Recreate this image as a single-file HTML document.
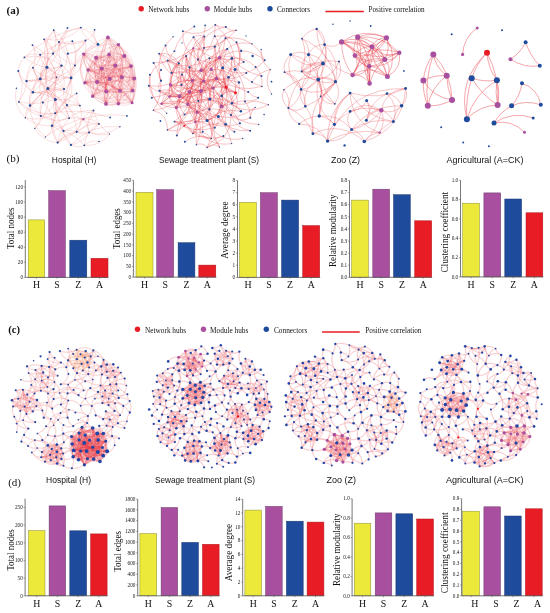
<!DOCTYPE html>
<html lang="en"><head><meta charset="utf-8"><title>Co-occurrence networks</title>
<style>html,body{margin:0;padding:0;background:#fff}svg{display:block}</style></head>
<body>
<svg width="550" height="613" viewBox="0 0 550 613" font-family='"Liberation Serif", serif' fill="#111">
<rect width="550" height="613" fill="#fff"/>
<path d="M44.1 39.3Q51.1 37.1 53.7 30.2M53.0 53.7Q58.7 42.1 53.7 30.2M67.9 53.7Q65.6 39.1 53.7 30.2M53.7 30.2Q39.5 46.8 46.9 67.3M53.7 30.2Q59.3 50.9 74.9 65.6M53.0 53.7Q64.2 43.0 67.5 27.9M67.5 27.9Q54.1 45.1 61.5 65.6M53.0 53.7Q52.8 43.9 44.1 39.3M46.9 67.3Q50.9 52.8 44.1 39.3M44.1 39.3Q55.3 57.4 74.9 65.6M40.2 78.9Q53.3 60.2 44.1 39.3M44.1 39.3Q65.7 43.5 80.8 27.6M46.9 67.3Q59.2 57.6 59.0 41.9M59.0 41.9Q40.3 55.7 40.2 78.9M71.1 77.9Q72.1 57.5 59.0 41.9M80.8 27.6Q65.9 28.6 59.0 41.9M72.4 41.3Q54.3 43.2 40.2 54.7M74.9 65.6Q77.6 53.0 72.4 41.3M32.5 45.1Q34.6 51.3 40.2 54.7M32.9 67.7Q37.9 56.3 32.5 45.1M56.5 77.3Q52.8 55.0 32.5 45.1M53.0 53.7Q46.5 52.5 40.2 54.7M40.2 54.7Q31.7 52.1 24.4 57.3M32.9 67.7Q40.1 63.2 40.2 54.7M40.2 54.7Q41.1 62.3 46.9 67.3M56.5 77.3Q54.4 61.6 40.2 54.7M40.2 54.7Q26.5 64.4 26.5 81.1M53.0 53.7Q46.3 58.9 46.9 67.3M53.0 53.7Q42.6 64.3 40.2 78.9M64.0 89.1Q66.5 68.9 53.0 53.7M85.5 40.6Q67.0 41.6 53.0 53.7M47.8 88.5Q66.4 76.1 67.9 53.7M67.9 53.7Q80.7 52.5 85.5 40.6M24.4 57.3Q34.2 65.6 46.9 67.3M61.5 65.6Q44.9 52.8 24.4 57.3M24.4 57.3Q19.0 63.1 18.3 70.9M32.9 67.7Q42.0 79.2 56.5 77.3M32.9 67.7Q34.7 74.5 40.2 78.9M32.9 67.7Q27.1 73.2 26.5 81.1M32.9 67.7Q35.9 81.3 47.8 88.5M32.9 67.7Q38.7 87.4 55.4 99.5M46.9 67.3Q54.6 69.8 61.5 65.6M56.5 77.3Q54.6 69.5 46.9 67.3M46.9 67.3Q40.2 71.2 40.2 78.9M46.9 67.3Q57.3 76.4 71.1 77.9M46.9 67.3Q43.6 78.1 47.8 88.5M64.0 89.1Q58.4 75.9 46.9 67.3M46.9 67.3Q34.2 76.6 32.9 92.3M46.9 67.3Q42.0 85.8 55.4 99.5M46.9 67.3Q34.5 83.7 42.8 102.5M30.0 105.5Q49.3 91.2 46.9 67.3M61.5 65.6Q49.0 69.2 40.2 78.9M71.1 77.9Q68.8 69.8 61.5 65.6M26.5 81.1Q48.1 82.6 61.5 65.6M61.5 65.6Q50.7 74.7 47.8 88.5M61.5 65.6Q53.0 81.6 55.4 99.5M40.2 78.9Q60.8 80.8 74.9 65.6M74.9 65.6Q69.8 70.8 71.1 77.9M47.8 88.5Q65.6 82.1 74.9 65.6M85.5 40.6Q73.6 50.3 74.9 65.6M98.0 44.4Q80.6 48.6 74.9 65.6M18.3 70.9Q20.3 77.7 26.5 81.1M18.3 70.9Q21.1 84.6 32.9 92.3M18.9 101.9Q25.9 86.3 18.3 70.9M47.8 88.5Q54.4 84.7 56.5 77.3M56.5 77.3Q51.9 88.2 55.4 99.5M42.8 102.5Q56.6 93.7 56.5 77.3M26.5 81.1Q33.6 81.9 40.2 78.9M40.2 78.9Q42.7 84.7 47.8 88.5M40.2 78.9Q34.3 84.4 32.9 92.3M40.2 78.9Q44.6 91.6 55.4 99.5M40.2 78.9Q27.2 89.2 30.0 105.5M71.1 77.9Q56.6 76.9 47.8 88.5M64.0 89.1Q70.6 85.4 71.1 77.9M71.1 77.9Q47.9 74.1 32.9 92.3M55.4 99.5Q69.2 93.0 71.1 77.9M67.0 105.2Q74.2 92.3 71.1 77.9M55.2 113.3Q70.6 98.9 71.1 77.9M71.1 77.9Q60.9 97.6 69.2 118.2M71.1 77.9Q89.0 63.4 85.5 40.6M98.0 44.4Q77.0 55.1 71.1 77.9M64.0 89.1Q47.6 74.0 26.5 81.1M26.5 81.1Q27.1 88.2 32.9 92.3M18.9 101.9Q25.6 92.6 26.5 81.1M16.4 88.3Q12.0 105.7 25.3 117.8M47.8 88.5Q55.7 93.6 64.0 89.1M32.9 92.3Q41.5 94.7 47.8 88.5M55.4 99.5Q54.4 92.0 47.8 88.5M42.8 102.5Q49.3 96.9 47.8 88.5M30.0 105.5Q42.1 100.3 47.8 88.5M79.9 105.6Q68.9 87.7 47.8 88.5M55.2 113.3Q57.4 99.1 47.8 88.5M47.8 88.5Q37.1 100.4 40.8 116.0M47.8 88.5Q31.9 99.6 25.3 117.8M69.2 118.2Q63.8 99.5 47.8 88.5M34.8 128.4Q51.7 111.8 47.8 88.5M64.0 89.1Q42.0 86.9 30.0 105.5M64.0 89.1Q62.1 97.8 67.0 105.2M55.4 99.5Q45.2 92.8 32.9 92.3M32.9 92.3Q28.4 98.2 30.0 105.5M67.0 105.2Q53.7 88.8 32.9 92.3M76.6 93.4Q76.1 100.1 79.9 105.6M76.6 93.4Q62.5 99.6 55.2 113.3M76.6 93.4Q56.6 103.7 52.0 125.8M18.9 101.9Q37.5 105.8 55.4 99.5M67.0 105.2Q62.6 99.5 55.4 99.5M79.9 105.6Q68.9 97.6 55.4 99.5M40.8 116.0Q52.6 111.7 55.4 99.5M55.4 99.5Q58.0 112.0 69.2 118.2M52.0 125.8Q60.0 113.5 55.4 99.5M55.4 99.5Q55.1 116.3 63.5 130.9M52.0 125.8Q53.4 111.8 42.8 102.5M18.9 101.9Q34.4 116.0 55.2 113.3M18.9 101.9Q27.8 112.1 40.8 116.0M40.8 116.0Q36.9 109.2 30.0 105.5M30.0 105.5Q25.0 110.6 25.3 117.8M30.0 105.5Q30.0 125.0 45.4 136.9M79.9 105.6Q73.5 102.7 67.0 105.2M55.2 113.3Q63.0 112.0 67.0 105.2M76.7 131.8Q76.4 116.8 67.0 105.2M67.0 105.2Q77.7 123.5 98.9 123.9M79.9 105.6Q65.8 103.9 55.2 113.3M76.7 131.8Q84.4 119.4 79.9 105.6M25.3 117.8Q41.2 122.0 55.2 113.3M55.2 113.3Q50.1 128.5 57.7 142.6M40.8 116.0Q54.5 123.8 69.2 118.2M63.5 130.9Q56.3 117.1 40.8 116.0M25.3 117.8Q37.1 126.8 52.0 125.8M69.2 118.2Q59.9 128.7 57.7 142.6M93.5 110.5Q79.7 109.1 69.2 118.2M63.5 130.9Q59.3 124.8 52.0 125.8M45.4 136.9Q51.8 133.2 52.0 125.8M52.0 125.8Q52.0 135.2 57.7 142.6M70.9 144.9Q65.4 131.5 52.0 125.8M34.8 128.4Q42.3 141.9 57.7 142.6M76.7 131.8Q70.3 129.1 63.5 130.9M57.7 142.6Q63.6 138.3 63.5 130.9M63.5 130.9Q64.3 139.4 70.9 144.9M84.3 145.3Q75.9 135.2 63.5 130.9M76.7 131.8Q64.8 132.9 57.7 142.6M76.7 131.8Q91.0 125.8 93.5 110.5M98.9 123.9Q86.2 123.3 76.7 131.8M76.7 131.8Q82.7 135.9 89.1 132.4M89.1 132.4Q70.9 129.8 57.7 142.6M70.9 144.9Q83.0 143.1 89.1 132.4M70.9 144.9Q77.5 148.7 84.3 145.3M80.8 27.6Q84.5 41.0 98.0 44.4M85.5 40.6Q93.3 37.9 94.6 29.8M94.6 29.8Q92.4 38.0 98.0 44.4M93.5 110.5Q84.7 120.1 89.1 132.4M93.5 110.5Q97.3 125.1 109.5 134.1M89.1 132.4Q95.3 129.7 98.9 123.9M98.9 123.9Q85.7 130.6 84.3 145.3M89.1 132.4Q106.0 137.4 119.9 126.7M89.1 132.4Q99.0 136.8 109.5 134.1M84.3 145.3Q100.2 147.1 109.5 134.1M59.0 41.9Q72.5 46.7 85.5 40.6M67.9 53.7Q80.7 52.5 85.5 40.6M46.9 67.3Q48.9 75.0 56.5 77.3M64.0 89.1Q56.0 86.1 47.8 88.5M55.4 99.5Q51.6 106.3 55.2 113.3M42.8 102.5Q39.9 109.0 40.8 116.0M34.8 128.4Q40.3 123.4 40.8 116.0M63.5 130.9Q75.0 127.7 83.4 119.1M98.0 44.4Q93.4 31.9 80.8 27.6M99.0 141.5Q90.6 139.4 84.3 145.3M131.1 66.1Q130.1 59.4 124.3 56.0M121.8 77.3Q116.9 83.5 120.0 90.8M118.4 103.8Q115.1 95.0 106.3 91.5M132.7 90.6Q122.0 93.4 118.4 103.8M110.1 117.5Q75.7 105.5 40.8 116.0M80.8 27.6Q48.2 34.1 24.4 57.3M126.9 115.9Q81.9 109.8 45.4 136.9M119.9 126.7Q90.8 123.4 70.9 144.9M83.4 119.1Q65.9 113.9 52.0 125.8M57.7 142.6Q76.1 136.9 83.4 119.1M93.5 110.5Q86.5 112.5 83.4 119.1M98.9 123.9Q92.4 117.5 83.4 119.1M89.1 132.4Q88.2 124.9 83.4 119.1" fill="none" stroke="#e63a44" stroke-width="0.17" stroke-opacity="1" stroke-linecap="round"/>
<path d="M118.4 44.6Q114.6 38.8 107.9 37.4M107.9 37.4Q93.0 41.7 83.6 54.1M109.1 54.6Q114.3 45.6 107.9 37.4M107.9 37.4Q110.7 51.4 124.3 56.0M96.1 57.8Q105.5 49.6 107.9 37.4M115.4 65.4Q120.8 48.9 107.9 37.4M131.1 66.1Q125.2 47.2 107.9 37.4M107.9 37.4Q98.5 51.8 101.8 68.6M88.1 70.0Q104.9 57.9 107.9 37.4M121.8 77.3Q126.7 53.2 107.9 37.4M107.9 37.4Q110.1 65.0 134.3 78.5M109.7 78.8Q120.8 57.6 107.9 37.4M107.9 37.4Q88.1 56.2 97.1 82.0M107.9 37.4Q86.3 54.9 84.9 82.7M107.9 37.4Q98.9 64.2 106.3 91.5M120.0 90.8Q128.4 60.8 107.9 37.4M132.7 90.6Q137.7 55.9 107.9 37.4M118.4 44.6Q98.8 41.5 83.6 54.1M118.4 44.6Q110.5 46.5 109.1 54.6M124.3 56.0Q123.3 49.3 118.4 44.6M96.1 57.8Q109.8 55.5 118.4 44.6M118.4 44.6Q109.7 54.0 115.4 65.4M118.4 44.6Q121.0 57.6 131.1 66.1M101.8 68.6Q115.4 60.3 118.4 44.6M118.4 44.6Q95.5 48.0 88.1 70.0M121.8 77.3Q131.1 59.8 118.4 44.6M134.3 78.5Q137.3 56.4 118.4 44.6M118.4 44.6Q104.2 59.2 109.7 78.8M118.4 44.6Q100.4 59.1 97.1 82.0M118.4 44.6Q90.1 53.5 84.9 82.7M118.4 44.6Q103.6 65.8 106.3 91.5M120.0 90.8Q126.5 67.4 118.4 44.6M132.7 90.6Q133.9 65.0 118.4 44.6M92.7 96.2Q119.0 77.1 118.4 44.6M118.4 103.8Q129.4 74.2 118.4 44.6M132.1 102.7Q144.6 69.1 118.4 44.6M83.6 54.1Q96.2 62.0 109.1 54.6M124.3 56.0Q104.3 47.8 83.6 54.1M96.1 57.8Q90.9 52.5 83.6 54.1M83.6 54.1Q95.9 70.0 115.4 65.4M83.6 54.1Q103.2 76.6 131.1 66.1M83.6 54.1Q89.7 65.1 101.8 68.6M83.6 54.1Q82.1 63.1 88.1 70.0M121.8 77.3Q110.7 52.5 83.6 54.1M83.6 54.1Q104.1 76.4 134.3 78.5M83.6 54.1Q88.9 74.7 109.7 78.8M83.6 54.1Q83.7 71.3 97.1 82.0M83.6 54.1Q76.0 68.8 84.9 82.7M106.3 91.5Q105.8 66.2 83.6 54.1M83.6 54.1Q93.2 80.9 120.0 90.8M83.6 54.1Q73.8 78.2 92.7 96.2M106.0 103.9Q110.6 71.9 83.6 54.1M124.3 56.0Q116.9 53.0 109.1 54.6M96.1 57.8Q103.3 58.9 109.1 54.6M109.1 54.6Q109.0 61.9 115.4 65.4M131.1 66.1Q122.1 56.6 109.1 54.6M101.8 68.6Q110.1 64.0 109.1 54.6M109.1 54.6Q95.3 57.9 88.1 70.0M121.8 77.3Q121.7 62.5 109.1 54.6M109.1 54.6Q116.6 72.0 134.3 78.5M109.1 54.6Q102.3 66.9 109.7 78.8M109.1 54.6Q97.3 65.8 97.1 82.0M84.9 82.7Q103.4 74.2 109.1 54.6M109.1 54.6Q101.2 72.6 106.3 91.5M109.1 54.6Q106.2 75.2 120.0 90.8M132.7 90.6Q129.5 66.9 109.1 54.6M109.1 54.6Q91.7 71.8 92.7 96.2M106.0 103.9Q123.4 80.2 109.1 54.6M118.4 103.8Q129.6 76.2 109.1 54.6M109.1 54.6Q111.3 83.1 132.1 102.7M96.1 57.8Q110.8 65.6 124.3 56.0M124.3 56.0Q118.2 59.2 115.4 65.4M124.3 56.0Q126.1 62.1 131.1 66.1M124.3 56.0Q109.8 56.5 101.8 68.6M124.3 56.0Q102.9 54.6 88.1 70.0M124.3 56.0Q117.3 66.0 121.8 77.3M124.3 56.0Q124.9 69.2 134.3 78.5M109.7 78.8Q123.4 71.5 124.3 56.0M97.1 82.0Q115.5 74.0 124.3 56.0M124.3 56.0Q100.1 62.6 84.9 82.7M124.3 56.0Q103.1 67.6 106.3 91.5M124.3 56.0Q115.1 72.5 120.0 90.8M132.7 90.6Q136.3 71.4 124.3 56.0M124.3 56.0Q100.7 69.9 92.7 96.2M124.3 56.0Q100.5 74.4 106.0 103.9M118.4 103.8Q137.4 81.9 124.3 56.0M132.1 102.7Q143.5 76.8 124.3 56.0M96.1 57.8Q103.4 67.7 115.4 65.4M131.1 66.1Q115.3 55.0 96.1 57.8M96.1 57.8Q96.5 64.5 101.8 68.6M96.1 57.8Q90.0 62.5 88.1 70.0M121.8 77.3Q115.4 59.0 96.1 57.8M96.1 57.8Q110.9 76.1 134.3 78.5M109.7 78.8Q107.2 65.5 96.1 57.8M97.1 82.0Q103.4 69.6 96.1 57.8M96.1 57.8Q86.6 68.5 84.9 82.7M96.1 57.8Q90.0 78.0 106.3 91.5M96.1 57.8Q96.9 82.3 120.0 90.8M132.7 90.6Q123.1 64.5 96.1 57.8M96.1 57.8Q85.8 76.2 92.7 96.2M96.1 57.8Q90.4 83.1 106.0 103.9M96.1 57.8Q94.5 87.0 118.4 103.8M96.1 57.8Q104.8 87.7 132.1 102.7M115.4 65.4Q123.0 70.8 131.1 66.1M115.4 65.4Q107.7 63.0 101.8 68.6M115.4 65.4Q101.0 63.5 88.1 70.0M121.8 77.3Q122.0 69.5 115.4 65.4M134.3 78.5Q129.3 65.6 115.4 65.4M115.4 65.4Q109.1 70.6 109.7 78.8M97.1 82.0Q110.6 78.5 115.4 65.4M84.9 82.7Q103.9 80.7 115.4 65.4M106.3 91.5Q117.2 80.6 115.4 65.4M120.0 90.8Q124.1 76.9 115.4 65.4M115.4 65.4Q115.9 83.6 132.7 90.6M92.7 96.2Q113.0 87.4 115.4 65.4M115.4 65.4Q102.8 82.7 106.0 103.9M115.4 65.4Q106.9 85.4 118.4 103.8M115.4 65.4Q117.8 86.7 132.1 102.7M101.8 68.6Q117.0 73.5 131.1 66.1M88.1 70.0Q110.7 79.8 131.1 66.1M121.8 77.3Q129.4 74.1 131.1 66.1M131.1 66.1Q128.6 73.4 134.3 78.5M131.1 66.1Q117.4 67.4 109.7 78.8M97.1 82.0Q116.7 79.6 131.1 66.1M131.1 66.1Q103.5 61.8 84.9 82.7M131.1 66.1Q110.1 70.4 106.3 91.5M120.0 90.8Q132.7 81.7 131.1 66.1M132.7 90.6Q138.4 77.9 131.1 66.1M131.1 66.1Q103.4 70.3 92.7 96.2M131.1 66.1Q110.8 79.9 106.0 103.9M131.1 66.1Q116.9 82.3 118.4 103.8M132.1 102.7Q137.2 84.2 131.1 66.1M88.1 70.0Q95.2 72.2 101.8 68.6M101.8 68.6Q109.4 78.6 121.8 77.3M134.3 78.5Q120.5 65.4 101.8 68.6M101.8 68.6Q103.6 75.4 109.7 78.8M97.1 82.0Q103.4 76.7 101.8 68.6M84.9 82.7Q95.7 78.5 101.8 68.6M101.8 68.6Q98.4 81.2 106.3 91.5M101.8 68.6Q106.2 83.5 120.0 90.8M132.7 90.6Q123.5 70.8 101.8 68.6M92.7 96.2Q103.6 84.5 101.8 68.6M106.0 103.9Q111.3 85.4 101.8 68.6M118.4 103.8Q116.3 83.3 101.8 68.6M132.1 102.7Q124.1 79.3 101.8 68.6M121.8 77.3Q107.4 62.3 88.1 70.0M88.1 70.0Q108.8 87.2 134.3 78.5M109.7 78.8Q100.7 69.9 88.1 70.0M97.1 82.0Q95.5 73.8 88.1 70.0M84.9 82.7Q90.2 77.3 88.1 70.0M106.3 91.5Q103.1 75.8 88.1 70.0M120.0 90.8Q107.6 74.9 88.1 70.0M132.7 90.6Q117.1 65.8 88.1 70.0M88.1 70.0Q83.4 84.3 92.7 96.2M88.1 70.0Q90.5 90.4 106.0 103.9M118.4 103.8Q114.5 76.8 88.1 70.0M132.1 102.7Q117.2 76.8 88.1 70.0M134.3 78.5Q128.3 75.4 121.8 77.3M121.8 77.3Q115.3 74.6 109.7 78.8M121.8 77.3Q108.0 72.0 97.1 82.0M84.9 82.7Q104.8 89.8 121.8 77.3M106.3 91.5Q118.6 89.4 121.8 77.3M121.8 77.3Q118.0 83.7 120.0 90.8M121.8 77.3Q123.0 87.4 132.7 90.6M121.8 77.3Q101.7 78.2 92.7 96.2M121.8 77.3Q106.9 86.4 106.0 103.9M121.8 77.3Q114.5 89.8 118.4 103.8M132.1 102.7Q135.2 86.6 121.8 77.3M109.7 78.8Q122.1 85.6 134.3 78.5M134.3 78.5Q114.7 70.0 97.1 82.0M134.3 78.5Q108.9 72.7 84.9 82.7M106.3 91.5Q124.5 94.0 134.3 78.5M134.3 78.5Q124.5 81.5 120.0 90.8M132.7 90.6Q136.2 84.9 134.3 78.5M134.3 78.5Q109.1 77.1 92.7 96.2M134.3 78.5Q115.0 85.5 106.0 103.9M118.4 103.8Q133.9 95.9 134.3 78.5M134.3 78.5Q127.6 90.1 132.1 102.7M97.1 82.0Q104.5 84.7 109.7 78.8M109.7 78.8Q96.0 72.5 84.9 82.7M109.7 78.8Q104.2 84.1 106.3 91.5M109.7 78.8Q111.8 87.4 120.0 90.8M132.7 90.6Q123.3 80.6 109.7 78.8M109.7 78.8Q97.0 83.4 92.7 96.2M109.7 78.8Q100.2 90.2 106.0 103.9M118.4 103.8Q118.6 89.7 109.7 78.8M109.7 78.8Q113.4 97.8 132.1 102.7M97.1 82.0Q90.9 79.9 84.9 82.7M106.3 91.5Q104.0 84.5 97.1 82.0M120.0 90.8Q110.3 81.9 97.1 82.0M97.1 82.0Q112.5 96.2 132.7 90.6M92.7 96.2Q99.5 90.5 97.1 82.0M106.0 103.9Q104.9 91.6 97.1 82.0M118.4 103.8Q115.3 85.5 97.1 82.0M132.1 102.7Q118.7 85.5 97.1 82.0M84.9 82.7Q93.9 91.2 106.3 91.5M120.0 90.8Q103.9 80.6 84.9 82.7M84.9 82.7Q107.0 97.4 132.7 90.6M92.7 96.2Q92.3 87.4 84.9 82.7M106.0 103.9Q102.8 86.0 84.9 82.7M118.4 103.8Q108.6 82.3 84.9 82.7M132.1 102.7Q115.0 77.4 84.9 82.7M106.3 91.5Q113.3 94.0 120.0 90.8M132.7 90.6Q119.3 86.2 106.3 91.5M106.3 91.5Q98.7 91.5 92.7 96.2M106.3 91.5Q101.9 97.6 106.0 103.9M106.3 91.5Q108.8 101.1 118.4 103.8M132.1 102.7Q122.5 89.5 106.3 91.5M132.7 90.6Q126.3 86.6 120.0 90.8M120.0 90.8Q104.9 86.1 92.7 96.2M120.0 90.8Q110.1 94.3 106.0 103.9M120.0 90.8Q115.6 96.9 118.4 103.8M132.1 102.7Q129.7 93.0 120.0 90.8M92.7 96.2Q114.0 102.9 132.7 90.6M132.7 90.6Q116.6 91.8 106.0 103.9M132.7 90.6Q121.9 93.2 118.4 103.8M132.1 102.7Q135.6 96.8 132.7 90.6M106.0 103.9Q100.6 97.8 92.7 96.2M92.7 96.2Q103.4 107.3 118.4 103.8M92.7 96.2Q111.2 106.5 132.1 102.7M106.0 103.9Q112.2 107.0 118.4 103.8M132.1 102.7Q118.7 95.1 106.0 103.9M118.4 103.8Q125.6 107.6 132.1 102.7M107.9 37.4Q97.8 51.6 101.8 68.6M124.3 56.0Q124.1 48.9 118.4 44.6M83.6 54.1Q96.3 59.0 109.1 54.6M83.6 54.1Q83.9 71.2 97.1 82.0M83.6 54.1Q78.1 68.7 84.9 82.7M96.1 57.8Q103.3 59.1 109.1 54.6M115.4 65.4Q115.4 58.2 109.1 54.6M97.1 82.0Q110.1 71.4 109.1 54.6M124.3 56.0Q109.6 47.5 96.1 57.8M88.1 70.0Q95.9 66.4 96.1 57.8M121.8 77.3Q113.3 61.8 96.1 57.8M97.1 82.0Q104.4 69.6 96.1 57.8M131.1 66.1Q123.4 62.5 115.4 65.4M121.8 77.3Q121.9 69.6 115.4 65.4M109.7 78.8Q114.8 73.1 115.4 65.4M115.4 65.4Q103.2 70.4 97.1 82.0M115.4 65.4Q105.3 76.5 106.3 91.5M132.7 90.6Q128.5 74.9 115.4 65.4M132.1 102.7Q137.4 84.2 131.1 66.1M88.1 70.0Q95.3 73.0 101.8 68.6M109.7 78.8Q107.5 72.3 101.8 68.6M101.8 68.6Q95.9 74.0 97.1 82.0M101.8 68.6Q99.5 81.0 106.3 91.5M109.7 78.8Q101.9 66.9 88.1 70.0M121.8 77.3Q115.3 74.2 109.7 78.8M97.1 82.0Q110.6 85.7 121.8 77.3M106.3 91.5Q117.4 88.1 121.8 77.3M121.8 77.3Q106.3 86.1 106.0 103.9M134.3 78.5Q121.6 88.2 118.4 103.8M92.7 96.2Q104.9 91.1 109.7 78.8M109.7 78.8Q101.5 90.4 106.0 103.9M84.9 82.7Q91.1 84.9 97.1 82.0M97.1 82.0Q91.0 87.9 92.7 96.2M84.9 82.7Q93.9 91.2 106.3 91.5M120.0 90.8Q104.5 77.8 84.9 82.7M106.0 103.9Q98.6 90.1 84.9 82.7M92.7 96.2Q100.3 96.3 106.3 91.5M132.1 102.7Q128.7 94.0 120.0 90.8M118.4 103.8Q128.7 100.6 132.7 90.6M92.7 96.2Q102.9 108.9 118.4 103.8M118.4 103.8Q112.2 100.9 106.0 103.9M132.1 102.7Q125.1 101.2 118.4 103.8" fill="none" stroke="#e63a44" stroke-width="0.15" stroke-opacity="1" stroke-linecap="round"/>
<circle cx="53.7" cy="30.2" r="0.90" fill="#1f4b9c"/>
<circle cx="67.5" cy="27.9" r="0.90" fill="#1f4b9c"/>
<circle cx="44.1" cy="39.3" r="0.90" fill="#1f4b9c"/>
<circle cx="59.0" cy="41.9" r="1.00" fill="#1f4b9c"/>
<circle cx="72.4" cy="41.3" r="1.00" fill="#1f4b9c"/>
<circle cx="32.5" cy="45.1" r="0.90" fill="#1f4b9c"/>
<circle cx="40.2" cy="54.7" r="1.00" fill="#1f4b9c"/>
<circle cx="53.0" cy="53.7" r="1.10" fill="#1f4b9c"/>
<circle cx="67.9" cy="53.7" r="1.10" fill="#1f4b9c"/>
<circle cx="24.4" cy="57.3" r="0.90" fill="#1f4b9c"/>
<circle cx="32.9" cy="67.7" r="0.90" fill="#1f4b9c"/>
<circle cx="46.9" cy="67.3" r="1.50" fill="#1f4b9c"/>
<circle cx="61.5" cy="65.6" r="1.20" fill="#1f4b9c"/>
<circle cx="74.9" cy="65.6" r="1.00" fill="#1f4b9c"/>
<circle cx="18.3" cy="70.9" r="1.00" fill="#1f4b9c"/>
<circle cx="56.5" cy="77.3" r="0.80" fill="#1f4b9c"/>
<circle cx="40.2" cy="78.9" r="1.40" fill="#1f4b9c"/>
<circle cx="71.1" cy="77.9" r="1.40" fill="#1f4b9c"/>
<circle cx="26.5" cy="81.1" r="1.20" fill="#1f4b9c"/>
<circle cx="16.4" cy="88.3" r="0.80" fill="#1f4b9c"/>
<circle cx="47.8" cy="88.5" r="1.50" fill="#1f4b9c"/>
<circle cx="64.0" cy="89.1" r="1.10" fill="#1f4b9c"/>
<circle cx="32.9" cy="92.3" r="1.30" fill="#1f4b9c"/>
<circle cx="76.6" cy="93.4" r="0.90" fill="#1f4b9c"/>
<circle cx="55.4" cy="99.5" r="1.50" fill="#1f4b9c"/>
<circle cx="42.8" cy="102.5" r="1.10" fill="#1f4b9c"/>
<circle cx="18.9" cy="101.9" r="0.90" fill="#1f4b9c"/>
<circle cx="30.0" cy="105.5" r="1.20" fill="#1f4b9c"/>
<circle cx="67.0" cy="105.2" r="1.10" fill="#1f4b9c"/>
<circle cx="79.9" cy="105.6" r="0.90" fill="#1f4b9c"/>
<circle cx="55.2" cy="113.3" r="1.00" fill="#1f4b9c"/>
<circle cx="40.8" cy="116.0" r="1.10" fill="#1f4b9c"/>
<circle cx="25.3" cy="117.8" r="0.70" fill="#1f4b9c"/>
<circle cx="69.2" cy="118.2" r="0.90" fill="#1f4b9c"/>
<circle cx="52.0" cy="125.8" r="1.20" fill="#1f4b9c"/>
<circle cx="34.8" cy="128.4" r="0.70" fill="#1f4b9c"/>
<circle cx="63.5" cy="130.9" r="1.10" fill="#1f4b9c"/>
<circle cx="76.7" cy="131.8" r="1.10" fill="#1f4b9c"/>
<circle cx="45.4" cy="136.9" r="0.70" fill="#1f4b9c"/>
<circle cx="57.7" cy="142.6" r="1.10" fill="#1f4b9c"/>
<circle cx="70.9" cy="144.9" r="1.10" fill="#1f4b9c"/>
<circle cx="80.8" cy="27.6" r="0.90" fill="#1f4b9c"/>
<circle cx="94.6" cy="29.8" r="0.90" fill="#1f4b9c"/>
<circle cx="85.5" cy="40.6" r="1.00" fill="#1f4b9c"/>
<circle cx="98.0" cy="44.4" r="1.40" fill="#1f4b9c"/>
<circle cx="93.5" cy="110.5" r="0.90" fill="#1f4b9c"/>
<circle cx="110.1" cy="117.5" r="0.90" fill="#1f4b9c"/>
<circle cx="126.9" cy="115.9" r="0.90" fill="#1f4b9c"/>
<circle cx="98.9" cy="123.9" r="0.90" fill="#1f4b9c"/>
<circle cx="119.9" cy="126.7" r="0.70" fill="#1f4b9c"/>
<circle cx="89.1" cy="132.4" r="1.00" fill="#1f4b9c"/>
<circle cx="109.5" cy="134.1" r="0.70" fill="#1f4b9c"/>
<circle cx="99.0" cy="141.5" r="0.80" fill="#1f4b9c"/>
<circle cx="84.3" cy="145.3" r="0.90" fill="#1f4b9c"/>
<circle cx="107.9" cy="37.4" r="1.90" fill="#a8509f"/>
<circle cx="118.4" cy="44.6" r="1.70" fill="#a8509f"/>
<circle cx="83.6" cy="54.1" r="1.70" fill="#a8509f"/>
<circle cx="109.1" cy="54.6" r="1.90" fill="#a8509f"/>
<circle cx="124.3" cy="56.0" r="2.10" fill="#a8509f"/>
<circle cx="96.1" cy="57.8" r="2.00" fill="#a8509f"/>
<circle cx="115.4" cy="65.4" r="2.00" fill="#a8509f"/>
<circle cx="131.1" cy="66.1" r="1.90" fill="#a8509f"/>
<circle cx="101.8" cy="68.6" r="2.00" fill="#a8509f"/>
<circle cx="88.1" cy="70.0" r="1.70" fill="#a8509f"/>
<circle cx="121.8" cy="77.3" r="2.00" fill="#a8509f"/>
<circle cx="134.3" cy="78.5" r="1.90" fill="#a8509f"/>
<circle cx="109.7" cy="78.8" r="2.10" fill="#a8509f"/>
<circle cx="97.1" cy="82.0" r="2.10" fill="#a8509f"/>
<circle cx="84.9" cy="82.7" r="1.70" fill="#a8509f"/>
<circle cx="106.3" cy="91.5" r="2.00" fill="#a8509f"/>
<circle cx="120.0" cy="90.8" r="1.90" fill="#a8509f"/>
<circle cx="132.7" cy="90.6" r="1.90" fill="#a8509f"/>
<circle cx="92.7" cy="96.2" r="1.70" fill="#a8509f"/>
<circle cx="106.0" cy="103.9" r="1.90" fill="#a8509f"/>
<circle cx="118.4" cy="103.8" r="1.70" fill="#a8509f"/>
<circle cx="132.1" cy="102.7" r="1.50" fill="#a8509f"/>
<circle cx="83.4" cy="119.1" r="1.20" fill="#a8509f"/>
<path d="M194.3 26.6Q178.8 34.4 174.4 51.2M193.2 48.3Q205.8 40.2 205.2 25.3M182.9 31.2Q180.8 50.4 197.9 59.5M182.9 31.2Q201.1 38.3 215.3 24.8M173.1 36.8Q153.6 55.0 161.0 80.7M204.3 36.5Q198.7 33.9 193.5 37.2M193.5 37.2Q179.4 53.3 182.0 74.5M203.6 81.1Q212.2 56.0 193.5 37.2M193.5 37.2Q198.5 57.6 219.5 57.8M204.3 36.5Q201.8 42.2 204.0 48.0M197.9 59.5Q206.6 49.5 204.3 36.5M204.3 36.5Q195.1 38.9 193.2 48.3M204.3 36.5Q192.0 52.4 201.1 70.3M165.5 45.5Q166.8 58.4 178.8 63.3M181.4 84.9Q200.1 71.0 204.0 48.0M204.0 48.0Q223.6 45.4 236.1 30.2M174.4 51.2Q164.6 60.9 171.6 72.8M178.8 63.3Q172.3 51.6 159.1 53.7M171.6 72.8Q169.3 60.7 159.1 53.7M181.4 84.9Q181.3 61.4 159.1 53.7M159.1 53.7Q165.5 79.7 192.2 80.5M186.1 55.9Q175.1 61.1 171.6 72.8M182.0 74.5Q189.9 66.5 186.1 55.9M181.4 84.9Q189.9 71.4 186.1 55.9M214.8 46.7Q198.7 45.7 186.1 55.9M186.1 55.9Q182.5 69.8 192.2 80.5M186.1 55.9Q186.7 74.1 203.6 81.1M186.1 55.9Q171.0 66.5 170.5 84.9M187.7 104.2Q200.5 79.6 186.1 55.9M167.7 60.5Q189.3 73.1 209.4 58.2M222.7 67.7Q219.0 58.8 209.4 58.2M235.1 69.6Q226.7 53.9 209.4 58.2M209.4 58.2Q200.9 61.3 201.1 70.3M209.4 58.2Q209.9 84.9 235.5 92.7M171.6 72.8Q189.8 76.1 197.9 59.5M197.9 59.5Q216.0 46.8 215.3 24.8M225.9 27.0Q198.7 31.8 197.9 59.5M209.8 99.1Q211.4 77.0 197.9 59.5M203.6 81.1Q205.2 69.1 197.9 59.5M226.2 87.1Q222.3 62.8 197.9 59.5M167.7 60.5Q148.1 65.6 148.9 85.8M192.2 80.5Q184.8 64.6 167.7 60.5M167.7 60.5Q186.9 77.5 211.3 69.4M153.4 110.3Q168.6 86.7 153.6 62.9M153.6 62.9Q176.1 62.9 193.2 48.3M178.8 63.3Q172.1 75.1 181.4 84.9M178.8 63.3Q187.8 73.8 201.1 70.3M178.8 63.3Q167.2 71.2 170.5 84.9M178.8 63.3Q167.0 77.9 169.5 96.5M161.6 103.8Q182.7 88.9 178.8 63.3M181.4 84.9Q192.1 79.2 189.6 67.3M209.4 109.3Q207.2 84.7 189.6 67.3M189.6 67.3Q188.0 74.5 192.2 80.5M203.6 81.1Q202.0 68.7 189.6 67.3M176.3 107.6Q190.5 90.0 189.6 67.3M161.0 69.9Q156.9 75.3 161.0 80.7M203.6 81.1Q189.9 68.2 171.6 72.8M182.0 74.5Q179.4 79.6 181.4 84.9M148.9 85.8Q168.6 89.2 182.0 74.5M151.8 97.8Q174.5 96.0 182.0 74.5M182.0 74.5Q194.1 89.4 213.2 88.1M182.0 74.5Q185.0 90.3 201.1 91.1M187.7 104.2Q190.5 88.3 182.0 74.5M149.9 74.7Q148.0 98.5 166.7 113.3M161.0 80.7Q157.0 85.3 159.5 90.8M181.4 84.9Q196.5 94.9 213.2 88.1M181.4 84.9Q178.4 96.6 187.7 104.2M148.9 85.8Q162.3 96.7 179.5 96.2M148.9 85.8Q153.5 108.1 176.3 107.6M215.3 24.8Q220.1 28.2 225.9 27.0M235.1 69.6Q236.2 42.3 215.3 24.8M225.9 27.0Q230.0 31.7 236.1 30.2M236.1 30.2Q220.2 31.7 214.8 46.7M241.2 50.9Q234.0 32.7 214.8 36.2M219.5 57.8Q221.2 46.1 214.8 36.2M264.7 60.3Q253.2 34.9 225.5 38.2M193.2 48.3Q213.0 55.1 225.5 38.2M201.1 70.3Q224.0 62.4 225.5 38.2M225.5 38.2Q211.1 56.1 216.6 78.5M228.5 77.3Q246.1 62.9 236.5 42.3M226.2 87.1Q246.7 68.2 236.5 42.3M252.0 43.8Q230.7 39.0 219.5 57.8M201.1 70.3Q215.1 62.6 214.8 46.7M211.3 69.4Q219.0 59.0 214.8 46.7M201.1 91.1Q220.3 72.7 214.8 46.7M227.2 49.0Q237.3 71.4 261.5 76.0M227.2 49.0Q202.0 55.2 203.6 81.1M227.2 49.0Q221.0 51.3 219.5 57.8M227.2 49.0Q214.9 61.2 216.6 78.5M227.2 49.0Q218.6 67.8 226.2 87.1M241.2 50.9Q238.1 57.4 243.7 62.0M261.2 49.5Q259.9 62.1 270.2 69.6M255.6 67.1Q245.9 56.8 231.9 58.4M231.9 58.4Q225.5 61.2 222.7 67.7M231.9 58.4Q239.8 80.1 261.9 86.5M209.8 99.1Q233.6 85.7 231.9 58.4M219.5 57.8Q225.5 61.3 231.9 58.4M213.2 88.1Q232.1 79.2 231.9 58.4M231.9 58.4Q209.2 67.9 201.1 91.1M222.7 67.7Q246.8 81.5 264.7 60.3M264.7 60.3Q243.0 42.5 219.5 57.8M243.7 62.0Q219.5 70.4 221.7 95.9M243.7 62.0Q232.8 52.7 219.5 57.8M261.9 86.5Q263.5 75.2 255.6 67.1M222.7 67.7Q210.4 81.0 209.8 99.1M222.7 67.7Q229.5 86.1 248.2 92.1M221.7 95.9Q228.8 82.0 222.7 67.7M222.7 67.7Q221.9 93.6 240.9 111.2M203.6 81.1Q218.3 81.8 222.7 67.7M201.1 91.1Q217.2 84.3 222.7 67.7M228.5 77.3Q235.0 76.2 235.1 69.6M245.0 101.6Q246.4 83.6 235.1 69.6M219.5 57.8Q222.7 69.8 235.1 69.6M270.2 69.6Q258.5 71.9 252.0 82.0M270.2 69.6Q263.3 82.2 271.5 94.0M201.1 70.3Q222.8 86.8 246.3 73.1M221.7 95.9Q229.4 88.2 228.5 77.3M228.5 77.3Q210.2 99.8 225.7 124.3M216.6 78.5Q222.9 81.2 228.5 77.3M231.9 103.2Q240.9 94.7 239.0 82.4M239.0 82.4Q228.8 68.2 211.3 69.4M239.0 82.4Q224.2 76.7 213.2 88.1M239.0 82.4Q234.2 86.5 235.5 92.7M216.6 78.5Q237.3 93.4 261.9 86.5M159.5 90.8Q180.2 98.6 201.1 91.1M179.5 96.2Q171.2 87.2 159.5 90.8M176.3 107.6Q171.1 96.0 159.5 90.8M209.4 109.3Q213.2 104.3 209.8 99.1M209.8 99.1Q194.0 101.7 184.5 114.6M209.8 99.1Q193.3 119.0 196.4 144.7M231.0 115.0Q223.6 102.8 209.8 99.1M239.9 123.3Q231.7 102.7 209.8 99.1M192.2 80.5Q195.0 95.5 209.8 99.1M179.5 96.2Q193.7 107.9 209.8 99.1M192.8 133.5Q204.0 118.7 198.3 101.0M231.9 103.2Q215.6 94.0 198.3 101.0M203.6 81.1Q193.7 89.1 198.3 101.0M216.6 78.5Q201.7 85.1 198.3 101.0M213.2 88.1Q200.4 88.4 198.3 101.0M198.3 101.0Q196.2 94.3 189.6 91.8M167.4 130.0Q168.4 114.5 153.4 110.3M153.4 110.3Q174.9 107.6 189.6 91.8M209.4 109.3Q204.5 114.1 207.1 120.5M174.4 121.6Q195.2 124.8 209.4 109.3M207.1 147.5Q217.2 128.9 209.4 109.3M231.6 143.6Q227.4 122.0 209.4 109.3M209.4 109.3Q206.4 130.3 219.5 147.1M209.4 109.3Q215.0 93.5 203.6 81.1M216.6 78.5Q206.1 92.3 209.4 109.3M201.1 91.1Q200.4 102.4 209.4 109.3M209.4 109.3Q193.2 101.1 176.3 107.6M207.1 120.5Q198.2 108.5 184.5 114.6M184.5 114.6Q176.8 123.6 176.9 135.4M179.5 96.2Q177.6 106.6 184.5 114.6M197.3 112.2Q190.2 109.6 184.5 114.6M240.9 111.2Q221.6 107.0 207.1 120.5M211.3 138.5Q214.4 128.3 207.1 120.5M207.1 120.5Q217.8 143.6 242.7 138.5M207.1 120.5Q196.3 103.1 176.3 107.6M207.1 120.5Q205.0 113.1 197.3 112.2M207.1 120.5Q200.7 116.7 195.4 122.0M207.1 120.5Q218.8 117.9 221.5 106.3M207.1 120.5Q230.0 111.5 226.2 87.1M192.8 133.5Q187.5 121.5 174.4 121.6M174.4 121.6Q193.1 134.4 214.8 127.7M174.4 121.6Q190.5 111.0 189.6 91.8M174.4 121.6Q184.8 126.6 195.4 122.0M214.8 127.7Q190.3 113.0 167.4 130.0M167.4 130.0Q194.5 120.2 189.6 91.8M167.4 130.0Q177.2 133.3 184.3 125.8M202.7 131.8Q205.9 112.2 187.7 104.2M225.7 124.3Q207.0 120.9 192.8 133.5M211.3 138.5Q203.9 129.0 192.8 133.5M192.8 133.5Q202.0 111.8 189.6 91.8M192.8 133.5Q198.6 128.8 195.4 122.0M176.9 135.4Q186.2 121.3 176.3 107.6M211.3 138.5Q197.2 132.5 184.9 141.7M207.1 147.5Q202.8 141.9 196.4 144.7M196.4 144.7Q207.9 121.0 187.7 104.2M207.1 147.5Q231.0 140.0 231.0 115.0M223.4 136.0Q212.7 138.1 207.1 147.5M219.5 147.1Q213.1 142.1 207.1 147.5M248.2 92.1Q252.1 96.8 258.1 97.8M221.7 95.9Q239.1 111.9 258.1 97.8M221.7 95.9Q241.5 118.9 268.3 104.8M221.7 95.9Q230.0 123.4 258.7 124.5M221.7 95.9Q206.6 86.8 189.6 91.8M221.5 106.3Q223.7 101.1 221.7 95.9M221.7 95.9Q227.5 93.3 226.2 87.1M235.5 92.7Q227.3 88.9 221.7 95.9M268.3 104.8Q250.4 97.2 231.9 103.2M231.9 103.2Q228.7 75.4 201.1 70.3M250.3 117.8Q250.7 108.7 245.0 101.6M218.3 116.5Q238.9 120.6 255.2 107.4M255.2 107.4Q250.6 111.6 250.3 117.8M240.9 111.2Q233.2 100.6 221.5 106.3M231.0 115.0Q239.6 123.9 250.3 117.8M231.0 115.0Q235.9 128.5 250.1 130.7M231.0 115.0Q214.9 104.1 197.3 112.2M231.0 115.0Q238.2 99.4 226.2 87.1M231.0 115.0Q241.2 105.5 235.5 92.7M214.8 127.7Q218.9 122.8 218.3 116.5M218.3 116.5Q230.0 133.1 250.1 130.7M189.6 91.8Q197.4 111.7 218.3 116.5M218.3 116.5Q224.1 112.7 221.5 106.3M197.3 112.2Q214.7 132.9 239.9 123.3M225.7 124.3Q228.4 130.0 234.4 131.8M225.7 124.3Q226.6 103.7 213.2 88.1M214.8 127.7Q208.3 107.8 187.7 104.2M214.8 127.7Q233.2 111.0 226.2 87.1M234.4 131.8Q219.4 115.2 197.3 112.2M184.3 125.8Q200.4 144.1 223.4 136.0M176.3 107.6Q184.2 134.0 211.3 138.5M195.4 122.0Q204.5 147.9 231.6 143.6M221.5 106.3Q206.1 126.0 219.5 147.1M193.2 48.3Q184.4 64.1 192.2 80.5M193.2 48.3Q184.8 69.0 203.6 81.1M193.2 48.3Q171.9 60.4 170.5 84.9M193.2 48.3Q197.7 62.7 211.3 69.4M189.6 91.8Q199.3 70.7 193.2 48.3M170.5 84.9Q191.7 89.9 201.1 70.3M201.1 70.3Q214.4 70.1 219.5 57.8M201.1 70.3Q206.9 78.1 216.6 78.5M201.1 70.3Q180.9 83.8 176.3 107.6M203.6 81.1Q198.1 76.6 192.2 80.5M219.5 57.8Q201.5 63.9 192.2 80.5M213.2 88.1Q204.7 78.9 192.2 80.5M189.6 91.8Q194.4 87.0 192.2 80.5M192.2 80.5Q167.3 79.5 161.6 103.8M192.2 80.5Q181.4 90.7 187.7 104.2M176.3 107.6Q192.4 98.9 192.2 80.5M197.3 112.2Q208.0 94.2 192.2 80.5M192.2 80.5Q180.1 102.3 195.4 122.0M221.5 106.3Q213.8 85.5 192.2 80.5M226.2 87.1Q211.0 74.5 192.2 80.5M170.5 84.9Q188.3 93.8 203.6 81.1M219.5 57.8Q205.6 65.4 203.6 81.1M211.3 69.4Q203.8 72.9 203.6 81.1M203.6 81.1Q211.0 84.1 216.6 78.5M203.6 81.1Q192.3 80.9 189.6 91.8M203.6 81.1Q198.8 85.2 201.1 91.1M169.5 96.5Q191.1 98.8 203.6 81.1M203.6 81.1Q190.7 89.2 187.7 104.2M221.5 106.3Q220.3 88.2 203.6 81.1M213.2 88.1Q192.8 73.4 170.5 84.9M189.6 91.8Q181.7 83.8 170.5 84.9M170.5 84.9Q183.5 99.5 201.1 91.1M170.5 84.9Q171.2 93.6 179.5 96.2M169.5 96.5Q174.6 91.1 170.5 84.9M161.6 103.8Q169.6 96.0 170.5 84.9M170.5 84.9Q171.8 101.1 187.7 104.2M195.4 122.0Q190.7 98.2 170.5 84.9M219.5 57.8Q212.6 61.6 211.3 69.4M219.5 57.8Q212.6 67.4 216.6 78.5M213.2 88.1Q225.6 74.9 219.5 57.8M219.5 57.8Q197.7 68.8 189.6 91.8M219.5 57.8Q196.3 66.7 201.1 91.1M235.5 92.7Q237.5 70.6 219.5 57.8M211.3 69.4Q198.1 76.5 201.1 91.1M187.7 104.2Q207.0 91.9 211.3 69.4M221.5 106.3Q226.3 85.1 211.3 69.4M213.2 88.1Q217.2 84.1 216.6 78.5M216.6 78.5Q205.6 80.7 201.1 91.1M216.6 78.5Q194.8 80.5 179.5 96.2M216.6 78.5Q194.0 82.2 187.7 104.2M216.6 78.5Q199.4 91.0 197.3 112.2M226.2 87.1Q223.5 80.4 216.6 78.5M216.6 78.5Q222.7 90.1 235.5 92.7M169.5 96.5Q193.0 101.1 213.2 88.1M195.4 122.0Q217.4 111.9 213.2 88.1M213.2 88.1Q212.2 99.5 221.5 106.3M235.5 92.7Q225.9 83.1 213.2 88.1M189.6 91.8Q195.5 93.6 201.1 91.1M189.6 91.8Q183.4 91.3 179.5 96.2M161.6 103.8Q178.6 104.8 189.6 91.8M189.6 91.8Q184.5 97.4 187.7 104.2M179.5 96.2Q191.6 99.4 201.1 91.1M201.1 91.1Q183.6 83.7 169.5 96.5M161.6 103.8Q184.2 106.4 201.1 91.1M187.7 104.2Q199.0 102.4 201.1 91.1M201.1 91.1Q183.1 90.9 176.3 107.6M201.1 91.1Q192.2 105.4 195.4 122.0M221.5 106.3Q215.4 93.2 201.1 91.1M235.5 92.7Q218.8 81.6 201.1 91.1M184.3 125.8Q205.3 114.5 201.1 91.1M179.5 96.2Q174.4 93.1 169.5 96.5M179.5 96.2Q168.3 94.8 161.6 103.8M176.3 107.6Q181.1 102.8 179.5 96.2M179.5 96.2Q170.2 112.9 184.3 125.8M169.5 96.5Q169.6 104.1 176.3 107.6M197.3 112.2Q189.3 93.8 169.5 96.5M197.3 112.2Q182.5 95.2 161.6 103.8M187.7 104.2Q191.0 110.0 197.3 112.2M195.4 122.0Q197.1 110.7 187.7 104.2M221.5 106.3Q205.4 92.9 187.7 104.2M197.3 112.2Q217.6 106.4 226.2 87.1M195.4 122.0Q214.4 124.0 221.5 106.3M221.5 106.3Q231.2 102.3 235.5 92.7" fill="none" stroke="#e63a44" stroke-width="0.31" stroke-opacity="1" stroke-linecap="round"/>
<circle cx="194.3" cy="26.6" r="1.00" fill="#1f4b9c"/>
<circle cx="205.2" cy="25.3" r="0.90" fill="#1f4b9c"/>
<circle cx="182.9" cy="31.2" r="0.90" fill="#1f4b9c"/>
<circle cx="173.1" cy="36.8" r="0.70" fill="#1f4b9c"/>
<circle cx="193.5" cy="37.2" r="1.00" fill="#1f4b9c"/>
<circle cx="204.3" cy="36.5" r="1.00" fill="#1f4b9c"/>
<circle cx="182.0" cy="42.9" r="0.70" fill="#1f4b9c"/>
<circle cx="165.5" cy="45.5" r="1.00" fill="#1f4b9c"/>
<circle cx="204.0" cy="48.0" r="0.90" fill="#1f4b9c"/>
<circle cx="174.4" cy="51.2" r="0.90" fill="#1f4b9c"/>
<circle cx="159.1" cy="53.7" r="0.90" fill="#1f4b9c"/>
<circle cx="186.1" cy="55.9" r="1.00" fill="#1f4b9c"/>
<circle cx="209.4" cy="58.2" r="1.00" fill="#1f4b9c"/>
<circle cx="197.9" cy="59.5" r="1.00" fill="#1f4b9c"/>
<circle cx="167.7" cy="60.5" r="1.00" fill="#1f4b9c"/>
<circle cx="153.6" cy="62.9" r="1.00" fill="#1f4b9c"/>
<circle cx="178.8" cy="63.3" r="1.10" fill="#1f4b9c"/>
<circle cx="189.6" cy="67.3" r="1.10" fill="#1f4b9c"/>
<circle cx="161.0" cy="69.9" r="1.00" fill="#1f4b9c"/>
<circle cx="171.6" cy="72.8" r="1.10" fill="#1f4b9c"/>
<circle cx="182.0" cy="74.5" r="1.00" fill="#1f4b9c"/>
<circle cx="149.9" cy="74.7" r="1.00" fill="#1f4b9c"/>
<circle cx="161.0" cy="80.7" r="1.10" fill="#1f4b9c"/>
<circle cx="181.4" cy="84.9" r="1.10" fill="#1f4b9c"/>
<circle cx="148.9" cy="85.8" r="1.00" fill="#1f4b9c"/>
<circle cx="215.3" cy="24.8" r="0.90" fill="#1f4b9c"/>
<circle cx="225.9" cy="27.0" r="1.00" fill="#1f4b9c"/>
<circle cx="236.1" cy="30.2" r="0.70" fill="#1f4b9c"/>
<circle cx="246.0" cy="35.9" r="0.70" fill="#1f4b9c"/>
<circle cx="214.8" cy="36.2" r="1.00" fill="#1f4b9c"/>
<circle cx="225.5" cy="38.2" r="1.00" fill="#1f4b9c"/>
<circle cx="236.5" cy="42.3" r="1.00" fill="#1f4b9c"/>
<circle cx="252.0" cy="43.8" r="0.70" fill="#1f4b9c"/>
<circle cx="214.8" cy="46.7" r="1.10" fill="#1f4b9c"/>
<circle cx="227.2" cy="49.0" r="1.10" fill="#1f4b9c"/>
<circle cx="241.2" cy="50.9" r="1.10" fill="#1f4b9c"/>
<circle cx="261.2" cy="49.5" r="0.70" fill="#1f4b9c"/>
<circle cx="252.6" cy="56.0" r="1.20" fill="#1f4b9c"/>
<circle cx="231.9" cy="58.4" r="1.40" fill="#1f4b9c"/>
<circle cx="264.7" cy="60.3" r="1.00" fill="#1f4b9c"/>
<circle cx="243.7" cy="62.0" r="1.00" fill="#1f4b9c"/>
<circle cx="255.6" cy="67.1" r="1.00" fill="#1f4b9c"/>
<circle cx="222.7" cy="67.7" r="1.50" fill="#1f4b9c"/>
<circle cx="235.1" cy="69.6" r="1.50" fill="#1f4b9c"/>
<circle cx="270.2" cy="69.6" r="0.70" fill="#1f4b9c"/>
<circle cx="246.3" cy="73.1" r="1.00" fill="#1f4b9c"/>
<circle cx="261.5" cy="76.0" r="1.00" fill="#1f4b9c"/>
<circle cx="228.5" cy="77.3" r="1.30" fill="#1f4b9c"/>
<circle cx="239.0" cy="82.4" r="1.20" fill="#1f4b9c"/>
<circle cx="252.0" cy="82.0" r="1.00" fill="#1f4b9c"/>
<circle cx="271.5" cy="81.7" r="0.90" fill="#1f4b9c"/>
<circle cx="261.9" cy="86.5" r="0.70" fill="#1f4b9c"/>
<circle cx="159.5" cy="90.8" r="1.00" fill="#1f4b9c"/>
<circle cx="151.8" cy="97.8" r="1.00" fill="#1f4b9c"/>
<circle cx="209.8" cy="99.1" r="1.50" fill="#1f4b9c"/>
<circle cx="198.3" cy="101.0" r="1.00" fill="#1f4b9c"/>
<circle cx="153.4" cy="110.3" r="0.80" fill="#1f4b9c"/>
<circle cx="209.4" cy="109.3" r="1.10" fill="#1f4b9c"/>
<circle cx="166.7" cy="113.3" r="0.70" fill="#1f4b9c"/>
<circle cx="184.5" cy="114.6" r="1.00" fill="#1f4b9c"/>
<circle cx="207.1" cy="120.5" r="1.50" fill="#1f4b9c"/>
<circle cx="160.4" cy="121.0" r="0.90" fill="#1f4b9c"/>
<circle cx="174.4" cy="121.6" r="0.90" fill="#1f4b9c"/>
<circle cx="167.4" cy="130.0" r="0.70" fill="#1f4b9c"/>
<circle cx="202.7" cy="131.8" r="1.00" fill="#1f4b9c"/>
<circle cx="192.8" cy="133.5" r="0.70" fill="#1f4b9c"/>
<circle cx="176.9" cy="135.4" r="1.00" fill="#1f4b9c"/>
<circle cx="184.9" cy="141.7" r="1.00" fill="#1f4b9c"/>
<circle cx="196.4" cy="144.7" r="0.70" fill="#1f4b9c"/>
<circle cx="207.1" cy="147.5" r="0.70" fill="#1f4b9c"/>
<circle cx="248.2" cy="92.1" r="1.00" fill="#1f4b9c"/>
<circle cx="271.5" cy="94.0" r="0.70" fill="#1f4b9c"/>
<circle cx="221.7" cy="95.9" r="1.30" fill="#1f4b9c"/>
<circle cx="258.1" cy="97.8" r="1.00" fill="#1f4b9c"/>
<circle cx="231.9" cy="103.2" r="1.20" fill="#1f4b9c"/>
<circle cx="245.0" cy="101.6" r="1.00" fill="#1f4b9c"/>
<circle cx="268.3" cy="104.8" r="0.70" fill="#1f4b9c"/>
<circle cx="255.2" cy="107.4" r="0.70" fill="#1f4b9c"/>
<circle cx="240.9" cy="111.2" r="1.20" fill="#1f4b9c"/>
<circle cx="264.1" cy="114.6" r="0.80" fill="#1f4b9c"/>
<circle cx="231.0" cy="115.0" r="1.10" fill="#1f4b9c"/>
<circle cx="218.3" cy="116.5" r="1.50" fill="#1f4b9c"/>
<circle cx="250.3" cy="117.8" r="1.00" fill="#1f4b9c"/>
<circle cx="239.9" cy="123.3" r="1.10" fill="#1f4b9c"/>
<circle cx="225.7" cy="124.3" r="1.40" fill="#1f4b9c"/>
<circle cx="258.7" cy="124.5" r="0.70" fill="#1f4b9c"/>
<circle cx="214.8" cy="127.7" r="1.00" fill="#1f4b9c"/>
<circle cx="250.1" cy="130.7" r="1.00" fill="#1f4b9c"/>
<circle cx="234.4" cy="131.8" r="1.00" fill="#1f4b9c"/>
<circle cx="223.4" cy="136.0" r="0.90" fill="#1f4b9c"/>
<circle cx="211.3" cy="138.5" r="0.70" fill="#1f4b9c"/>
<circle cx="242.7" cy="138.5" r="0.70" fill="#1f4b9c"/>
<circle cx="231.6" cy="143.6" r="0.70" fill="#1f4b9c"/>
<circle cx="219.5" cy="147.1" r="0.70" fill="#1f4b9c"/>
<circle cx="193.2" cy="48.3" r="1.10" fill="#a8509f"/>
<circle cx="201.1" cy="70.3" r="1.70" fill="#a8509f"/>
<circle cx="192.2" cy="80.5" r="1.70" fill="#a8509f"/>
<circle cx="203.6" cy="81.1" r="1.70" fill="#a8509f"/>
<circle cx="170.5" cy="84.9" r="1.60" fill="#a8509f"/>
<circle cx="219.5" cy="57.8" r="1.80" fill="#a8509f"/>
<circle cx="211.3" cy="69.4" r="1.60" fill="#a8509f"/>
<circle cx="216.6" cy="78.5" r="1.80" fill="#a8509f"/>
<circle cx="213.2" cy="88.1" r="1.60" fill="#a8509f"/>
<circle cx="189.6" cy="91.8" r="1.80" fill="#a8509f"/>
<circle cx="201.1" cy="91.1" r="2.00" fill="#a8509f"/>
<circle cx="179.5" cy="96.2" r="1.90" fill="#a8509f"/>
<circle cx="169.5" cy="96.5" r="1.30" fill="#a8509f"/>
<circle cx="161.6" cy="103.8" r="1.30" fill="#a8509f"/>
<circle cx="187.7" cy="104.2" r="1.60" fill="#a8509f"/>
<circle cx="176.3" cy="107.6" r="1.60" fill="#a8509f"/>
<circle cx="197.3" cy="112.2" r="1.60" fill="#a8509f"/>
<circle cx="195.4" cy="122.0" r="1.20" fill="#a8509f"/>
<circle cx="221.5" cy="106.3" r="1.90" fill="#a8509f"/>
<circle cx="226.2" cy="87.1" r="1.60" fill="#e81c24"/>
<circle cx="235.5" cy="92.7" r="1.50" fill="#e81c24"/>
<circle cx="184.3" cy="125.8" r="1.00" fill="#e81c24"/>
<path d="M386.4 37.8Q362.8 26.7 341.6 41.9M372.0 46.7Q358.4 34.4 341.6 41.9M341.6 41.9Q367.3 64.1 399.3 52.7M354.9 55.6Q351.8 45.3 341.6 41.9M384.7 59.5Q367.9 39.2 341.6 41.9M369.2 66.2Q359.8 49.0 341.6 41.9M341.6 41.9Q341.2 60.4 352.6 75.0M387.4 76.4Q377.0 42.5 341.6 41.9M369.6 83.4Q367.8 54.4 341.6 41.9M386.4 37.8Q372.2 31.2 357.7 37.2M357.7 37.2Q362.0 46.2 372.0 46.7M399.3 52.7Q382.4 34.4 357.7 37.2M357.7 37.2Q351.8 45.7 354.9 55.6M384.7 59.5Q378.3 39.7 357.7 37.2M357.7 37.2Q354.1 55.4 369.2 66.2M352.6 75.0Q366.0 57.6 357.7 37.2M387.4 76.4Q381.9 49.8 357.7 37.2M369.6 83.4Q373.3 57.8 357.7 37.2M386.4 37.8Q376.1 37.2 372.0 46.7M386.4 37.8Q388.3 49.2 399.3 52.7M354.9 55.6Q377.4 58.7 386.4 37.8M384.7 59.5Q390.9 49.1 386.4 37.8M386.4 37.8Q369.0 46.7 369.2 66.2M386.4 37.8Q363.0 50.5 352.6 75.0M387.4 76.4Q398.8 56.8 386.4 37.8M386.4 37.8Q366.0 56.2 369.6 83.4M372.0 46.7Q383.5 59.6 399.3 52.7M372.0 46.7Q360.5 45.5 354.9 55.6M384.7 59.5Q381.4 50.1 372.0 46.7M372.0 46.7Q365.0 55.7 369.2 66.2M372.0 46.7Q370.8 66.2 387.4 76.4M372.0 46.7Q358.1 64.2 369.6 83.4M399.3 52.7Q376.5 45.3 354.9 55.6M384.7 59.5Q394.5 61.5 399.3 52.7M369.2 66.2Q388.2 68.2 399.3 52.7M387.4 76.4Q402.3 69.0 399.3 52.7M399.3 52.7Q375.9 59.8 369.6 83.4M354.9 55.6Q368.9 64.8 384.7 59.5M354.9 55.6Q359.2 64.8 369.2 66.2M352.6 75.0Q360.8 66.1 354.9 55.6M354.9 55.6Q367.6 71.5 387.4 76.4M369.6 83.4Q371.8 64.5 354.9 55.6M369.2 66.2Q378.2 65.8 384.7 59.5M384.7 59.5Q362.8 55.1 352.6 75.0M387.4 76.4Q392.1 67.0 384.7 59.5M352.6 75.0Q363.9 76.2 369.2 66.2M387.4 76.4Q380.6 67.2 369.2 66.2M369.2 66.2Q364.8 74.9 369.6 83.4M387.4 76.4Q370.5 63.7 352.6 75.0M369.6 83.4Q363.6 74.1 352.6 75.0" fill="none" stroke="#e63a44" stroke-width="0.4" stroke-opacity="1" stroke-linecap="round"/>
<path d="M324.6 44.6Q326.0 34.1 316.7 28.9M318.3 79.6Q334.9 53.7 316.7 28.9M308.5 54.6Q310.1 44.7 302.0 38.7M301.7 71.5Q308.3 55.2 302.0 38.7M335.5 81.7Q331.2 50.5 302.0 38.7M324.6 44.6Q312.9 43.7 308.5 54.6M323.0 63.5Q328.4 54.4 324.6 44.6M301.7 71.5Q320.5 64.3 324.6 44.6M335.5 81.7Q340.8 60.0 324.6 44.6M308.5 54.6Q299.6 49.6 290.7 54.6M290.7 54.6Q303.8 70.0 323.0 63.5M290.7 54.6Q282.4 61.6 284.5 72.2M318.3 79.6Q312.8 58.0 290.7 54.6M290.7 54.6Q283.5 75.7 301.1 89.4M323.0 63.5Q318.2 55.1 308.5 54.6M308.5 54.6Q300.5 61.2 301.7 71.5M318.3 79.6Q317.9 65.4 308.5 54.6M301.1 89.4Q315.7 74.3 308.5 54.6M323.0 63.5Q309.5 60.0 301.7 71.5M323.0 63.5Q314.7 69.8 318.3 79.6M335.5 81.7Q334.2 69.2 323.0 63.5M323.0 63.5Q305.1 70.6 301.1 89.4M323.0 63.5Q317.2 87.1 334.8 103.8M323.0 63.5Q293.0 75.9 288.4 108.0M339.0 61.6Q318.0 57.6 301.7 71.5M318.3 79.6Q333.8 76.6 339.0 61.6M318.3 79.6Q303.4 66.8 284.5 72.2M301.1 89.4Q298.5 75.3 284.5 72.2M301.7 71.5Q307.7 80.3 318.3 79.6M301.7 71.5Q315.8 86.0 335.5 81.7M335.5 81.7Q327.7 74.3 318.3 79.6M301.1 89.4Q312.0 88.6 318.3 79.6M320.6 96.3Q323.6 87.4 318.3 79.6M318.3 79.6Q319.3 96.7 334.8 103.8M318.3 79.6Q301.7 88.0 305.3 106.3M319.3 116.0Q325.2 97.6 318.3 79.6M301.1 89.4Q321.1 98.2 335.5 81.7M335.5 81.7Q307.2 69.4 283.9 89.7M320.6 96.3Q331.0 92.0 335.5 81.7M305.3 106.3Q324.6 99.1 335.5 81.7M335.5 81.7Q317.7 94.3 319.3 116.0M288.4 108.0Q299.6 102.0 301.1 89.4M301.1 89.4Q298.6 99.0 305.3 106.3M288.4 108.0Q290.9 97.7 283.9 89.7M320.6 96.3Q325.0 105.1 334.8 103.8M320.6 96.3Q308.9 113.4 312.9 133.7M288.4 108.0Q297.5 113.6 305.3 106.3M288.4 108.0Q288.9 119.3 299.2 123.9M312.9 133.7Q306.3 115.5 288.4 108.0M312.9 133.7Q314.8 118.4 305.3 106.3M319.3 116.0Q307.9 116.5 299.2 123.9M350.1 93.1Q378.7 100.8 405.6 88.5M401.6 105.8Q409.1 98.4 405.6 88.5M405.6 88.5Q385.1 90.0 381.3 110.3M334.4 124.3Q326.9 131.1 327.6 141.1M350.1 93.1Q335.1 105.1 334.4 124.3M381.3 110.3Q353.3 102.1 334.4 124.3M350.1 93.1Q326.7 111.4 327.6 141.1M327.6 141.1Q342.7 141.9 351.6 129.6M379.6 132.6Q352.1 127.8 327.6 141.1M350.1 93.1Q365.2 117.3 393.4 121.6M350.1 93.1Q351.5 122.8 379.6 132.6M401.6 105.8Q397.8 95.6 387.0 93.6M387.0 93.6Q369.7 101.5 366.4 120.3M393.4 121.6Q399.4 105.5 387.0 93.6M350.1 111.4Q361.8 111.0 366.6 100.4M366.4 120.3Q372.6 110.4 366.6 100.4M366.6 100.4Q370.3 110.7 381.3 110.3M401.6 105.8Q394.4 112.1 393.4 121.6M401.6 105.8Q370.6 105.0 351.6 129.6M381.3 110.3Q393.0 115.2 401.6 105.8M350.1 111.4Q344.2 121.0 351.6 129.6M381.3 110.3Q365.3 99.5 350.1 111.4M381.3 110.3Q370.9 110.9 366.4 120.3M393.4 121.6Q370.9 117.1 351.6 129.6M393.4 121.6Q389.8 113.3 381.3 110.3M393.4 121.6Q384.5 124.6 379.6 132.6M364.3 141.5Q361.1 132.2 351.6 129.6M351.6 129.6Q370.2 125.8 381.3 110.3M364.3 141.5Q378.6 129.1 381.3 110.3M379.6 132.6Q369.8 133.4 364.3 141.5M379.6 132.6Q385.9 121.9 381.3 110.3M316.7 28.9Q317.8 65.1 352.6 75.0M324.6 44.6Q334.1 49.6 341.6 41.9M364.3 141.5Q341.2 120.4 312.9 133.7M327.6 141.1Q318.5 124.2 299.2 123.9M318.3 79.6Q312.0 107.1 334.4 124.3M335.5 81.7Q319.7 95.2 319.3 116.0M405.6 88.5Q347.8 86.9 327.6 141.1M364.3 141.5Q403.1 129.2 405.6 88.5M316.7 28.9Q307.2 30.6 302.0 38.7M305.3 106.3Q305.0 83.1 284.5 72.2M283.9 89.7Q279.3 100.5 288.4 108.0M301.7 71.5Q315.0 74.4 323.0 63.5M335.5 81.7Q343.9 72.8 339.0 61.6M320.6 96.3Q323.4 87.4 318.3 79.6M334.8 103.8Q342.6 93.0 335.5 81.7M334.4 124.3Q328.3 117.5 319.3 116.0M327.6 141.1Q322.7 132.5 312.9 133.7M351.6 129.6Q339.2 113.9 319.3 116.0M350.1 93.1Q332.8 103.9 334.4 124.3" fill="none" stroke="#e63a44" stroke-width="0.3" stroke-opacity="1" stroke-linecap="round"/>
<circle cx="332.9" cy="24.2" r="0.80" fill="#1f4b9c"/>
<circle cx="316.7" cy="28.9" r="1.20" fill="#1f4b9c"/>
<circle cx="302.0" cy="38.7" r="0.90" fill="#1f4b9c"/>
<circle cx="324.6" cy="44.6" r="1.40" fill="#1f4b9c"/>
<circle cx="290.7" cy="54.6" r="1.50" fill="#1f4b9c"/>
<circle cx="308.5" cy="54.6" r="1.60" fill="#1f4b9c"/>
<circle cx="323.0" cy="63.5" r="1.90" fill="#1f4b9c"/>
<circle cx="339.0" cy="61.6" r="1.00" fill="#1f4b9c"/>
<circle cx="284.5" cy="72.2" r="0.90" fill="#1f4b9c"/>
<circle cx="301.7" cy="71.5" r="1.00" fill="#1f4b9c"/>
<circle cx="318.3" cy="79.6" r="1.90" fill="#1f4b9c"/>
<circle cx="335.5" cy="81.7" r="1.60" fill="#1f4b9c"/>
<circle cx="301.1" cy="89.4" r="1.30" fill="#1f4b9c"/>
<circle cx="283.9" cy="89.7" r="0.80" fill="#1f4b9c"/>
<circle cx="350.1" cy="21.0" r="0.80" fill="#1f4b9c"/>
<circle cx="370.7" cy="26.0" r="0.90" fill="#1f4b9c"/>
<circle cx="403.9" cy="70.9" r="0.90" fill="#1f4b9c"/>
<circle cx="405.6" cy="88.5" r="1.40" fill="#1f4b9c"/>
<circle cx="320.6" cy="96.3" r="0.90" fill="#1f4b9c"/>
<circle cx="334.8" cy="103.8" r="0.90" fill="#1f4b9c"/>
<circle cx="288.4" cy="108.0" r="1.10" fill="#1f4b9c"/>
<circle cx="305.3" cy="106.3" r="1.30" fill="#1f4b9c"/>
<circle cx="319.3" cy="116.0" r="1.70" fill="#1f4b9c"/>
<circle cx="299.2" cy="123.9" r="1.10" fill="#1f4b9c"/>
<circle cx="334.4" cy="124.3" r="1.60" fill="#1f4b9c"/>
<circle cx="312.9" cy="133.7" r="1.40" fill="#1f4b9c"/>
<circle cx="327.6" cy="141.1" r="1.70" fill="#1f4b9c"/>
<circle cx="344.6" cy="145.4" r="1.20" fill="#1f4b9c"/>
<circle cx="350.1" cy="93.1" r="1.40" fill="#1f4b9c"/>
<circle cx="387.0" cy="93.6" r="1.30" fill="#1f4b9c"/>
<circle cx="366.6" cy="100.4" r="1.50" fill="#1f4b9c"/>
<circle cx="401.6" cy="105.8" r="1.80" fill="#1f4b9c"/>
<circle cx="350.1" cy="111.4" r="1.40" fill="#1f4b9c"/>
<circle cx="366.4" cy="120.3" r="1.50" fill="#1f4b9c"/>
<circle cx="393.4" cy="121.6" r="1.50" fill="#1f4b9c"/>
<circle cx="351.6" cy="129.6" r="1.50" fill="#1f4b9c"/>
<circle cx="364.3" cy="141.5" r="1.80" fill="#1f4b9c"/>
<circle cx="341.6" cy="41.9" r="2.60" fill="#a8509f"/>
<circle cx="357.7" cy="37.2" r="2.60" fill="#a8509f"/>
<circle cx="386.4" cy="37.8" r="2.60" fill="#a8509f"/>
<circle cx="372.0" cy="46.7" r="2.50" fill="#a8509f"/>
<circle cx="399.3" cy="52.7" r="2.20" fill="#a8509f"/>
<circle cx="354.9" cy="55.6" r="2.30" fill="#a8509f"/>
<circle cx="384.7" cy="59.5" r="2.50" fill="#a8509f"/>
<circle cx="369.2" cy="66.2" r="2.20" fill="#a8509f"/>
<circle cx="352.6" cy="75.0" r="2.30" fill="#a8509f"/>
<circle cx="387.4" cy="76.4" r="2.50" fill="#a8509f"/>
<circle cx="369.6" cy="83.4" r="2.30" fill="#a8509f"/>
<circle cx="381.3" cy="110.3" r="2.20" fill="#a8509f"/>
<circle cx="379.6" cy="132.6" r="1.20" fill="#a8509f"/>
<path d="M477.2 27.9Q463.3 37.5 462.6 54.4M433.3 54.4Q424.4 66.0 423.4 80.5M433.3 54.4Q435.7 67.7 446.7 75.7M433.3 54.4Q451.8 73.5 452.0 100.0M433.3 54.4Q424.4 79.4 427.8 105.8M446.7 75.7Q434.3 74.6 423.4 80.5M446.7 75.7Q431.2 87.0 427.8 105.8M423.4 80.5Q432.8 97.4 452.0 100.0M423.4 80.5Q422.6 93.7 427.8 105.8M452.0 100.0Q440.8 106.5 427.8 105.8M446.7 75.7Q446.9 88.4 452.0 100.0M487.0 52.7Q476.3 63.6 471.7 78.2M487.0 52.7Q487.8 68.0 496.9 80.3M487.0 52.7Q500.2 77.3 497.6 105.1M487.0 52.7Q457.0 79.9 466.9 119.2M471.7 78.2Q484.0 82.3 496.9 80.3M471.7 78.2Q481.4 94.8 497.6 105.1M496.9 80.3Q494.8 92.8 497.6 105.1M496.9 80.3Q500.2 92.6 497.6 105.1M466.9 119.2Q479.1 105.4 497.6 105.1M466.9 119.2Q474.1 93.8 496.9 80.3M471.7 78.2Q465.2 98.2 466.9 119.2M525.6 42.3Q520.6 53.0 510.5 59.2M510.5 59.2Q523.8 68.4 539.8 65.8M525.6 42.3Q529.9 55.8 539.8 65.8M522.0 83.3Q537.9 88.4 540.8 104.8M522.0 83.3Q520.2 96.1 511.6 105.8M511.6 105.8Q526.0 99.5 540.8 104.8M494.0 123.0Q500.2 111.8 511.6 105.8M494.0 123.0Q512.3 110.6 533.2 117.9M494.0 123.0Q511.8 119.1 524.5 132.2" fill="none" stroke="#ee6a72" stroke-width="0.6" stroke-linecap="round"/>
<circle cx="477.2" cy="27.9" r="1.50" fill="#a8509f"/>
<circle cx="451.7" cy="34.3" r="1.00" fill="#1f4b9c"/>
<circle cx="433.3" cy="54.4" r="3.00" fill="#a8509f"/>
<circle cx="462.6" cy="54.4" r="1.60" fill="#a8509f"/>
<circle cx="446.7" cy="75.7" r="3.00" fill="#a8509f"/>
<circle cx="423.4" cy="80.5" r="3.00" fill="#a8509f"/>
<circle cx="471.7" cy="78.2" r="3.00" fill="#1f4b9c"/>
<circle cx="502.0" cy="30.2" r="1.00" fill="#1f4b9c"/>
<circle cx="525.6" cy="42.3" r="2.00" fill="#1f4b9c"/>
<circle cx="487.0" cy="52.7" r="3.00" fill="#e81c24"/>
<circle cx="510.5" cy="59.2" r="2.00" fill="#a8509f"/>
<circle cx="539.8" cy="65.8" r="2.00" fill="#1f4b9c"/>
<circle cx="496.9" cy="80.3" r="3.00" fill="#1f4b9c"/>
<circle cx="522.0" cy="83.3" r="2.00" fill="#1f4b9c"/>
<circle cx="452.0" cy="100.0" r="3.00" fill="#a8509f"/>
<circle cx="427.8" cy="105.8" r="3.00" fill="#a8509f"/>
<circle cx="466.9" cy="119.2" r="3.00" fill="#1f4b9c"/>
<circle cx="441.2" cy="127.3" r="1.00" fill="#1f4b9c"/>
<circle cx="463.2" cy="142.6" r="1.00" fill="#1f4b9c"/>
<circle cx="497.6" cy="105.1" r="3.00" fill="#a8509f"/>
<circle cx="511.6" cy="105.8" r="2.50" fill="#1f4b9c"/>
<circle cx="540.8" cy="104.8" r="2.00" fill="#1f4b9c"/>
<circle cx="533.2" cy="117.9" r="1.50" fill="#1f4b9c"/>
<circle cx="494.0" cy="123.0" r="2.50" fill="#1f4b9c"/>
<circle cx="524.5" cy="132.2" r="1.50" fill="#a8509f"/>
<circle cx="488.9" cy="146.2" r="1.00" fill="#1f4b9c"/>
<defs><path id="e1" d="M73.7 450.4Q85.7 450.1 93.7 459.1M73.7 450.4Q84.8 450.1 89.6 440.1M73.7 450.4Q89.5 447.0 103.2 455.7M73.7 450.4Q90.2 461.8 107.1 451.2M73.7 450.4Q70.9 440.0 79.1 433.1M73.7 450.4Q87.6 444.6 102.5 447.4M73.7 450.4Q74.2 446.9 72.1 444.1M73.7 450.4Q82.2 444.9 85.1 435.2M73.7 450.4Q80.3 448.5 86.7 451.1M73.7 450.4Q71.6 453.4 73.1 456.8M73.7 450.4Q88.2 440.4 105.8 441.2M73.7 450.4Q86.3 443.1 97.8 452.0M73.7 450.4Q78.7 446.3 79.1 439.8M73.7 450.4Q82.8 454.9 84.4 464.8M73.7 450.4Q92.3 448.5 103.3 433.5M73.7 450.4Q72.3 436.8 82.0 427.3M73.7 450.4Q84.3 441.3 98.2 440.0M73.7 450.4Q79.2 435.8 92.7 428.0M73.7 450.4Q79.0 453.6 78.5 459.8M73.7 450.4Q82.4 437.7 97.3 433.4M73.7 450.4Q77.3 448.9 80.7 451.0M73.7 450.4Q82.7 450.9 87.5 458.7M73.7 450.4Q81.3 449.8 84.3 442.9M73.7 450.4Q82.7 445.7 92.8 447.2M73.7 450.4Q70.2 443.8 71.5 436.4M73.7 450.4Q84.5 461.5 100.0 461.5M93.7 459.1Q94.4 449.0 89.6 440.1M93.7 459.1Q97.3 454.4 103.2 455.7M93.7 459.1Q98.5 452.0 107.1 451.2M93.7 459.1Q79.5 450.0 79.1 433.1M93.7 459.1Q95.8 451.5 102.5 447.4M93.7 459.1Q96.9 444.4 85.1 435.2M93.7 459.1Q92.9 452.8 86.7 451.1M93.7 459.1Q84.2 451.1 73.1 456.8M93.7 459.1Q94.4 446.6 105.8 441.2M93.7 459.1Q90.7 446.2 79.1 439.8M93.7 459.1Q88.2 460.6 84.4 464.8M93.7 459.1Q105.2 448.8 103.3 433.5M93.7 459.1Q78.2 446.8 82.0 427.3M93.7 459.1Q101.4 450.8 98.2 440.0M93.7 459.1Q97.9 443.4 92.7 428.0M93.7 459.1Q86.3 462.7 78.5 459.8M93.7 459.1Q99.9 446.9 97.3 433.4M93.7 459.1Q89.8 450.8 80.7 451.0M93.7 459.1Q90.7 457.4 87.5 458.7M93.7 459.1Q86.4 452.5 84.3 442.9M93.7 459.1Q91.8 453.3 92.8 447.2M93.7 459.1Q77.4 452.9 71.5 436.4M93.7 459.1Q97.3 459.2 100.0 461.5M89.6 440.1Q85.3 435.2 79.1 433.1M89.6 440.1Q93.7 447.9 102.5 447.4M89.6 440.1Q82.0 446.9 72.1 444.1M89.6 440.1Q86.4 438.5 85.1 435.2M89.6 440.1Q86.2 445.1 86.7 451.1M89.6 440.1Q83.7 450.7 73.1 456.8M89.6 440.1Q97.5 443.2 105.8 441.2M89.6 440.1Q96.1 444.4 97.8 452.0M89.6 440.1Q90.5 453.2 84.4 464.8M89.6 440.1Q94.6 432.8 103.3 433.5M89.6 440.1Q84.1 434.7 82.0 427.3M89.6 440.1Q94.0 442.7 98.2 440.0M89.6 440.1Q89.2 433.6 92.7 428.0M89.6 440.1Q81.5 448.4 78.5 459.8M89.6 440.1Q91.8 434.8 97.3 433.4M89.6 440.1Q88.2 448.0 80.7 451.0M89.6 440.1Q85.3 449.0 87.5 458.7M89.6 440.1Q86.1 439.8 84.3 442.9M89.6 440.1Q92.5 443.1 92.8 447.2M89.6 440.1Q80.0 441.1 71.5 436.4M89.6 440.1Q100.9 447.8 100.0 461.5M103.2 455.7Q87.3 448.4 79.1 433.1M103.2 455.7Q105.3 451.3 102.5 447.4M103.2 455.7Q84.6 457.9 72.1 444.1M103.2 455.7Q87.4 451.3 85.1 435.2M103.2 455.7Q96.1 449.4 86.7 451.1M103.2 455.7Q87.8 448.0 73.1 456.8M103.2 455.7Q106.9 448.9 105.8 441.2M103.2 455.7Q101.2 452.9 97.8 452.0M103.2 455.7Q86.2 455.2 79.1 439.8M103.2 455.7Q107.2 444.6 103.3 433.5M103.2 455.7Q85.8 446.5 82.0 427.3M103.2 455.7Q96.1 449.3 98.2 440.0M103.2 455.7Q93.2 443.7 92.7 428.0M103.2 455.7Q96.0 445.7 97.3 433.4M103.2 455.7Q91.3 456.0 80.7 451.0M103.2 455.7Q96.2 453.6 92.8 447.2M103.2 455.7Q81.3 455.9 71.5 436.4M103.2 455.7Q102.3 459.0 100.0 461.5M107.1 451.2Q87.1 451.4 79.1 433.1M107.1 451.2Q103.6 450.7 102.5 447.4M107.1 451.2Q99.1 439.0 85.1 435.2M107.1 451.2Q88.4 443.5 73.1 456.8M107.1 451.2Q104.3 446.5 105.8 441.2M107.1 451.2Q89.4 454.7 79.1 439.8M107.1 451.2Q107.4 441.8 103.3 433.5M107.1 451.2Q105.8 443.1 98.2 440.0M107.1 451.2Q95.1 463.0 78.5 459.8M107.1 451.2Q107.8 439.2 97.3 433.4M107.1 451.2Q94.0 445.2 80.7 451.0M107.1 451.2Q95.4 450.0 87.5 458.7M107.1 451.2Q93.8 452.2 84.3 442.9M107.1 451.2Q98.9 452.9 92.8 447.2M107.1 451.2Q86.2 451.4 71.5 436.4M107.1 451.2Q105.3 457.5 100.0 461.5M79.1 433.1Q78.7 440.6 72.1 444.1M79.1 433.1Q82.7 432.5 85.1 435.2M79.1 433.1Q88.2 439.9 86.7 451.1M79.1 433.1Q80.8 446.1 73.1 456.8M79.1 433.1Q95.2 428.1 105.8 441.2M79.1 433.1Q83.1 447.9 97.8 452.0M79.1 433.1Q77.2 449.7 84.4 464.8M79.1 433.1Q91.3 427.0 103.3 433.5M79.1 433.1Q89.8 433.2 98.2 440.0M79.1 433.1Q87.2 434.0 92.7 428.0M79.1 433.1Q88.3 427.7 97.3 433.4M79.1 433.1Q75.1 442.4 80.7 451.0M79.1 433.1Q77.7 447.7 87.5 458.7M79.1 433.1Q83.8 436.9 84.3 442.9M79.1 433.1Q90.1 436.2 92.8 447.2M79.1 433.1Q75.7 435.7 71.5 436.4M102.5 447.4Q88.2 437.4 72.1 444.1M102.5 447.4Q90.2 446.3 85.1 435.2M102.5 447.4Q85.6 445.1 73.1 456.8M102.5 447.4Q105.7 445.1 105.8 441.2M102.5 447.4Q99.5 449.0 97.8 452.0M102.5 447.4Q88.6 450.2 79.1 439.8M102.5 447.4Q91.0 453.6 84.4 464.8M102.5 447.4Q99.3 440.2 103.3 433.5M102.5 447.4Q93.1 440.0 92.7 428.0M102.5 447.4Q88.6 449.9 78.5 459.8M102.5 447.4Q95.9 441.9 97.3 433.4M102.5 447.4Q90.9 445.3 80.7 451.0M102.5 447.4Q96.4 454.9 87.5 458.7M102.5 447.4Q91.9 451.1 84.3 442.9M102.5 447.4Q97.7 444.8 92.8 447.2M102.5 447.4Q83.7 451.2 71.5 436.4M102.5 447.4Q105.1 455.1 100.0 461.5M72.1 444.1Q79.7 441.3 85.1 435.2M72.1 444.1Q78.2 450.2 86.7 451.1M72.1 444.1Q70.0 450.6 73.1 456.8M72.1 444.1Q89.9 453.9 105.8 441.2M72.1 444.1Q86.4 443.5 97.8 452.0M72.1 444.1Q74.9 440.9 79.1 439.8M72.1 444.1Q81.7 452.4 84.4 464.8M72.1 444.1Q89.5 443.9 103.3 433.5M72.1 444.1Q82.1 438.6 82.0 427.3M72.1 444.1Q86.2 448.7 98.2 440.0M72.1 444.1Q80.1 433.1 92.7 428.0M72.1 444.1Q79.9 450.0 78.5 459.8M72.1 444.1Q83.1 434.9 97.3 433.4M72.1 444.1Q74.6 449.7 80.7 451.0M72.1 444.1Q74.9 456.5 87.5 458.7M72.1 444.1Q78.4 445.5 84.3 442.9M72.1 444.1Q81.8 449.6 92.8 447.2M72.1 444.1Q74.1 440.1 71.5 436.4M72.1 444.1Q83.6 456.8 100.0 461.5M85.1 435.2Q83.9 443.4 86.7 451.1M85.1 435.2Q85.1 449.3 73.1 456.8M85.1 435.2Q94.5 441.2 105.8 441.2M85.1 435.2Q81.2 436.4 79.1 439.8M85.1 435.2Q88.7 450.1 84.4 464.8M85.1 435.2Q94.6 438.6 103.3 433.5M85.1 435.2Q82.3 431.7 82.0 427.3M85.1 435.2Q90.4 441.0 98.2 440.0M85.1 435.2Q90.1 432.9 92.7 428.0M85.1 435.2Q78.9 446.7 78.5 459.8M85.1 435.2Q91.7 438.0 97.3 433.4M85.1 435.2Q90.6 446.5 87.5 458.7M85.1 435.2Q86.4 439.2 84.3 442.9M85.1 435.2Q87.1 442.3 92.8 447.2M85.1 435.2Q89.0 450.3 100.0 461.5M86.7 451.1Q81.5 457.9 73.1 456.8M86.7 451.1Q98.6 450.6 105.8 441.2M86.7 451.1Q92.1 453.4 97.8 452.0M86.7 451.1Q86.5 443.1 79.1 439.8M86.7 451.1Q99.2 446.3 103.3 433.5M86.7 451.1Q91.0 437.9 82.0 427.3M86.7 451.1Q95.0 448.2 98.2 440.0M86.7 451.1Q96.5 441.3 92.7 428.0M86.7 451.1Q85.3 458.0 78.5 459.8M86.7 451.1Q96.7 445.1 97.3 433.4M86.7 451.1Q83.7 451.9 80.7 451.0M86.7 451.1Q89.3 454.7 87.5 458.7M86.7 451.1Q84.2 447.4 84.3 442.9M86.7 451.1Q88.6 447.4 92.8 447.2M86.7 451.1Q83.5 439.3 71.5 436.4M73.1 456.8Q84.3 438.3 105.8 441.2M73.1 456.8Q86.9 462.0 97.8 452.0M73.1 456.8Q70.6 446.4 79.1 439.8M73.1 456.8Q81.3 457.2 84.4 464.8M73.1 456.8Q95.8 455.0 103.3 433.5M73.1 456.8Q68.0 439.1 82.0 427.3M73.1 456.8Q82.8 444.0 98.2 440.0M73.1 456.8Q86.5 444.8 92.7 428.0M73.1 456.8Q74.9 459.9 78.5 459.8M73.1 456.8Q89.4 449.5 97.3 433.4M73.1 456.8Q77.8 455.1 80.7 451.0M73.1 456.8Q79.7 461.9 87.5 458.7M73.1 456.8Q76.1 447.7 84.3 442.9M73.1 456.8Q81.6 449.3 92.8 447.2M73.1 456.8Q67.6 446.9 71.5 436.4M73.1 456.8Q87.4 454.0 100.0 461.5M105.8 441.2Q100.2 445.4 97.8 452.0M105.8 441.2Q92.2 445.5 79.1 439.8M105.8 441.2Q90.1 448.5 84.4 464.8M105.8 441.2Q106.3 436.8 103.3 433.5M105.8 441.2Q101.8 442.0 98.2 440.0M105.8 441.2Q101.7 432.1 92.7 428.0M105.8 441.2Q87.8 444.1 78.5 459.8M105.8 441.2Q99.8 439.2 97.3 433.4M105.8 441.2Q95.7 452.3 80.7 451.0M105.8 441.2Q91.1 444.1 87.5 458.7M105.8 441.2Q95.4 447.0 84.3 442.9M105.8 441.2Q101.3 448.6 92.8 447.2M105.8 441.2Q87.2 448.9 71.5 436.4M105.8 441.2Q105.4 452.0 100.0 461.5M97.8 452.0Q91.1 441.9 79.1 439.8M97.8 452.0Q94.2 461.6 84.4 464.8M97.8 452.0Q85.0 442.8 82.0 427.3M97.8 452.0Q94.9 445.9 98.2 440.0M97.8 452.0Q101.4 438.7 92.7 428.0M97.8 452.0Q89.6 459.3 78.5 459.8M97.8 452.0Q103.0 442.6 97.3 433.4M97.8 452.0Q89.0 455.6 80.7 451.0M97.8 452.0Q94.6 458.4 87.5 458.7M97.8 452.0Q89.4 449.9 84.3 442.9M97.8 452.0Q96.2 448.7 92.8 447.2M97.8 452.0Q82.3 448.2 71.5 436.4M97.8 452.0Q96.3 457.3 100.0 461.5M79.1 439.8Q75.8 453.6 84.4 464.8M79.1 439.8Q93.0 443.5 103.3 433.5M79.1 439.8Q78.2 433.0 82.0 427.3M79.1 439.8Q88.7 436.0 98.2 440.0M79.1 439.8Q83.3 431.0 92.7 428.0M79.1 439.8Q83.3 449.9 78.5 459.8M79.1 439.8Q89.8 441.1 97.3 433.4M79.1 439.8Q82.3 445.0 80.7 451.0M79.1 439.8Q86.1 448.0 87.5 458.7M79.1 439.8Q80.8 442.8 84.3 442.9M79.1 439.8Q76.2 436.1 71.5 436.4M79.1 439.8Q92.4 447.9 100.0 461.5M84.4 464.8Q104.3 455.5 103.3 433.5M84.4 464.8Q74.9 446.6 82.0 427.3M84.4 464.8Q98.7 456.5 98.2 440.0M84.4 464.8Q93.7 447.6 92.7 428.0M84.4 464.8Q83.0 460.5 78.5 459.8M84.4 464.8Q79.7 458.6 80.7 451.0M84.4 464.8Q87.2 462.4 87.5 458.7M84.4 464.8Q77.5 453.9 84.3 442.9M84.4 464.8Q92.2 457.8 92.8 447.2M84.4 464.8Q72.0 453.3 71.5 436.4M84.4 464.8Q91.2 458.4 100.0 461.5M103.3 433.5Q90.6 437.5 82.0 427.3M103.3 433.5Q99.0 435.3 98.2 440.0M103.3 433.5Q99.3 428.2 92.7 428.0M103.3 433.5Q100.3 434.7 97.3 433.4M103.3 433.5Q86.2 434.6 80.7 451.0M103.3 433.5Q103.0 450.9 87.5 458.7M103.3 433.5Q91.5 433.5 84.3 442.9M103.3 433.5Q96.3 439.0 92.8 447.2M103.3 433.5Q87.9 440.5 71.5 436.4M103.3 433.5Q95.2 446.7 100.0 461.5M82.0 427.3Q87.5 425.7 92.7 428.0M82.0 427.3Q69.6 442.4 78.5 459.8M82.0 427.3Q88.6 433.0 97.3 433.4M82.0 427.3Q78.2 444.1 87.5 458.7M82.0 427.3Q80.1 435.5 84.3 442.9M82.0 427.3Q80.8 440.8 92.8 447.2M82.0 427.3Q74.3 429.0 71.5 436.4M98.2 440.0Q92.5 435.3 92.7 428.0M98.2 440.0Q93.9 455.3 78.5 459.8M98.2 440.0Q99.5 436.4 97.3 433.4M98.2 440.0Q91.6 448.9 80.7 451.0M98.2 440.0Q95.9 451.0 87.5 458.7M98.2 440.0Q90.7 438.9 84.3 442.9M98.2 440.0Q93.5 442.1 92.8 447.2M98.2 440.0Q85.5 433.2 71.5 436.4M98.2 440.0Q104.0 450.3 100.0 461.5M92.7 428.0Q95.5 448.3 78.5 459.8M92.7 428.0Q93.5 432.0 97.3 433.4M92.7 428.0Q93.7 443.1 80.7 451.0M92.7 428.0Q83.5 432.7 84.3 442.9M92.7 428.0Q97.5 437.6 92.8 447.2M92.7 428.0Q84.7 438.7 71.5 436.4M92.7 428.0Q101.7 443.6 100.0 461.5M78.5 459.8Q96.1 452.4 97.3 433.4M78.5 459.8Q77.8 454.9 80.7 451.0M78.5 459.8Q82.7 457.1 87.5 458.7M78.5 459.8Q77.1 449.9 84.3 442.9M78.5 459.8Q81.6 448.8 92.8 447.2M78.5 459.8Q79.7 446.7 71.5 436.4M78.5 459.8Q89.5 457.5 100.0 461.5M97.3 433.4Q94.1 447.1 80.7 451.0M97.3 433.4Q96.2 447.5 87.5 458.7M97.3 433.4Q87.8 434.0 84.3 442.9M97.3 433.4Q99.7 441.8 92.8 447.2M97.3 433.4Q83.7 428.4 71.5 436.4M97.3 433.4Q105.5 446.8 100.0 461.5M80.7 451.0Q85.0 454.0 87.5 458.7M80.7 451.0Q81.2 446.3 84.3 442.9M80.7 451.0Q87.5 451.5 92.8 447.2M80.7 451.0Q73.4 445.4 71.5 436.4M80.7 451.0Q92.8 451.7 100.0 461.5M87.5 458.7Q82.4 451.5 84.3 442.9M87.5 458.7Q91.9 453.8 92.8 447.2M87.5 458.7Q83.1 444.9 71.5 436.4M84.3 442.9Q87.9 446.4 92.8 447.2M84.3 442.9Q94.8 449.9 100.0 461.5M92.8 447.2Q80.6 444.9 71.5 436.4M71.5 436.4Q91.5 442.4 100.0 461.5"/></defs>
<use href="#e1" fill="none" stroke="#e63a44" stroke-width="1.4" stroke-opacity="0.07"/>
<use href="#e1" fill="none" stroke="#e63a44" stroke-width="0.2"/>
<defs><path id="e2" d="M73.1 353.9Q77.2 361.0 73.2 368.2M73.1 353.9Q80.0 355.4 85.7 351.1M73.1 353.9Q81.4 360.2 82.8 370.5M73.1 353.9Q76.9 352.1 80.5 354.3M73.1 353.9Q76.3 355.5 76.8 359.1M73.1 353.9Q68.7 355.6 68.1 360.3M73.1 353.9Q81.3 359.3 90.7 356.4M73.1 353.9Q77.1 365.5 89.2 367.5M73.1 353.9Q73.8 351.0 76.6 349.8M73.2 368.2Q82.5 361.9 85.7 351.1M73.2 368.2Q78.7 366.4 82.8 370.5M73.2 368.2Q74.7 360.1 80.5 354.3M73.2 368.2Q76.1 364.1 76.8 359.1M73.2 368.2Q72.0 363.4 68.1 360.3M73.2 368.2Q76.6 364.5 81.6 363.8M73.2 368.2Q85.1 366.9 90.7 356.4M73.2 368.2Q81.1 365.4 89.2 367.5M73.2 368.2Q82.3 366.5 84.8 357.5M73.2 368.2Q81.0 360.1 76.6 349.8M87.5 362.4Q85.2 356.9 85.7 351.1M87.5 362.4Q87.4 367.7 82.8 370.5M87.5 362.4Q82.9 359.3 80.5 354.3M87.5 362.4Q81.6 362.4 76.8 359.1M87.5 362.4Q77.2 366.8 68.1 360.3M87.5 362.4Q84.7 363.8 81.6 363.8M87.5 362.4Q87.6 358.5 90.7 356.4M87.5 362.4Q87.3 365.2 89.2 367.5M87.5 362.4Q87.2 359.4 84.8 357.5M87.5 362.4Q84.4 354.1 76.6 349.8M85.7 351.1Q84.0 354.2 80.5 354.3M85.7 351.1Q79.7 353.3 76.8 359.1M85.7 351.1Q74.0 350.1 68.1 360.3M85.7 351.1Q81.9 356.9 81.6 363.8M85.7 351.1Q86.6 355.3 90.7 356.4M85.7 351.1Q91.3 358.5 89.2 367.5M85.7 351.1Q87.4 354.6 84.8 357.5M85.7 351.1Q80.9 352.2 76.6 349.8M82.8 370.5Q86.3 361.7 80.5 354.3M82.8 370.5Q77.0 366.3 76.8 359.1M82.8 370.5Q72.9 369.1 68.1 360.3M82.8 370.5Q91.1 365.9 90.7 356.4M82.8 370.5Q85.0 366.9 89.2 367.5M82.8 370.5Q84.9 358.6 76.6 349.8M80.5 354.3Q79.3 357.2 76.8 359.1M80.5 354.3Q72.8 354.2 68.1 360.3M80.5 354.3Q79.3 359.3 81.6 363.8M80.5 354.3Q85.0 358.2 90.7 356.4M80.5 354.3Q87.2 359.3 89.2 367.5M80.5 354.3Q83.7 354.5 84.8 357.5M76.8 359.1Q72.7 361.7 68.1 360.3M76.8 359.1Q80.0 360.6 81.6 363.8M76.8 359.1Q82.9 353.3 90.7 356.4M76.8 359.1Q84.6 360.9 89.2 367.5M76.8 359.1Q78.5 354.4 76.6 349.8M68.1 360.3Q74.3 364.2 81.6 363.8M68.1 360.3Q78.4 352.1 90.7 356.4M68.1 360.3Q80.1 359.6 89.2 367.5M68.1 360.3Q75.8 354.6 84.8 357.5M68.1 360.3Q70.0 353.1 76.6 349.8M81.6 363.8Q87.8 362.1 90.7 356.4M81.6 363.8Q84.3 367.9 89.2 367.5M81.6 363.8Q85.0 361.6 84.8 357.5M81.6 363.8Q76.3 357.8 76.6 349.8M90.7 356.4Q91.5 362.2 89.2 367.5M90.7 356.4Q88.0 358.0 84.8 357.5M90.7 356.4Q84.8 350.8 76.6 349.8M89.2 367.5Q85.0 363.4 84.8 357.5M89.2 367.5Q85.4 356.9 76.6 349.8M84.8 357.5Q82.3 352.0 76.6 349.8"/></defs>
<use href="#e2" fill="none" stroke="#ee7840" stroke-width="1.4" stroke-opacity="0.04"/>
<use href="#e2" fill="none" stroke="#ee7840" stroke-width="0.16"/>
<defs><path id="e3" d="M56.9 451.8Q61.5 454.0 61.5 459.0M56.9 451.8Q49.5 455.5 41.9 452.0M56.9 451.8Q49.5 455.1 44.9 461.8M56.9 451.8Q55.0 449.1 51.8 449.0M56.9 451.8Q54.2 454.7 50.1 454.8M56.9 451.8Q53.4 447.0 47.8 445.4M56.9 451.8Q59.7 450.8 61.3 448.4M56.9 451.8Q58.7 448.2 56.9 444.6M56.9 451.8Q60.5 457.5 57.2 463.5M56.9 451.8Q59.6 454.4 63.2 453.5M61.5 459.0Q53.6 450.3 41.9 452.0M61.5 459.0Q53.6 462.7 44.9 461.8M61.5 459.0Q55.7 456.1 50.7 460.2M61.5 459.0Q55.2 455.4 51.8 449.0M61.5 459.0Q54.9 459.3 50.1 454.8M61.5 459.0Q51.8 453.1 41.2 457.3M61.5 459.0Q59.3 447.6 47.8 445.4M61.5 459.0Q63.7 450.4 56.9 444.6M61.5 459.0Q57.9 459.9 57.2 463.5M61.5 459.0Q60.6 455.7 63.2 453.5M41.9 452.0Q45.3 457.2 50.7 460.2M41.9 452.0Q46.2 448.3 51.8 449.0M41.9 452.0Q45.5 454.8 50.1 454.8M41.9 452.0Q42.5 454.8 41.2 457.3M41.9 452.0Q43.7 447.7 47.8 445.4M41.9 452.0Q47.8 458.3 56.4 457.4M41.9 452.0Q52.1 452.9 61.3 448.4M41.9 452.0Q48.4 446.3 56.9 444.6M41.9 452.0Q53.0 447.2 63.2 453.5M44.9 461.8Q44.8 453.5 51.8 449.0M44.9 461.8Q45.8 457.0 50.1 454.8M44.9 461.8Q51.6 462.0 56.4 457.4M44.9 461.8Q49.1 450.2 61.3 448.4M44.9 461.8Q45.5 449.4 56.9 444.6M44.9 461.8Q50.6 466.3 57.2 463.5M44.9 461.8Q52.7 454.6 63.2 453.5M50.7 460.2Q48.9 454.4 51.8 449.0M50.7 460.2Q49.7 457.6 50.1 454.8M50.7 460.2Q46.8 456.0 41.2 457.3M50.7 460.2Q53.0 457.7 56.4 457.4M50.7 460.2Q57.9 455.9 61.3 448.4M50.7 460.2Q51.4 451.4 56.9 444.6M50.7 460.2Q54.8 460.3 57.2 463.5M50.7 460.2Q55.9 454.9 63.2 453.5M51.8 449.0Q52.8 452.4 50.1 454.8M51.8 449.0Q47.8 454.9 41.2 457.3M51.8 449.0Q56.4 445.9 61.3 448.4M51.8 449.0Q55.8 448.5 56.9 444.6M51.8 449.0Q50.9 457.6 57.2 463.5M51.8 449.0Q56.4 454.0 63.2 453.5M50.1 454.8Q46.2 458.1 41.2 457.3M50.1 454.8Q47.6 450.4 47.8 445.4M50.1 454.8Q53.9 454.4 56.4 457.4M50.1 454.8Q54.4 449.4 61.3 448.4M50.1 454.8Q51.3 448.2 56.9 444.6M50.1 454.8Q51.3 461.1 57.2 463.5M50.1 454.8Q56.5 452.6 63.2 453.5M41.2 457.3Q41.2 449.5 47.8 445.4M41.2 457.3Q48.8 454.9 56.4 457.4M41.2 457.3Q52.6 455.8 61.3 448.4M41.2 457.3Q52.7 455.5 56.9 444.6M41.2 457.3Q47.7 464.4 57.2 463.5M41.2 457.3Q53.1 460.7 63.2 453.5M47.8 445.4Q53.7 450.2 56.4 457.4M47.8 445.4Q55.4 443.4 61.3 448.4M47.8 445.4Q52.5 447.2 56.9 444.6M47.8 445.4Q56.2 452.5 57.2 463.5M47.8 445.4Q58.3 444.2 63.2 453.5M56.4 457.4Q56.9 451.8 61.3 448.4M56.4 457.4Q59.6 451.1 56.9 444.6M56.4 457.4Q58.2 460.2 57.2 463.5M56.4 457.4Q58.6 453.4 63.2 453.5M61.3 448.4Q58.5 447.2 56.9 444.6M61.3 448.4Q62.0 456.7 57.2 463.5M61.3 448.4Q61.1 451.4 63.2 453.5M56.9 444.6Q54.3 454.1 57.2 463.5M56.9 444.6Q62.2 447.5 63.2 453.5M57.2 463.5Q62.4 459.8 63.2 453.5"/></defs>
<use href="#e3" fill="none" stroke="#e63a44" stroke-width="1.4" stroke-opacity="0.07"/>
<use href="#e3" fill="none" stroke="#e63a44" stroke-width="0.16"/>
<defs><path id="e4" d="M106.9 371.8Q111.1 368.8 113.3 364.2M106.9 371.8Q111.6 373.3 115.0 377.0M106.9 371.8Q102.4 366.5 103.5 359.7M106.9 371.8Q114.1 369.4 120.9 372.6M106.9 371.8Q113.7 372.8 118.0 367.5M106.9 371.8Q104.8 368.2 106.8 364.5M106.9 371.8Q103.6 371.7 101.9 374.5M113.3 364.2Q106.9 363.4 101.2 366.4M113.3 364.2Q110.1 365.7 106.8 364.5M113.3 364.2Q115.4 367.5 113.2 370.7M115.0 377.0Q105.7 370.7 103.5 359.7M115.0 377.0Q111.4 379.1 107.5 377.9M115.0 377.0Q110.6 368.5 101.2 366.4M115.0 377.0Q118.6 375.7 120.9 372.6M115.0 377.0Q113.1 374.1 113.2 370.7M103.5 359.7Q108.0 368.2 107.5 377.9M103.5 359.7Q104.6 363.8 101.2 366.4M103.5 359.7Q111.0 362.9 113.2 370.7M103.5 359.7Q100.0 366.8 101.9 374.5M107.5 377.9Q115.2 377.9 120.9 372.6M107.5 377.9Q115.2 375.2 118.0 367.5M107.5 377.9Q103.1 371.4 106.8 364.5M107.5 377.9Q109.2 373.5 113.2 370.7M101.2 366.4Q104.4 366.6 106.8 364.5M101.2 366.4Q105.9 372.0 113.2 370.7M101.2 366.4Q103.1 370.3 101.9 374.5M120.9 372.6Q117.8 371.1 118.0 367.5M120.9 372.6Q111.2 373.2 106.8 364.5M120.9 372.6Q116.6 373.6 113.2 370.7M120.9 372.6Q111.9 378.0 101.9 374.5M118.0 367.5Q116.4 370.3 113.2 370.7M118.0 367.5Q108.0 366.4 101.9 374.5M106.8 364.5Q111.4 366.2 113.2 370.7M113.2 370.7Q106.9 370.7 101.9 374.5"/></defs>
<use href="#e4" fill="none" stroke="#e63a44" stroke-width="1.4" stroke-opacity="0.07"/>
<use href="#e4" fill="none" stroke="#e63a44" stroke-width="0.16"/>
<defs><path id="e5" d="M29.6 401.7Q24.6 393.7 15.7 390.3M29.6 401.7Q22.8 404.2 20.2 410.9M29.6 401.7Q30.6 396.7 34.5 393.5M29.6 401.7Q32.9 399.2 37.0 400.1M29.6 401.7Q23.1 397.5 22.9 389.8M29.6 401.7Q28.4 405.5 24.6 406.6M29.6 401.7Q21.2 396.4 11.9 400.2M13.0 406.4Q21.6 402.2 27.3 394.6M13.0 406.4Q27.7 406.5 34.5 393.5M13.0 406.4Q24.2 403.7 32.8 411.4M13.0 406.4Q22.9 401.0 22.9 389.8M13.0 406.4Q18.9 403.8 24.6 406.6M13.0 406.4Q13.7 403.1 11.9 400.2M13.0 406.4Q24.7 409.2 36.4 406.3M15.7 390.3Q20.1 396.3 27.3 394.6M15.7 390.3Q21.9 399.7 20.2 410.9M15.7 390.3Q25.9 387.5 34.5 393.5M15.7 390.3Q19.4 391.1 22.9 389.8M27.3 394.6Q24.0 404.1 26.4 414.0M27.3 394.6Q25.9 404.3 32.8 411.4M27.3 394.6Q30.5 400.2 37.0 400.1M27.3 394.6Q26.1 391.3 22.9 389.8M27.3 394.6Q18.6 394.8 11.9 400.2M27.3 394.6Q33.5 399.1 36.4 406.3M20.2 410.9Q15.4 405.5 18.1 398.8M20.2 410.9Q31.0 409.1 37.0 400.1M20.2 410.9Q25.8 400.9 22.9 389.8M20.2 410.9Q23.6 410.0 24.6 406.6M20.2 410.9Q19.4 402.9 11.9 400.2M26.4 414.0Q26.2 404.3 18.1 398.8M26.4 414.0Q26.5 402.1 34.5 393.5M26.4 414.0Q30.4 414.6 32.8 411.4M26.4 414.0Q29.1 405.1 37.0 400.1M26.4 414.0Q27.9 401.4 22.9 389.8M26.4 414.0Q23.7 410.7 24.6 406.6M26.4 414.0Q23.1 402.9 11.9 400.2M26.4 414.0Q28.9 407.0 36.4 406.3M18.1 398.8Q23.7 407.2 32.8 411.4M18.1 398.8Q27.8 396.3 37.0 400.1M18.1 398.8Q14.6 397.6 11.9 400.2M18.1 398.8Q29.0 398.3 36.4 406.3M34.5 393.5Q33.5 402.9 24.6 406.6M32.8 411.4Q37.0 406.5 37.0 400.1M32.8 411.4Q22.9 402.9 22.9 389.8M32.8 411.4Q18.7 412.6 11.9 400.2M32.8 411.4Q33.1 407.8 36.4 406.3M37.0 400.1Q24.4 394.9 11.9 400.2M37.0 400.1Q38.4 403.3 36.4 406.3M22.9 389.8Q26.0 401.0 36.4 406.3M11.9 400.2Q22.2 411.1 36.4 406.3"/></defs>
<use href="#e5" fill="none" stroke="#e63a44" stroke-width="1.4" stroke-opacity="0.07"/>
<use href="#e5" fill="none" stroke="#e63a44" stroke-width="0.16"/>
<defs><path id="e6" d="M108.7 398.7Q106.6 401.9 108.5 405.1M108.7 398.7Q101.7 393.9 100.5 385.5M108.7 398.7Q108.5 389.2 116.4 384.1M105.1 390.5Q102.4 392.8 102.4 396.4M105.1 390.5Q104.5 398.3 108.5 405.1M105.1 390.5Q101.9 388.7 100.5 385.5M105.1 390.5Q108.1 393.7 112.6 393.6M105.1 390.5Q102.0 393.5 98.0 391.9M105.1 390.5Q105.6 397.2 102.4 403.1M110.1 384.5Q104.8 389.5 102.4 396.4M110.1 384.5Q112.7 389.5 118.2 390.4M110.1 384.5Q113.2 395.1 108.5 405.1M110.1 384.5Q105.5 387.3 100.5 385.5M110.1 384.5Q110.1 389.4 112.6 393.6M102.4 396.4Q110.8 395.1 118.7 398.0M102.4 396.4Q110.3 396.9 115.1 403.2M102.4 396.4Q107.0 393.4 112.6 393.6M102.4 396.4Q98.7 395.6 98.0 391.9M118.2 390.4Q108.2 392.0 100.5 385.5M118.2 390.4Q108.4 395.7 98.0 391.9M118.2 390.4Q116.3 387.6 116.4 384.1M108.5 405.1Q112.2 399.5 118.7 398.0M108.5 405.1Q112.2 405.4 115.1 403.2M108.5 405.1Q107.5 398.3 112.6 393.6M118.7 398.0Q117.1 393.8 112.6 393.6M118.7 398.0Q115.3 391.4 116.4 384.1M100.5 385.5Q99.2 394.5 102.4 403.1M100.5 385.5Q108.7 387.2 116.4 384.1M115.1 403.2Q108.8 400.7 102.4 403.1M112.6 393.6Q105.4 396.1 102.4 403.1M112.6 393.6Q113.2 388.4 116.4 384.1M98.0 391.9Q105.6 384.3 116.4 384.1M102.4 403.1Q103.6 389.3 116.4 384.1"/></defs>
<use href="#e6" fill="none" stroke="#e63a44" stroke-width="1.4" stroke-opacity="0.07"/>
<use href="#e6" fill="none" stroke="#e63a44" stroke-width="0.16"/>
<defs><path id="e7" d="M35.2 379.2Q41.1 374.8 48.0 377.3M35.2 379.2Q37.6 374.7 35.5 370.0M35.2 379.2Q37.9 374.3 43.2 372.5M35.2 379.2Q44.2 385.2 54.5 382.1M48.0 377.3Q51.7 372.5 49.1 366.9M49.1 366.9Q42.7 370.3 35.5 370.0M49.1 366.9Q50.7 377.1 47.4 386.9M49.1 366.9Q52.1 372.6 57.7 375.7M49.1 366.9Q53.6 373.9 54.5 382.1M49.1 366.9Q45.5 365.2 41.6 365.9M49.1 366.9Q52.7 366.8 55.3 369.3M41.8 380.6Q41.4 373.7 35.5 370.0M41.8 380.6Q45.6 382.9 47.4 386.9M41.8 380.6Q39.9 376.1 43.2 372.5M41.8 380.6Q48.6 377.1 54.5 382.1M41.8 380.6Q50.9 377.8 55.3 369.3M35.5 370.0Q37.9 380.9 47.4 386.9M35.5 370.0Q45.3 378.1 57.7 375.7M35.5 370.0Q39.6 369.5 41.6 365.9M47.4 386.9Q41.5 380.8 43.2 372.5M47.4 386.9Q51.8 385.8 54.5 382.1M47.4 386.9Q39.0 377.9 41.6 365.9M43.2 372.5Q40.9 369.6 41.6 365.9M57.7 375.7Q48.2 373.1 41.6 365.9M54.5 382.1Q43.3 377.8 41.6 365.9M54.5 382.1Q52.4 375.5 55.3 369.3M41.6 365.9Q49.0 365.5 55.3 369.3"/></defs>
<use href="#e7" fill="none" stroke="#e63a44" stroke-width="1.4" stroke-opacity="0.07"/>
<use href="#e7" fill="none" stroke="#e63a44" stroke-width="0.16"/>
<defs><path id="e8" d="M109.7 419.5Q112.8 423.7 117.9 423.3M109.7 419.5Q116.1 420.3 120.1 415.2M109.7 419.5Q106.5 417.4 103.1 419.1M114.5 410.9Q118.6 411.4 120.1 415.2M114.5 410.9Q110.3 413.6 105.8 411.3M114.5 410.9Q111.0 418.0 103.1 419.1M117.9 423.3Q112.8 427.1 106.6 425.7M117.9 423.3Q116.4 418.6 120.1 415.2M117.9 423.3Q114.9 414.3 105.8 411.3M117.9 423.3Q111.6 417.5 103.1 419.1M106.6 425.7Q110.7 417.1 120.1 415.2M106.6 425.7Q109.8 418.3 105.8 411.3M106.6 425.7Q109.5 427.3 112.8 427.0M120.1 415.2Q112.2 416.0 105.8 411.3M120.1 415.2Q110.9 414.3 103.1 419.1M105.8 411.3Q106.8 416.0 103.1 419.1M105.8 411.3Q111.6 418.1 112.8 427.0"/></defs>
<use href="#e8" fill="none" stroke="#e63a44" stroke-width="1.4" stroke-opacity="0.07"/>
<use href="#e8" fill="none" stroke="#e63a44" stroke-width="0.16"/>
<defs><path id="e9" d="M73.7 450.4Q68.0 446.7 61.3 448.4M73.7 450.4Q67.9 450.0 63.2 453.5M103.2 455.7Q111.2 453.0 114.7 445.3M79.1 433.1Q71.1 429.8 63.3 433.7M79.1 433.1Q81.2 426.5 87.2 423.0M102.5 447.4Q109.5 443.5 112.1 436.0M72.1 444.1Q70.2 451.2 63.2 453.5M85.1 435.2Q83.3 428.6 87.2 423.0M73.1 456.8Q67.9 461.1 61.5 459.0M73.1 456.8Q74.3 462.7 71.9 468.2M105.8 441.2Q106.2 432.6 112.8 427.0M105.8 441.2Q107.5 436.8 112.1 436.0M79.1 439.8Q69.5 441.0 63.3 433.7M84.4 464.8Q78.9 469.2 71.9 468.2M103.3 433.5Q109.9 428.0 109.7 419.5M103.3 433.5Q109.7 432.7 112.8 427.0M103.3 433.5Q108.3 432.6 112.1 436.0M103.3 433.5Q110.4 438.6 119.1 438.4M103.3 433.5Q102.5 429.0 99.2 425.9M82.0 427.3Q87.2 422.8 87.9 416.0M82.0 427.3Q83.4 423.7 87.2 423.0M98.2 440.0Q98.8 430.7 106.6 425.7M98.2 440.0Q104.0 434.0 112.1 436.0M98.2 440.0Q101.8 433.1 99.2 425.9M92.7 428.0Q89.2 426.3 87.2 423.0M97.3 433.4Q99.8 430.1 99.2 425.9M71.5 436.4Q66.8 437.1 63.3 433.7M71.5 436.4Q66.3 437.5 63.9 442.3M73.1 353.9Q71.6 350.3 68.1 348.6M73.2 368.2Q73.7 371.8 77.0 373.1M87.5 362.4Q91.4 356.9 98.0 356.3M87.5 362.4Q91.0 361.2 94.5 362.5M87.5 362.4Q89.7 368.1 88.3 374.1M87.5 362.4Q92.8 357.5 93.3 350.4M85.7 351.1Q90.6 356.6 98.0 356.3M82.8 370.5Q80.6 373.2 77.0 373.1M82.8 370.5Q89.3 372.9 95.9 370.4M82.8 370.5Q84.9 373.3 88.3 374.1M80.5 354.3Q88.0 356.1 93.3 350.4M68.1 360.3Q74.8 365.2 77.0 373.1M68.1 360.3Q65.2 367.2 68.4 374.0M68.1 360.3Q70.7 354.5 68.1 348.6M68.1 360.3Q62.4 357.2 59.9 351.1M68.1 360.3Q68.6 364.1 66.3 367.3M81.6 363.8Q77.3 367.5 77.0 373.1M81.6 363.8Q88.4 366.5 94.5 362.5M81.6 363.8Q73.2 362.2 66.3 367.3M81.6 363.8Q83.4 370.0 88.3 374.1M90.7 356.4Q91.5 360.2 94.5 362.5M90.7 356.4Q93.0 353.8 93.3 350.4M89.2 367.5Q95.0 364.8 101.2 366.4M89.2 367.5Q93.1 367.7 95.9 370.4M84.8 357.5Q90.4 355.5 93.3 350.4M76.6 349.8Q68.5 354.0 59.9 351.1M76.6 349.8Q85.1 345.2 93.3 350.4M56.9 451.8Q52.2 444.4 54.9 436.1M61.5 459.0Q63.6 462.1 63.5 465.8M41.9 452.0Q38.8 450.9 37.2 448.0M44.9 461.8Q36.6 459.5 31.8 452.4M50.7 460.2Q55.9 465.8 63.5 465.8M51.8 449.0Q45.4 446.3 42.3 440.1M41.2 457.3Q35.0 457.6 31.8 452.4M47.8 445.4Q46.6 441.1 42.3 440.1M47.8 445.4Q53.2 442.1 54.9 436.1M47.8 445.4Q43.2 449.4 37.2 448.0M47.8 445.4Q42.2 440.7 34.9 440.1M56.4 457.4Q57.5 463.6 63.5 465.8M56.4 457.4Q55.8 447.7 63.9 442.3M61.3 448.4Q61.7 444.9 63.9 442.3M56.9 444.6Q48.7 445.1 42.3 440.1M56.9 444.6Q57.8 439.9 54.9 436.1M56.9 444.6Q61.0 445.1 63.9 442.3M57.2 463.5Q60.7 463.7 63.5 465.8M63.2 453.5Q65.5 459.6 63.5 465.8M106.9 371.8Q101.7 368.7 95.9 370.4M115.0 377.0Q113.7 381.5 110.1 384.5M115.0 377.0Q114.5 380.8 116.4 384.1M103.5 359.7Q101.6 356.5 98.0 356.3M103.5 359.7Q102.8 367.3 95.9 370.4M103.5 359.7Q100.5 352.7 93.3 350.4M107.5 377.9Q106.3 383.8 100.5 385.5M107.5 377.9Q110.4 383.3 116.4 384.1M101.2 366.4Q97.6 367.1 95.9 370.4M101.2 366.4Q97.1 365.7 94.5 362.5M101.2 366.4Q96.4 373.0 88.3 374.1M120.9 372.6Q115.6 377.1 116.4 384.1M120.9 372.6Q121.2 376.6 124.7 378.5M106.8 364.5Q99.6 364.3 95.9 370.4M113.2 370.7Q107.9 376.8 110.1 384.5M113.2 370.7Q118.5 376.5 116.4 384.1M101.9 374.5Q99.1 383.3 105.1 390.5M101.9 374.5Q99.4 379.8 100.5 385.5M101.9 374.5Q100.1 370.7 95.9 370.4M101.9 374.5Q95.1 376.8 88.3 374.1M13.0 406.4Q11.2 411.9 14.3 416.8M27.3 394.6Q33.4 390.4 40.9 390.7M27.3 394.6Q31.9 390.8 31.3 384.9M20.2 410.9Q22.0 418.3 16.6 423.6M26.4 414.0Q28.6 420.4 35.2 422.1M26.4 414.0Q23.3 416.2 23.1 420.1M34.5 393.5Q37.4 386.5 35.2 379.2M34.5 393.5Q39.0 386.4 47.4 386.9M34.5 393.5Q36.9 390.2 40.9 390.7M34.5 393.5Q34.5 388.6 31.3 384.9M32.8 411.4Q37.3 408.4 42.4 410.4M37.0 400.1Q41.3 404.4 42.4 410.4M36.4 406.3Q45.0 402.9 52.2 408.6M36.4 406.3Q40.7 401.5 47.0 402.6M36.4 406.3Q40.3 407.1 42.4 410.4M108.7 398.7Q101.8 396.2 95.0 398.7M110.1 384.5Q116.4 379.0 124.7 378.5M108.5 405.1Q110.6 409.0 114.5 410.9M118.7 398.0Q124.9 396.9 129.7 401.0M118.7 398.0Q126.2 394.0 126.4 385.5M100.5 385.5Q96.0 389.2 90.3 388.2M115.1 403.2Q112.8 406.9 114.5 410.9M115.1 403.2Q115.3 410.1 120.1 415.2M115.1 403.2Q119.8 402.7 123.3 405.9M112.6 393.6Q116.0 401.5 123.3 405.9M112.6 393.6Q119.9 397.8 127.4 394.2M98.0 391.9Q92.8 397.2 85.4 398.6M98.0 391.9Q92.2 397.7 91.8 405.9M98.0 391.9Q93.6 391.2 90.3 388.2M98.0 391.9Q98.5 396.2 95.0 398.7M102.4 403.1Q110.2 404.4 114.5 410.9M102.4 403.1Q96.4 401.7 91.8 405.9M116.4 384.1Q121.7 383.1 126.4 385.5M116.4 384.1Q120.3 390.9 127.4 394.2M35.2 379.2Q28.2 383.5 20.9 379.8M35.2 379.2Q33.0 375.0 28.6 373.1M35.2 379.2Q40.8 383.6 40.9 390.7M35.2 379.2Q34.2 382.7 31.3 384.9M48.0 377.3Q48.0 385.9 40.9 390.7M49.1 366.9Q55.8 366.9 60.9 362.5M49.1 366.9Q54.4 363.9 54.6 357.8M41.8 380.6Q38.7 385.4 40.9 390.7M41.8 380.6Q42.1 388.4 48.0 393.6M35.5 370.0Q30.4 370.3 27.0 366.3M47.4 386.9Q38.9 389.4 31.3 384.9M47.4 386.9Q46.1 390.4 48.0 393.6M47.4 386.9Q49.9 389.5 53.5 389.2M43.2 372.5Q36.0 375.2 28.6 373.1M54.5 382.1Q59.4 386.5 59.6 393.0M54.5 382.1Q56.1 385.9 53.5 389.2M41.6 365.9Q34.2 363.4 27.0 366.3M55.3 369.3Q49.2 365.9 47.6 359.1M55.3 369.3Q60.4 366.1 66.3 367.3M109.7 419.5Q114.8 427.8 124.5 428.1M117.9 423.3Q122.4 424.1 124.5 428.1M117.9 423.3Q122.0 420.1 127.0 421.4M106.6 425.7Q103.3 418.2 95.7 415.4M120.1 415.2Q123.8 411.3 123.3 405.9M103.1 419.1Q100.4 415.2 95.7 415.4M112.8 427.0Q110.6 431.3 112.1 436.0M112.8 427.0Q106.2 423.8 99.2 425.9M52.2 408.6Q50.3 403.5 53.6 399.1M52.2 408.6Q55.4 404.2 60.9 404.5M52.2 408.6Q48.1 406.9 47.0 402.6M52.2 408.6Q47.0 401.9 48.0 393.6M52.2 408.6Q52.3 415.7 58.1 419.8M69.0 409.8Q65.3 412.8 60.5 412.9M69.0 409.8Q66.3 413.4 67.6 417.7M69.0 409.8Q63.4 409.5 60.9 404.5M69.0 409.8Q72.8 409.8 75.4 412.5M28.6 373.1Q29.2 369.4 27.0 366.3M28.6 373.1Q32.4 378.4 31.3 384.9M68.2 384.6Q70.3 380.3 75.0 379.9M68.2 384.6Q64.6 382.5 60.8 384.3M68.2 384.6Q69.4 388.8 73.6 389.9M68.2 384.6Q70.5 392.7 78.5 395.2M68.2 384.6Q66.4 388.9 67.6 393.4M75.0 379.9Q69.0 385.5 60.8 384.3M75.0 379.9Q74.2 375.9 77.0 373.1M75.0 379.9Q80.4 378.6 85.2 381.3M75.0 379.9Q82.2 382.8 83.6 390.4M75.0 379.9Q82.7 379.3 88.3 374.1M49.6 352.0Q49.8 355.9 47.6 359.1M49.6 352.0Q50.8 356.0 54.6 357.8M60.8 384.3Q67.3 381.2 68.4 374.0M63.5 425.0Q68.0 428.5 73.2 426.1M63.5 425.0Q60.8 429.3 63.3 433.7M63.5 425.0Q59.9 423.4 58.1 419.8M53.7 425.2Q54.0 417.3 60.5 412.9M53.7 425.2Q57.4 430.3 54.9 436.1M53.7 425.2Q50.2 428.0 46.1 426.3M53.7 425.2Q50.9 418.6 43.8 417.7M53.7 425.2Q53.5 421.5 50.8 418.8M53.7 425.2Q47.9 428.4 47.8 435.0M53.7 425.2Q54.8 421.6 58.1 419.8M77.0 373.1Q82.5 375.9 88.3 374.1M28.0 446.1Q32.2 449.0 37.2 448.0M28.0 446.1Q30.0 441.4 34.9 440.1M28.0 446.1Q25.8 442.2 21.4 441.6M42.3 440.1Q41.8 435.3 37.4 433.5M42.3 440.1Q46.2 438.7 47.8 435.0M42.3 440.1Q38.6 441.4 34.9 440.1M28.3 428.6Q25.2 431.1 24.1 434.9M28.3 428.6Q21.4 428.6 16.6 423.6M28.3 428.6Q23.4 425.8 23.1 420.1M53.6 399.1Q61.3 395.9 68.2 400.5M53.6 399.1Q51.3 402.7 47.0 402.6M53.6 399.1Q52.2 395.0 48.0 393.6M53.6 399.1Q55.6 394.1 53.5 389.2M35.2 422.1Q28.7 423.5 23.1 420.1M47.6 359.1Q53.4 364.4 60.9 362.5M47.6 359.1Q50.8 356.6 54.6 357.8M80.7 405.8Q81.3 413.0 87.9 416.0M80.7 405.8Q81.6 401.3 85.4 398.6M80.7 405.8Q75.9 399.8 68.2 400.5M80.7 405.8Q86.2 403.3 91.8 405.9M95.7 415.4Q95.5 409.9 91.8 405.9M60.5 412.9Q66.8 408.2 68.2 400.5M60.5 412.9Q54.5 413.8 50.8 418.8M60.5 412.9Q60.9 416.9 58.1 419.8M92.8 379.5Q89.3 381.5 85.2 381.3M92.8 379.5Q92.5 374.3 95.9 370.4M92.8 379.5Q93.3 384.3 90.3 388.2M92.8 379.5Q89.2 377.9 88.3 374.1M73.2 426.1Q68.4 423.3 67.6 417.7M73.2 426.1Q79.4 420.8 87.2 423.0M60.9 362.5Q64.5 363.9 66.3 367.3M60.9 362.5Q56.5 361.9 54.6 357.8M87.9 416.0Q92.0 411.8 91.8 405.9M87.9 416.0Q82.5 416.3 78.3 419.8M87.9 416.0Q82.4 411.7 75.4 412.5M87.9 416.0Q89.6 419.7 87.2 423.0M73.6 389.9Q65.7 387.4 59.6 393.0M73.6 389.9Q77.7 383.3 85.2 381.3M73.6 389.9Q75.2 393.4 78.5 395.2M73.6 389.9Q71.3 392.8 67.6 393.4M124.5 428.1Q124.3 424.2 127.0 421.4M54.9 436.1Q59.7 437.1 63.3 433.7M54.9 436.1Q51.1 436.9 47.8 435.0M46.1 426.3Q43.5 431.9 37.4 433.5M46.1 426.3Q50.5 423.8 50.8 418.8M98.0 356.3Q94.7 354.1 93.3 350.4M59.6 393.0Q62.2 398.7 68.2 400.5M59.6 393.0Q63.1 398.5 60.9 404.5M59.6 393.0Q53.7 391.4 48.0 393.6M59.6 393.0Q63.7 391.3 67.6 393.4M63.5 465.8Q67.1 469.1 71.9 468.2M123.3 405.9Q127.6 404.9 129.7 401.0M40.9 390.7Q34.5 390.4 31.3 384.9M40.9 390.7Q45.3 390.1 48.0 393.6M40.9 390.7Q47.6 393.5 53.5 389.2M85.4 398.6Q87.2 403.4 91.8 405.9M85.4 398.6Q85.5 392.3 90.3 388.2M85.4 398.6Q81.1 398.7 78.5 395.2M129.7 401.0Q132.5 406.7 129.8 412.5M129.7 401.0Q126.9 398.2 127.4 394.2M112.1 436.0Q115.3 440.1 114.7 445.3M112.1 436.0Q116.3 435.3 119.1 438.4M68.2 400.5Q64.3 409.0 67.6 417.7M68.2 400.5Q65.4 404.2 60.9 404.5M126.4 385.5Q123.8 382.4 124.7 378.5M43.8 417.7Q47.8 410.7 47.0 402.6M43.8 417.7Q41.8 414.3 42.4 410.4M63.3 433.7Q61.9 438.1 63.9 442.3M63.3 433.7Q55.9 438.3 47.8 435.0M67.6 417.7Q62.4 416.7 58.1 419.8M129.8 412.5Q126.8 416.5 127.0 421.4M60.9 404.5Q66.5 400.3 67.6 393.4M95.9 370.4Q93.2 366.8 94.5 362.5M24.1 434.9Q28.4 439.8 34.9 440.1M24.1 434.9Q21.5 437.7 21.4 441.6M90.3 388.2Q87.5 390.9 83.6 390.4M16.6 423.6Q19.0 420.3 23.1 420.1M16.6 423.6Q16.9 419.7 14.3 416.8M78.3 419.8Q83.3 419.8 87.2 423.0M14.3 416.8Q19.3 423.9 16.7 432.1M78.5 395.2Q73.5 391.6 67.6 393.4M78.5 395.2Q79.6 391.3 83.6 390.4M42.4 410.4Q44.2 417.0 50.8 418.8M37.2 448.0Q33.6 444.8 34.9 440.1M37.2 448.0Q35.3 451.3 31.8 452.4M48.0 393.6Q49.8 390.1 53.5 389.2M31.3 384.9Q28.5 395.4 18.1 398.8M102.4 403.1Q119.5 397.8 129.8 412.5M83.6 390.4Q60.0 380.6 47.0 402.6M73.2 368.2Q82.4 383.8 100.5 385.5"/></defs>
<use href="#e9" fill="none" stroke="#e63a44" stroke-width="1.4" stroke-opacity="0.08"/>
<use href="#e9" fill="none" stroke="#e63a44" stroke-width="0.16"/>
<circle cx="73.7" cy="450.4" r="1.97" fill="#2145a6"/>
<circle cx="93.7" cy="459.1" r="1.82" fill="#2145a6"/>
<circle cx="89.6" cy="440.1" r="1.65" fill="#2145a6"/>
<circle cx="103.2" cy="455.7" r="1.85" fill="#2145a6"/>
<circle cx="107.1" cy="451.2" r="1.99" fill="#2145a6"/>
<circle cx="79.1" cy="433.1" r="1.57" fill="#2145a6"/>
<circle cx="102.5" cy="447.4" r="1.52" fill="#2145a6"/>
<circle cx="72.1" cy="444.1" r="1.75" fill="#2145a6"/>
<circle cx="85.1" cy="435.2" r="1.61" fill="#2145a6"/>
<circle cx="86.7" cy="451.1" r="1.89" fill="#2145a6"/>
<circle cx="73.1" cy="456.8" r="1.69" fill="#2145a6"/>
<circle cx="105.8" cy="441.2" r="1.49" fill="#2145a6"/>
<circle cx="97.8" cy="452.0" r="1.99" fill="#2145a6"/>
<circle cx="79.1" cy="439.8" r="1.58" fill="#2145a6"/>
<circle cx="84.4" cy="464.8" r="1.59" fill="#2145a6"/>
<circle cx="103.3" cy="433.5" r="1.83" fill="#2145a6"/>
<circle cx="82.0" cy="427.3" r="1.50" fill="#2145a6"/>
<circle cx="98.2" cy="440.0" r="1.85" fill="#2145a6"/>
<circle cx="92.7" cy="428.0" r="1.79" fill="#2145a6"/>
<circle cx="78.5" cy="459.8" r="1.76" fill="#2145a6"/>
<circle cx="97.3" cy="433.4" r="1.94" fill="#2145a6"/>
<circle cx="80.7" cy="451.0" r="1.57" fill="#2145a6"/>
<circle cx="87.5" cy="458.7" r="1.51" fill="#2145a6"/>
<circle cx="84.3" cy="442.9" r="1.98" fill="#2145a6"/>
<circle cx="92.8" cy="447.2" r="1.63" fill="#2145a6"/>
<circle cx="71.5" cy="436.4" r="1.51" fill="#2145a6"/>
<circle cx="100.0" cy="461.5" r="1.80" fill="#2145a6"/>
<circle cx="73.1" cy="353.9" r="0.96" fill="#2145a6"/>
<circle cx="73.2" cy="368.2" r="0.97" fill="#2145a6"/>
<circle cx="87.5" cy="362.4" r="1.22" fill="#2145a6"/>
<circle cx="85.7" cy="351.1" r="1.17" fill="#2145a6"/>
<circle cx="82.8" cy="370.5" r="0.94" fill="#2145a6"/>
<circle cx="80.5" cy="354.3" r="0.96" fill="#2145a6"/>
<circle cx="76.8" cy="359.1" r="1.18" fill="#2145a6"/>
<circle cx="68.1" cy="360.3" r="1.09" fill="#2145a6"/>
<circle cx="81.6" cy="363.8" r="1.15" fill="#2145a6"/>
<circle cx="90.7" cy="356.4" r="1.11" fill="#2145a6"/>
<circle cx="89.2" cy="367.5" r="1.01" fill="#2145a6"/>
<circle cx="84.8" cy="357.5" r="1.07" fill="#2145a6"/>
<circle cx="76.6" cy="349.8" r="0.94" fill="#2145a6"/>
<circle cx="56.9" cy="451.8" r="1.38" fill="#2145a6"/>
<circle cx="61.5" cy="459.0" r="1.13" fill="#2145a6"/>
<circle cx="41.9" cy="452.0" r="1.12" fill="#2145a6"/>
<circle cx="44.9" cy="461.8" r="1.04" fill="#2145a6"/>
<circle cx="50.7" cy="460.2" r="1.08" fill="#2145a6"/>
<circle cx="51.8" cy="449.0" r="1.13" fill="#2145a6"/>
<circle cx="50.1" cy="454.8" r="1.14" fill="#2145a6"/>
<circle cx="41.2" cy="457.3" r="1.04" fill="#2145a6"/>
<circle cx="47.8" cy="445.4" r="1.34" fill="#2145a6"/>
<circle cx="56.4" cy="457.4" r="1.11" fill="#2145a6"/>
<circle cx="61.3" cy="448.4" r="1.06" fill="#2145a6"/>
<circle cx="56.9" cy="444.6" r="1.32" fill="#2145a6"/>
<circle cx="57.2" cy="463.5" r="1.31" fill="#2145a6"/>
<circle cx="63.2" cy="453.5" r="1.06" fill="#2145a6"/>
<circle cx="106.9" cy="371.8" r="1.03" fill="#2145a6"/>
<circle cx="113.3" cy="364.2" r="1.20" fill="#2145a6"/>
<circle cx="115.0" cy="377.0" r="1.07" fill="#2145a6"/>
<circle cx="103.5" cy="359.7" r="1.06" fill="#2145a6"/>
<circle cx="107.5" cy="377.9" r="1.09" fill="#2145a6"/>
<circle cx="101.2" cy="366.4" r="1.21" fill="#2145a6"/>
<circle cx="120.9" cy="372.6" r="0.97" fill="#2145a6"/>
<circle cx="118.0" cy="367.5" r="1.08" fill="#2145a6"/>
<circle cx="106.8" cy="364.5" r="1.20" fill="#2145a6"/>
<circle cx="113.2" cy="370.7" r="1.03" fill="#2145a6"/>
<circle cx="101.9" cy="374.5" r="1.09" fill="#2145a6"/>
<circle cx="29.6" cy="401.7" r="0.97" fill="#2145a6"/>
<circle cx="13.0" cy="406.4" r="0.99" fill="#2145a6"/>
<circle cx="15.7" cy="390.3" r="1.05" fill="#2145a6"/>
<circle cx="27.3" cy="394.6" r="1.04" fill="#2145a6"/>
<circle cx="20.2" cy="410.9" r="0.97" fill="#2145a6"/>
<circle cx="26.4" cy="414.0" r="1.02" fill="#2145a6"/>
<circle cx="18.1" cy="398.8" r="0.98" fill="#2145a6"/>
<circle cx="34.5" cy="393.5" r="1.04" fill="#2145a6"/>
<circle cx="32.8" cy="411.4" r="1.07" fill="#2145a6"/>
<circle cx="37.0" cy="400.1" r="1.24" fill="#2145a6"/>
<circle cx="22.9" cy="389.8" r="1.07" fill="#2145a6"/>
<circle cx="24.6" cy="406.6" r="1.07" fill="#2145a6"/>
<circle cx="11.9" cy="400.2" r="1.25" fill="#2145a6"/>
<circle cx="36.4" cy="406.3" r="0.99" fill="#2145a6"/>
<circle cx="108.7" cy="398.7" r="0.89" fill="#2145a6"/>
<circle cx="105.1" cy="390.5" r="1.00" fill="#2145a6"/>
<circle cx="110.1" cy="384.5" r="1.10" fill="#2145a6"/>
<circle cx="102.4" cy="396.4" r="1.01" fill="#2145a6"/>
<circle cx="118.2" cy="390.4" r="1.00" fill="#2145a6"/>
<circle cx="108.5" cy="405.1" r="1.08" fill="#2145a6"/>
<circle cx="118.7" cy="398.0" r="1.15" fill="#2145a6"/>
<circle cx="100.5" cy="385.5" r="1.00" fill="#2145a6"/>
<circle cx="115.1" cy="403.2" r="0.95" fill="#2145a6"/>
<circle cx="112.6" cy="393.6" r="0.98" fill="#2145a6"/>
<circle cx="98.0" cy="391.9" r="1.09" fill="#2145a6"/>
<circle cx="102.4" cy="403.1" r="1.12" fill="#2145a6"/>
<circle cx="116.4" cy="384.1" r="1.06" fill="#2145a6"/>
<circle cx="35.2" cy="379.2" r="0.85" fill="#2145a6"/>
<circle cx="48.0" cy="377.3" r="1.09" fill="#2145a6"/>
<circle cx="49.1" cy="366.9" r="1.08" fill="#2145a6"/>
<circle cx="41.8" cy="380.6" r="0.96" fill="#2145a6"/>
<circle cx="35.5" cy="370.0" r="0.96" fill="#2145a6"/>
<circle cx="47.4" cy="386.9" r="0.85" fill="#2145a6"/>
<circle cx="43.2" cy="372.5" r="1.15" fill="#2145a6"/>
<circle cx="57.7" cy="375.7" r="0.93" fill="#2145a6"/>
<circle cx="54.5" cy="382.1" r="0.90" fill="#2145a6"/>
<circle cx="41.6" cy="365.9" r="1.15" fill="#2145a6"/>
<circle cx="55.3" cy="369.3" r="1.11" fill="#2145a6"/>
<circle cx="109.7" cy="419.5" r="1.05" fill="#2145a6"/>
<circle cx="114.5" cy="410.9" r="1.14" fill="#2145a6"/>
<circle cx="117.9" cy="423.3" r="1.11" fill="#2145a6"/>
<circle cx="106.6" cy="425.7" r="0.99" fill="#2145a6"/>
<circle cx="120.1" cy="415.2" r="0.92" fill="#2145a6"/>
<circle cx="105.8" cy="411.3" r="1.09" fill="#2145a6"/>
<circle cx="103.1" cy="419.1" r="1.14" fill="#2145a6"/>
<circle cx="112.8" cy="427.0" r="0.91" fill="#2145a6"/>
<circle cx="52.2" cy="408.6" r="1.03" fill="#2145a6"/>
<circle cx="69.0" cy="409.8" r="0.82" fill="#2145a6"/>
<circle cx="20.9" cy="379.8" r="0.80" fill="#2145a6"/>
<circle cx="28.6" cy="373.1" r="0.97" fill="#2145a6"/>
<circle cx="68.2" cy="384.6" r="0.95" fill="#2145a6"/>
<circle cx="75.0" cy="379.9" r="0.82" fill="#2145a6"/>
<circle cx="49.6" cy="352.0" r="1.10" fill="#2145a6"/>
<circle cx="60.8" cy="384.3" r="1.12" fill="#2145a6"/>
<circle cx="63.5" cy="425.0" r="0.95" fill="#2145a6"/>
<circle cx="53.7" cy="425.2" r="0.81" fill="#2145a6"/>
<circle cx="77.0" cy="373.1" r="1.11" fill="#2145a6"/>
<circle cx="68.4" cy="374.0" r="0.95" fill="#2145a6"/>
<circle cx="28.0" cy="446.1" r="0.98" fill="#2145a6"/>
<circle cx="42.3" cy="440.1" r="1.12" fill="#2145a6"/>
<circle cx="28.3" cy="428.6" r="1.14" fill="#2145a6"/>
<circle cx="53.6" cy="399.1" r="1.14" fill="#2145a6"/>
<circle cx="35.2" cy="422.1" r="1.12" fill="#2145a6"/>
<circle cx="47.6" cy="359.1" r="0.95" fill="#2145a6"/>
<circle cx="80.7" cy="405.8" r="0.96" fill="#2145a6"/>
<circle cx="95.7" cy="415.4" r="1.10" fill="#2145a6"/>
<circle cx="60.5" cy="412.9" r="1.00" fill="#2145a6"/>
<circle cx="92.8" cy="379.5" r="0.86" fill="#2145a6"/>
<circle cx="73.2" cy="426.1" r="1.12" fill="#2145a6"/>
<circle cx="60.9" cy="362.5" r="1.08" fill="#2145a6"/>
<circle cx="87.9" cy="416.0" r="1.10" fill="#2145a6"/>
<circle cx="73.6" cy="389.9" r="1.01" fill="#2145a6"/>
<circle cx="124.5" cy="428.1" r="0.98" fill="#2145a6"/>
<circle cx="54.9" cy="436.1" r="0.96" fill="#2145a6"/>
<circle cx="46.1" cy="426.3" r="1.00" fill="#2145a6"/>
<circle cx="98.0" cy="356.3" r="0.83" fill="#2145a6"/>
<circle cx="59.6" cy="393.0" r="0.85" fill="#2145a6"/>
<circle cx="63.5" cy="465.8" r="0.98" fill="#2145a6"/>
<circle cx="123.3" cy="405.9" r="1.05" fill="#2145a6"/>
<circle cx="40.9" cy="390.7" r="1.03" fill="#2145a6"/>
<circle cx="85.4" cy="398.6" r="0.88" fill="#2145a6"/>
<circle cx="27.0" cy="366.3" r="1.14" fill="#2145a6"/>
<circle cx="68.1" cy="348.6" r="0.87" fill="#2145a6"/>
<circle cx="129.7" cy="401.0" r="0.99" fill="#2145a6"/>
<circle cx="112.1" cy="436.0" r="1.12" fill="#2145a6"/>
<circle cx="85.2" cy="381.3" r="0.96" fill="#2145a6"/>
<circle cx="114.7" cy="445.3" r="0.93" fill="#2145a6"/>
<circle cx="68.2" cy="400.5" r="1.02" fill="#2145a6"/>
<circle cx="37.4" cy="433.5" r="0.85" fill="#2145a6"/>
<circle cx="40.6" cy="356.3" r="1.11" fill="#2145a6"/>
<circle cx="126.4" cy="385.5" r="0.86" fill="#2145a6"/>
<circle cx="43.8" cy="417.7" r="1.13" fill="#2145a6"/>
<circle cx="63.3" cy="433.7" r="1.14" fill="#2145a6"/>
<circle cx="67.6" cy="417.7" r="1.11" fill="#2145a6"/>
<circle cx="119.1" cy="438.4" r="0.92" fill="#2145a6"/>
<circle cx="31.3" cy="384.9" r="0.97" fill="#2145a6"/>
<circle cx="91.8" cy="405.9" r="1.02" fill="#2145a6"/>
<circle cx="129.8" cy="412.5" r="1.13" fill="#2145a6"/>
<circle cx="60.9" cy="404.5" r="1.11" fill="#2145a6"/>
<circle cx="59.9" cy="351.1" r="1.14" fill="#2145a6"/>
<circle cx="95.9" cy="370.4" r="0.94" fill="#2145a6"/>
<circle cx="24.1" cy="434.9" r="1.03" fill="#2145a6"/>
<circle cx="90.3" cy="388.2" r="1.09" fill="#2145a6"/>
<circle cx="94.5" cy="362.5" r="0.95" fill="#2145a6"/>
<circle cx="16.6" cy="423.6" r="0.94" fill="#2145a6"/>
<circle cx="47.0" cy="402.6" r="0.87" fill="#2145a6"/>
<circle cx="23.1" cy="420.1" r="0.96" fill="#2145a6"/>
<circle cx="78.3" cy="419.8" r="0.82" fill="#2145a6"/>
<circle cx="14.3" cy="416.8" r="0.96" fill="#2145a6"/>
<circle cx="78.5" cy="395.2" r="1.08" fill="#2145a6"/>
<circle cx="95.0" cy="398.7" r="0.85" fill="#2145a6"/>
<circle cx="71.9" cy="468.2" r="1.04" fill="#2145a6"/>
<circle cx="42.4" cy="410.4" r="1.01" fill="#2145a6"/>
<circle cx="127.0" cy="421.4" r="0.81" fill="#2145a6"/>
<circle cx="37.2" cy="448.0" r="0.84" fill="#2145a6"/>
<circle cx="63.9" cy="442.3" r="0.95" fill="#2145a6"/>
<circle cx="50.8" cy="418.8" r="0.90" fill="#2145a6"/>
<circle cx="33.6" cy="360.8" r="0.80" fill="#2145a6"/>
<circle cx="48.0" cy="393.6" r="1.00" fill="#2145a6"/>
<circle cx="47.8" cy="435.0" r="0.85" fill="#2145a6"/>
<circle cx="16.7" cy="432.1" r="0.84" fill="#2145a6"/>
<circle cx="127.4" cy="394.2" r="1.03" fill="#2145a6"/>
<circle cx="66.3" cy="367.3" r="1.05" fill="#2145a6"/>
<circle cx="58.1" cy="419.8" r="0.90" fill="#2145a6"/>
<circle cx="34.9" cy="440.1" r="0.95" fill="#2145a6"/>
<circle cx="124.7" cy="378.5" r="1.11" fill="#2145a6"/>
<circle cx="75.4" cy="412.5" r="1.00" fill="#2145a6"/>
<circle cx="67.6" cy="393.4" r="1.03" fill="#2145a6"/>
<circle cx="83.6" cy="390.4" r="0.93" fill="#2145a6"/>
<circle cx="53.5" cy="389.2" r="1.11" fill="#2145a6"/>
<circle cx="31.8" cy="452.4" r="0.86" fill="#2145a6"/>
<circle cx="88.3" cy="374.1" r="1.10" fill="#2145a6"/>
<circle cx="54.6" cy="357.8" r="0.99" fill="#2145a6"/>
<circle cx="93.3" cy="350.4" r="1.07" fill="#2145a6"/>
<circle cx="99.2" cy="425.9" r="1.11" fill="#2145a6"/>
<circle cx="87.2" cy="423.0" r="1.04" fill="#2145a6"/>
<circle cx="21.4" cy="441.6" r="1.10" fill="#2145a6"/>
<defs><path id="e10" d="M177.6 363.6Q185.7 359.8 185.4 350.9M177.6 363.6Q187.5 363.9 195.7 369.6M177.6 363.6Q179.4 368.7 184.6 369.9M177.6 363.6Q191.8 370.4 204.1 360.5M177.6 363.6Q182.3 359.5 188.5 358.5M177.6 363.6Q187.2 364.5 194.4 358.0M177.6 363.6Q178.1 373.0 187.0 376.0M177.6 363.6Q180.1 360.8 178.6 357.3M177.6 363.6Q180.7 361.8 183.6 363.9M177.6 363.6Q185.2 366.6 192.7 363.5M198.8 362.3Q190.3 358.6 185.4 350.9M198.8 362.3Q198.6 366.5 195.7 369.6M198.8 362.3Q201.4 363.7 202.3 366.6M198.8 362.3Q201.9 362.7 204.1 360.5M198.8 362.3Q194.3 358.7 188.5 358.5M198.8 362.3Q193.6 358.7 190.7 353.0M198.8 362.3Q195.1 361.6 194.4 358.0M198.8 362.3Q191.7 367.8 183.6 363.9M198.8 362.3Q195.8 367.7 190.2 370.3M185.4 350.9Q186.7 362.3 195.7 369.6M185.4 350.9Q185.0 355.5 188.5 358.5M185.4 350.9Q191.9 351.8 194.4 358.0M185.4 350.9Q192.2 363.1 187.0 376.0M185.4 350.9Q185.5 364.2 193.0 375.4M185.4 350.9Q190.2 347.5 195.6 350.1M195.7 369.6Q195.7 360.5 190.7 353.0M195.7 369.6Q198.8 363.3 194.4 358.0M195.7 369.6Q189.9 359.6 178.6 357.3M195.7 369.6Q187.0 365.5 178.9 370.7M195.7 369.6Q191.6 359.9 195.6 350.1M202.3 366.6Q202.0 363.2 204.1 360.5M202.3 366.6Q196.4 364.1 194.4 358.0M202.3 366.6Q196.0 373.6 187.0 376.0M202.3 366.6Q192.3 357.2 178.6 357.3M202.3 366.6Q204.6 359.9 200.6 354.1M202.3 366.6Q196.4 368.2 192.7 363.5M184.6 369.9Q196.4 369.4 204.1 360.5M184.6 369.9Q192.0 366.0 194.4 358.0M184.6 369.9Q187.5 372.3 187.0 376.0M184.6 369.9Q195.7 365.0 200.6 354.1M184.6 369.9Q190.5 369.0 192.7 363.5M184.6 369.9Q195.9 363.2 195.6 350.1M204.1 360.5Q195.9 362.6 188.5 358.5M204.1 360.5Q199.9 373.0 187.0 376.0M204.1 360.5Q200.2 358.5 200.6 354.1M204.1 360.5Q199.5 368.7 190.2 370.3M204.1 360.5Q197.1 357.5 195.6 350.1M188.5 358.5Q191.6 360.0 194.4 358.0M188.5 358.5Q192.6 367.7 187.0 376.0M188.5 358.5Q183.8 355.2 178.6 357.3M188.5 358.5Q187.4 362.4 183.6 363.9M188.5 358.5Q186.2 364.8 190.2 370.3M188.5 358.5Q187.2 367.9 193.0 375.4M190.7 353.0Q193.4 354.9 194.4 358.0M190.7 353.0Q183.7 352.5 178.6 357.3M190.7 353.0Q195.4 355.9 200.6 354.1M190.7 353.0Q188.6 359.4 183.6 363.9M190.7 353.0Q195.5 363.8 193.0 375.4M190.7 353.0Q192.3 350.1 195.6 350.1M194.4 358.0Q186.6 354.8 178.6 357.3M194.4 358.0Q188.3 362.8 190.2 370.3M194.4 358.0Q188.7 366.9 178.9 370.7M194.4 358.0Q197.1 366.9 193.0 375.4M194.4 358.0Q192.4 353.6 195.6 350.1M187.0 376.0Q187.1 369.5 183.6 363.9M187.0 376.0Q191.4 370.5 192.7 363.5M178.6 357.3Q175.1 364.1 178.9 370.7M178.6 357.3Q185.2 349.3 195.6 350.1M200.6 354.1Q194.9 363.8 183.6 363.9M183.6 363.9Q188.2 365.8 190.2 370.3M183.6 363.9Q179.3 365.9 178.9 370.7M183.6 363.9Q190.1 368.1 193.0 375.4M183.6 363.9Q188.1 361.6 192.7 363.5M190.2 370.3Q198.4 361.6 195.6 350.1M193.0 375.4Q190.2 369.5 192.7 363.5"/></defs>
<use href="#e10" fill="none" stroke="#e63a44" stroke-width="1.4" stroke-opacity="0.09"/>
<use href="#e10" fill="none" stroke="#e63a44" stroke-width="0.19"/>
<defs><path id="e11" d="M195.4 391.8Q188.7 393.1 182.8 389.4M195.4 391.8Q194.7 398.8 189.0 403.0M195.4 391.8Q197.9 396.2 202.8 397.4M195.4 391.8Q191.8 394.7 187.2 395.5M195.4 391.8Q198.3 386.1 204.7 385.7M195.4 391.8Q194.5 386.3 190.1 382.8M195.4 391.8Q187.2 391.4 182.7 398.4M195.4 391.8Q197.6 388.4 195.3 385.2M195.4 391.8Q192.2 391.9 190.3 389.3M195.4 391.8Q196.4 388.8 199.6 388.4M195.4 391.8Q199.8 388.0 200.4 382.3M182.8 389.4Q188.9 394.9 189.0 403.0M182.8 389.4Q190.2 400.1 202.8 397.4M182.8 389.4Q196.3 390.3 201.0 402.9M182.8 389.4Q193.3 384.6 204.7 385.7M182.8 389.4Q192.5 394.3 194.8 404.9M182.8 389.4Q194.2 384.2 203.8 392.2M182.8 389.4Q187.9 387.7 190.1 382.8M182.8 389.4Q181.2 393.9 182.7 398.4M182.8 389.4Q187.9 383.9 195.3 385.2M182.8 389.4Q186.6 391.2 190.3 389.3M182.8 389.4Q191.5 393.4 199.6 388.4M182.8 389.4Q192.7 388.5 200.4 382.3M189.0 403.0Q197.2 403.3 202.8 397.4M189.0 403.0Q190.2 398.8 187.2 395.5M189.0 403.0Q195.0 399.8 201.0 402.9M189.0 403.0Q191.6 404.9 194.8 404.9M189.0 403.0Q194.3 394.7 203.8 392.2M189.0 403.0Q185.7 392.7 190.1 382.8M189.0 403.0Q188.4 392.8 195.3 385.2M189.0 403.0Q190.6 398.1 195.7 397.8M189.0 403.0Q192.3 394.2 199.6 388.4M202.8 397.4Q194.8 398.4 187.2 395.5M202.8 397.4Q203.0 400.5 201.0 402.9M202.8 397.4Q201.9 394.5 203.8 392.2M202.8 397.4Q191.9 394.0 190.1 382.8M202.8 397.4Q192.6 395.1 182.7 398.4M202.8 397.4Q201.6 389.7 195.3 385.2M202.8 397.4Q199.1 395.4 195.7 397.8M202.8 397.4Q204.0 391.8 199.6 388.4M202.8 397.4Q197.6 390.5 200.4 382.3M187.2 395.5Q192.4 402.5 201.0 402.9M187.2 395.5Q198.4 394.9 204.7 385.7M187.2 395.5Q194.5 388.8 203.8 392.2M187.2 395.5Q186.9 388.7 190.1 382.8M187.2 395.5Q192.9 391.6 195.3 385.2M187.2 395.5Q192.0 394.4 195.7 397.8M187.2 395.5Q187.6 391.8 190.3 389.3M187.2 395.5Q195.0 394.8 199.6 388.4M187.2 395.5Q191.1 386.3 200.4 382.3M201.0 402.9Q207.7 395.3 204.7 385.7M201.0 402.9Q198.4 405.6 194.8 404.9M201.0 402.9Q205.8 398.4 203.8 392.2M201.0 402.9Q201.0 389.9 190.1 382.8M201.0 402.9Q190.5 406.0 182.7 398.4M201.0 402.9Q192.4 395.9 195.3 385.2M201.0 402.9Q200.0 398.6 195.7 397.8M201.0 402.9Q191.6 399.3 190.3 389.3M201.0 402.9Q202.6 395.4 199.6 388.4M201.0 402.9Q204.6 392.5 200.4 382.3M204.7 385.7Q202.3 396.6 194.8 404.9M204.7 385.7Q196.9 386.5 190.1 382.8M204.7 385.7Q196.9 397.6 182.7 398.4M204.7 385.7Q199.9 387.0 195.3 385.2M204.7 385.7Q202.9 388.6 199.6 388.4M204.7 385.7Q201.8 384.9 200.4 382.3M194.8 404.9Q201.8 400.3 203.8 392.2M194.8 404.9Q197.1 392.8 190.1 382.8M194.8 404.9Q190.4 398.6 182.7 398.4M194.8 404.9Q198.8 395.1 195.3 385.2M194.8 404.9Q197.6 401.6 195.7 397.8M194.8 404.9Q196.6 395.9 190.3 389.3M194.8 404.9Q193.4 395.5 199.6 388.4M194.8 404.9Q200.8 394.4 200.4 382.3M203.8 392.2Q194.3 398.8 182.7 398.4M203.8 392.2Q197.4 391.2 195.3 385.2M203.8 392.2Q199.0 393.9 195.7 397.8M203.8 392.2Q196.6 392.7 190.3 389.3M203.8 392.2Q202.6 389.2 199.6 388.4M203.8 392.2Q203.8 386.6 200.4 382.3M190.1 382.8Q189.6 392.1 182.7 398.4M190.1 382.8Q192.2 384.9 195.3 385.2M190.1 382.8Q191.0 391.0 195.7 397.8M190.1 382.8Q191.1 386.0 190.3 389.3M190.1 382.8Q195.3 384.7 200.4 382.3M182.7 398.4Q186.6 389.5 195.3 385.2M182.7 398.4Q189.3 400.6 195.7 397.8M182.7 398.4Q187.6 394.8 190.3 389.3M182.7 398.4Q192.5 395.6 199.6 388.4M182.7 398.4Q187.9 386.3 200.4 382.3M195.3 385.2Q199.5 391.3 195.7 397.8M195.3 385.2Q191.6 385.8 190.3 389.3M195.3 385.2Q197.9 386.0 199.6 388.4M195.3 385.2Q198.8 385.4 200.4 382.3M195.7 397.8Q195.4 392.2 199.6 388.4M195.7 397.8Q201.1 390.9 200.4 382.3M190.3 389.3Q195.1 391.0 199.6 388.4M199.6 388.4Q198.4 385.1 200.4 382.3"/></defs>
<use href="#e11" fill="none" stroke="#e63a44" stroke-width="1.4" stroke-opacity="0.09"/>
<use href="#e11" fill="none" stroke="#e63a44" stroke-width="0.19"/>
<defs><path id="e12" d="M227.8 356.3Q222.2 355.7 219.4 350.8M227.8 356.3Q223.0 359.1 223.3 364.6M227.8 356.3Q225.4 354.0 226.1 350.7M227.8 356.3Q219.9 357.2 217.0 364.6M227.8 356.3Q220.6 358.5 214.7 353.7M227.8 356.3Q230.3 359.4 229.4 363.2M227.8 356.3Q230.6 356.8 232.6 358.8M219.4 350.8Q216.5 351.3 214.7 353.7M219.4 350.8Q223.4 359.0 232.6 358.8M223.3 364.6Q221.5 360.8 217.9 358.7M223.3 364.6Q223.0 357.3 226.1 350.7M223.3 364.6Q220.1 363.6 217.0 364.6M223.3 364.6Q222.3 356.6 214.7 353.7M223.3 364.6Q226.6 365.1 229.4 363.2M217.9 358.7Q223.8 356.6 226.1 350.7M217.9 358.7Q216.1 361.4 217.0 364.6M217.9 358.7Q215.2 356.9 214.7 353.7M217.9 358.7Q223.0 362.6 229.4 363.2M226.1 350.7Q217.4 354.9 217.0 364.6M226.1 350.7Q231.1 353.4 232.6 358.8M217.0 364.6Q214.5 359.4 214.7 353.7M217.0 364.6Q223.6 367.0 229.4 363.2M217.0 364.6Q226.2 365.3 232.6 358.8M214.7 353.7Q225.2 353.6 229.4 363.2M229.4 363.2Q232.4 362.0 232.6 358.8"/></defs>
<use href="#e12" fill="none" stroke="#e63a44" stroke-width="1.4" stroke-opacity="0.09"/>
<use href="#e12" fill="none" stroke="#e63a44" stroke-width="0.19"/>
<defs><path id="e13" d="M254.9 369.8Q246.5 367.4 245.4 358.7M254.9 369.8Q249.8 375.2 242.8 372.8M254.9 369.8Q246.0 370.8 240.9 363.5M254.9 369.8Q254.4 365.3 252.0 361.5M254.9 369.8Q250.9 371.0 249.8 375.0M245.4 358.7Q246.0 363.6 249.8 366.6M245.4 358.7Q249.1 359.1 252.0 361.5M245.4 358.7Q243.6 367.9 249.8 375.0M242.8 372.8Q243.9 367.7 240.9 363.5M242.8 372.8Q245.5 368.7 249.8 366.6M240.9 363.5Q244.7 366.8 249.8 366.6M240.9 363.5Q245.9 359.7 252.0 361.5M240.9 363.5Q242.3 371.6 249.8 375.0M249.8 366.6Q252.2 364.6 252.0 361.5M249.8 366.6Q248.1 370.8 249.8 375.0M252.0 361.5Q246.3 367.5 249.8 375.0"/></defs>
<use href="#e13" fill="none" stroke="#e63a44" stroke-width="1.4" stroke-opacity="0.09"/>
<use href="#e13" fill="none" stroke="#e63a44" stroke-width="0.19"/>
<defs><path id="e14" d="M248.6 388.9Q247.4 386.2 248.0 383.4M248.6 388.9Q255.9 389.4 261.3 384.4M248.6 388.9Q254.9 388.6 259.0 393.4M248.6 388.9Q253.9 385.8 256.9 380.4M248.6 388.9Q252.1 386.8 255.9 388.1M248.6 388.9Q249.8 392.6 253.5 393.8M248.0 383.4Q256.9 384.6 259.0 393.4M248.0 383.4Q257.4 382.5 263.9 389.4M261.3 384.4Q261.5 389.2 259.0 393.4M261.3 384.4Q260.1 381.3 256.9 380.4M261.3 384.4Q257.7 385.0 255.9 388.1M261.3 384.4Q256.1 388.1 253.5 393.8M259.0 393.4Q261.5 386.3 256.9 380.4M259.0 393.4Q256.7 391.2 255.9 388.1M259.0 393.4Q256.4 394.9 253.5 393.8M259.0 393.4Q260.5 390.3 263.9 389.4M256.9 380.4Q252.8 386.5 253.5 393.8M256.9 380.4Q262.1 383.6 263.9 389.4M255.9 388.1Q252.8 390.2 253.5 393.8M255.9 388.1Q260.2 386.8 263.9 389.4M253.5 393.8Q257.4 388.7 263.9 389.4"/></defs>
<use href="#e14" fill="none" stroke="#e63a44" stroke-width="1.4" stroke-opacity="0.09"/>
<use href="#e14" fill="none" stroke="#e63a44" stroke-width="0.19"/>
<defs><path id="e15" d="M255.9 409.9Q259.5 405.8 265.0 405.0M255.9 409.9Q257.6 402.4 264.4 398.9M255.9 409.9Q259.7 409.9 262.5 412.5M255.9 409.9Q255.6 405.0 260.0 402.8M255.9 409.9Q253.6 404.3 256.3 398.8M255.9 409.9Q263.1 409.3 269.7 412.1M255.9 409.9Q254.2 407.5 254.9 404.8M255.9 409.9Q262.7 403.7 271.4 406.8M255.9 409.9Q260.1 401.7 269.3 401.9M265.0 405.0Q262.7 402.1 264.4 398.9M265.0 405.0Q261.6 408.1 262.5 412.5M265.0 405.0Q261.9 405.2 260.0 402.8M265.0 405.0Q258.7 404.6 256.3 398.8M265.0 405.0Q269.6 407.0 269.7 412.1M265.0 405.0Q259.9 408.2 254.9 404.8M265.0 405.0Q268.6 404.5 271.4 406.8M265.0 405.0Q258.7 408.1 257.5 415.0M265.0 405.0Q267.5 404.0 269.3 401.9M264.4 398.9Q266.6 406.2 262.5 412.5M264.4 398.9Q262.9 401.6 260.0 402.8M264.4 398.9Q260.4 396.8 256.3 398.8M264.4 398.9Q263.8 406.8 269.7 412.1M264.4 398.9Q258.9 400.5 254.9 404.8M264.4 398.9Q267.2 399.8 269.3 401.9M262.5 412.5Q259.7 408.1 260.0 402.8M262.5 412.5Q256.9 406.8 256.3 398.8M262.5 412.5Q266.2 413.7 269.7 412.1M262.5 412.5Q259.4 412.7 257.5 415.0M262.5 412.5Q269.4 409.5 269.3 401.9M260.0 402.8Q257.4 401.5 256.3 398.8M260.0 402.8Q266.4 405.8 269.7 412.1M260.0 402.8Q257.9 404.8 254.9 404.8M260.0 402.8Q261.3 409.4 257.5 415.0M260.0 402.8Q264.4 400.3 269.3 401.9M256.3 398.8Q267.4 401.0 269.7 412.1M256.3 398.8Q254.2 401.5 254.9 404.8M256.3 398.8Q266.1 398.5 271.4 406.8M256.3 398.8Q261.9 406.5 257.5 415.0M269.7 412.1Q263.8 405.3 254.9 404.8M269.7 412.1Q271.2 409.6 271.4 406.8M269.7 412.1Q264.3 416.6 257.5 415.0M269.7 412.1Q272.8 406.9 269.3 401.9M254.9 404.8Q263.4 403.7 271.4 406.8M254.9 404.8Q258.6 409.3 257.5 415.0M254.9 404.8Q262.9 407.4 269.3 401.9M271.4 406.8Q271.7 403.7 269.3 401.9M257.5 415.0Q266.7 411.4 269.3 401.9"/></defs>
<use href="#e15" fill="none" stroke="#e63a44" stroke-width="1.4" stroke-opacity="0.09"/>
<use href="#e15" fill="none" stroke="#e63a44" stroke-width="0.19"/>
<defs><path id="e16" d="M250.3 419.5Q238.8 415.9 227.2 419.6M250.3 419.5Q240.0 411.4 226.9 409.7M250.3 419.5Q242.1 418.4 235.3 423.2M250.3 419.5Q247.2 420.6 244.0 419.6M250.3 419.5Q242.6 412.6 232.4 413.0M250.3 419.5Q244.8 409.5 235.0 403.9M241.5 426.1Q236.8 418.6 237.0 409.7M241.5 426.1Q231.5 420.4 226.9 409.7M241.5 426.1Q237.8 418.0 243.0 410.6M241.5 426.1Q238.9 423.7 235.3 423.2M241.5 426.1Q240.8 422.1 244.0 419.6M241.5 426.1Q236.4 429.3 230.9 427.0M227.2 419.6Q230.2 414.6 226.9 409.7M227.2 419.6Q237.1 414.5 241.8 404.5M227.2 419.6Q227.6 410.0 235.0 403.9M237.0 409.7Q232.0 408.0 226.9 409.7M237.0 409.7Q240.8 408.4 241.8 404.5M237.0 409.7Q240.2 408.6 243.0 410.6M237.0 409.7Q238.0 416.7 235.3 423.2M237.0 409.7Q243.3 412.6 244.0 419.6M237.0 409.7Q233.9 410.3 232.4 413.0M237.0 409.7Q239.1 419.2 247.1 424.9M226.9 409.7Q235.7 410.9 241.8 404.5M226.9 409.7Q235.0 414.1 235.3 423.2M241.8 404.5Q243.1 407.4 243.0 410.6M241.8 404.5Q235.8 412.9 235.3 423.2M241.8 404.5Q237.8 412.8 244.0 419.6M241.8 404.5Q238.6 402.0 235.0 403.9M241.8 404.5Q242.6 410.5 247.8 413.6M241.8 404.5Q251.2 413.0 247.1 424.9M243.0 410.6Q237.4 415.8 235.3 423.2M243.0 410.6Q247.1 417.2 247.1 424.9M243.0 410.6Q241.5 422.2 230.9 427.0M235.3 423.2Q239.6 413.5 235.0 403.9M244.0 419.6Q244.1 423.1 247.1 424.9M232.4 413.0Q235.1 408.9 235.0 403.9M235.0 403.9Q237.9 416.3 230.9 427.0M247.8 413.6Q248.8 419.4 247.1 424.9"/></defs>
<use href="#e16" fill="none" stroke="#e63a44" stroke-width="1.4" stroke-opacity="0.09"/>
<use href="#e16" fill="none" stroke="#e63a44" stroke-width="0.19"/>
<defs><path id="e17" d="M243.1 432.8Q246.5 429.4 251.1 430.7M243.1 432.8Q249.3 424.2 259.6 426.7M243.1 432.8Q252.8 426.8 263.2 431.3M243.1 432.8Q250.9 436.8 255.6 444.2M243.1 432.8Q244.5 437.8 248.3 441.2M243.1 432.8Q249.6 430.9 252.6 424.9M243.1 432.8Q241.9 436.0 243.4 439.1M251.1 430.7Q254.4 426.7 259.6 426.7M251.1 430.7Q257.3 428.0 263.2 431.3M251.1 430.7Q259.5 432.0 262.0 440.1M251.1 430.7Q251.2 435.3 254.1 439.0M251.1 430.7Q257.4 436.1 255.6 444.2M251.1 430.7Q246.8 435.2 248.3 441.2M251.1 430.7Q253.6 428.2 252.6 424.9M251.1 430.7Q255.1 431.3 258.1 433.9M251.1 430.7Q244.6 432.4 243.4 439.1M251.1 430.7Q248.8 432.7 248.0 435.7M259.6 426.7Q260.3 429.9 263.2 431.3M259.6 426.7Q257.8 433.9 262.0 440.1M259.6 426.7Q263.3 436.7 255.6 444.2M259.6 426.7Q256.6 423.8 252.6 424.9M259.6 426.7Q257.9 430.1 258.1 433.9M259.6 426.7Q249.9 430.9 243.4 439.1M259.6 426.7Q256.4 434.5 248.0 435.7M263.2 431.3Q264.7 436.0 262.0 440.1M263.2 431.3Q259.9 436.7 254.1 439.0M263.2 431.3Q261.2 438.7 255.6 444.2M263.2 431.3Q255.8 431.6 252.6 424.9M263.2 431.3Q260.0 431.3 258.1 433.9M263.2 431.3Q255.8 441.6 243.4 439.1M263.2 431.3Q256.6 437.0 248.0 435.7M262.0 440.1Q257.7 441.5 254.1 439.0M262.0 440.1Q259.3 442.9 255.6 444.2M262.0 440.1Q254.9 437.4 248.3 441.2M262.0 440.1Q260.3 430.7 252.6 424.9M262.0 440.1Q262.1 435.8 258.1 433.9M262.0 440.1Q253.0 434.3 243.4 439.1M262.0 440.1Q254.0 441.2 248.0 435.7M254.1 439.0Q255.9 441.2 255.6 444.2M254.1 439.0Q250.4 438.1 248.3 441.2M254.1 439.0Q251.1 432.1 252.6 424.9M254.1 439.0Q255.3 435.8 258.1 433.9M254.1 439.0Q248.7 437.5 243.4 439.1M254.1 439.0Q250.5 438.3 248.0 435.7M255.6 444.2Q252.5 441.5 248.3 441.2M255.6 444.2Q248.1 445.1 243.4 439.1M248.3 441.2Q253.3 433.8 252.6 424.9M248.3 441.2Q252.0 435.8 258.1 433.9M248.3 441.2Q249.0 438.4 248.0 435.7M252.6 424.9Q252.5 431.2 258.1 433.9M252.6 424.9Q250.2 433.4 243.4 439.1M252.6 424.9Q248.7 429.6 248.0 435.7M258.1 433.9Q251.8 439.5 243.4 439.1M258.1 433.9Q252.6 431.9 248.0 435.7"/></defs>
<use href="#e17" fill="none" stroke="#e63a44" stroke-width="1.4" stroke-opacity="0.09"/>
<use href="#e17" fill="none" stroke="#e63a44" stroke-width="0.19"/>
<defs><path id="e18" d="M230.7 447.4Q229.9 441.2 224.0 439.1M230.7 447.4Q223.4 441.7 214.4 443.6M230.7 447.4Q223.7 452.9 215.1 450.5M230.7 447.4Q231.7 444.5 229.7 442.3M230.7 447.4Q224.9 446.8 220.4 450.5M230.7 447.4Q221.2 443.4 220.4 433.1M230.7 447.4Q225.9 442.2 228.0 435.4M230.7 447.4Q226.9 454.8 218.6 455.5M230.7 447.4Q220.2 441.8 210.1 448.1M221.5 444.6Q216.2 442.9 214.4 437.8M221.5 444.6Q217.6 446.2 214.4 443.6M221.5 444.6Q222.1 450.7 227.6 453.5M221.5 444.6Q226.3 445.9 229.7 442.3M221.5 444.6Q219.6 447.3 220.4 450.5M221.5 444.6Q222.9 438.7 220.4 433.1M221.5 444.6Q223.2 438.9 228.0 435.4M221.5 444.6Q222.6 450.7 218.6 455.5M221.5 444.6Q216.8 449.6 210.1 448.1M214.4 437.8Q213.5 440.7 214.4 443.6M214.4 437.8Q216.5 444.0 215.1 450.5M214.4 437.8Q221.3 442.4 229.7 442.3M214.4 437.8Q219.9 442.9 220.4 450.5M214.4 437.8Q216.5 434.3 220.4 433.1M214.4 437.8Q222.2 445.3 218.6 455.5M214.4 437.8Q210.0 442.0 210.1 448.1M224.0 439.1Q218.5 440.0 214.4 443.6M224.0 439.1Q217.6 443.3 215.1 450.5M224.0 439.1Q224.0 446.7 227.6 453.5M224.0 439.1Q220.5 437.1 220.4 433.1M224.0 439.1Q225.2 436.4 228.0 435.4M214.4 443.6Q213.4 447.2 215.1 450.5M214.4 443.6Q218.4 452.0 227.6 453.5M214.4 443.6Q221.7 439.5 229.7 442.3M214.4 443.6Q215.4 448.8 220.4 450.5M214.4 443.6Q213.9 436.3 220.4 433.1M214.4 443.6Q223.1 442.8 228.0 435.4M214.4 443.6Q219.1 448.6 218.6 455.5M214.4 443.6Q213.3 446.8 210.1 448.1M215.1 450.5Q220.4 456.1 227.6 453.5M215.1 450.5Q220.7 443.3 229.7 442.3M215.1 450.5Q217.8 452.2 220.4 450.5M215.1 450.5Q221.7 443.0 220.4 433.1M215.1 450.5Q226.6 447.3 228.0 435.4M227.6 453.5Q232.4 448.6 229.7 442.3M227.6 453.5Q223.2 453.9 220.4 450.5M227.6 453.5Q228.8 441.6 220.4 433.1M227.6 453.5Q222.5 444.4 228.0 435.4M227.6 453.5Q220.2 446.4 210.1 448.1M229.7 442.3Q222.2 440.6 220.4 433.1M229.7 442.3Q229.7 438.6 228.0 435.4M229.7 442.3Q221.3 446.5 218.6 455.5M229.7 442.3Q218.4 440.0 210.1 448.1M220.4 450.5Q223.3 441.8 220.4 433.1M220.4 450.5Q227.3 444.5 228.0 435.4M220.4 450.5Q220.5 453.4 218.6 455.5M220.4 450.5Q214.7 451.6 210.1 448.1M220.4 433.1Q223.4 436.7 228.0 435.4M220.4 433.1Q226.6 444.9 218.6 455.5M228.0 435.4Q217.7 442.9 218.6 455.5M228.0 435.4Q222.3 446.3 210.1 448.1M218.6 455.5Q212.7 453.8 210.1 448.1"/></defs>
<use href="#e18" fill="none" stroke="#e63a44" stroke-width="1.4" stroke-opacity="0.09"/>
<use href="#e18" fill="none" stroke="#e63a44" stroke-width="0.19"/>
<defs><path id="e19" d="M190.8 461.3Q198.7 455.7 201.9 446.5M190.8 461.3Q197.1 454.5 193.4 446.0M190.8 461.3Q183.7 452.5 187.7 441.9M190.8 461.3Q185.6 455.4 184.4 447.7M190.8 461.3Q197.0 458.6 200.5 452.8M190.8 461.3Q194.3 459.4 197.9 461.0M190.8 461.3Q190.4 457.0 187.6 453.8M190.8 461.3Q188.2 459.2 185.1 460.4M190.8 461.3Q187.5 450.2 194.2 440.8M190.8 461.3Q192.6 450.2 199.4 441.2M201.9 446.5Q197.8 444.3 193.4 446.0M201.9 446.5Q193.9 446.9 187.7 441.9M201.9 446.5Q194.6 456.7 182.1 455.6M201.9 446.5Q193.0 444.3 184.4 447.7M201.9 446.5Q199.9 449.4 200.5 452.8M201.9 446.5Q195.6 452.5 197.9 461.0M201.9 446.5Q195.7 451.9 187.6 453.8M201.9 446.5Q199.9 441.2 194.2 440.8M201.9 446.5Q202.4 443.0 199.4 441.2M193.6 453.5Q196.0 449.7 193.4 446.0M193.6 453.5Q188.8 448.6 187.7 441.9M193.6 453.5Q187.3 451.5 182.1 455.6M193.6 453.5Q197.3 455.5 200.5 452.8M193.6 453.5Q196.9 456.6 197.9 461.0M193.6 453.5Q190.6 454.5 187.6 453.8M193.6 453.5Q190.4 447.0 194.2 440.8M193.6 453.5Q192.3 445.4 199.4 441.2M193.4 446.0Q189.1 447.9 184.4 447.7M193.4 446.0Q197.7 452.8 197.9 461.0M193.4 446.0Q192.3 443.1 194.2 440.8M193.4 446.0Q195.5 442.5 199.4 441.2M187.7 441.9Q187.2 445.4 184.4 447.7M187.7 441.9Q198.2 448.6 197.9 461.0M187.7 441.9Q183.9 447.8 187.6 453.8M187.7 441.9Q192.6 452.0 185.1 460.4M187.7 441.9Q191.2 442.9 194.2 440.8M187.7 441.9Q193.3 438.4 199.4 441.2M182.1 455.6Q181.8 451.2 184.4 447.7M182.1 455.6Q190.7 450.5 200.5 452.8M182.1 455.6Q188.8 461.7 197.9 461.0M182.1 455.6Q185.5 456.5 187.6 453.8M182.1 455.6Q184.8 457.3 185.1 460.4M182.1 455.6Q192.2 451.5 194.2 440.8M182.1 455.6Q194.1 452.5 199.4 441.2M184.4 447.7Q191.6 453.0 200.5 452.8M184.4 447.7Q188.4 457.1 197.9 461.0M184.4 447.7Q191.0 446.6 194.2 440.8M184.4 447.7Q190.0 439.9 199.4 441.2M200.5 452.8Q201.1 457.5 197.9 461.0M200.5 452.8Q194.2 455.8 187.6 453.8M200.5 452.8Q195.3 461.7 185.1 460.4M200.5 452.8Q198.9 445.9 194.2 440.8M197.9 461.0Q193.9 455.7 187.6 453.8M197.9 461.0Q191.4 463.9 185.1 460.4M197.9 461.0Q195.2 450.8 199.4 441.2M187.6 453.8Q188.0 457.7 185.1 460.4M187.6 453.8Q187.2 445.4 194.2 440.8M187.6 453.8Q189.6 443.8 199.4 441.2M185.1 460.4Q195.7 453.3 199.4 441.2M194.2 440.8Q196.7 442.4 199.4 441.2"/></defs>
<use href="#e19" fill="none" stroke="#e63a44" stroke-width="1.4" stroke-opacity="0.09"/>
<use href="#e19" fill="none" stroke="#e63a44" stroke-width="0.19"/>
<defs><path id="e20" d="M169.6 430.2Q165.0 429.5 162.5 433.4M169.6 430.2Q172.7 438.7 167.0 445.8M169.6 430.2Q167.5 427.7 164.2 427.2M169.6 430.2Q166.7 437.4 160.5 442.2M169.6 430.2Q176.2 434.3 174.9 442.0M169.6 430.2Q164.5 427.0 158.9 429.0M162.5 433.4Q160.6 435.9 157.5 435.9M162.5 433.4Q162.2 430.0 164.2 427.2M162.5 433.4Q163.4 438.2 160.5 442.2M162.5 433.4Q168.6 436.7 175.2 434.5M162.5 433.4Q170.6 434.9 174.9 442.0M162.5 433.4Q159.8 431.9 158.9 429.0M157.5 435.9Q159.6 443.4 167.0 445.8M157.5 435.9Q160.6 438.3 160.5 442.2M157.5 435.9Q166.6 437.9 175.2 434.5M157.5 435.9Q165.3 441.6 174.9 442.0M157.5 435.9Q156.6 432.1 158.9 429.0M167.0 445.8Q169.1 441.8 168.4 437.4M167.0 445.8Q173.6 441.9 175.2 434.5M167.0 445.8Q168.6 434.7 158.9 429.0M168.4 437.4Q171.0 434.1 175.2 434.5M168.4 437.4Q170.4 441.5 174.9 442.0M164.2 427.2Q171.3 428.5 175.2 434.5M164.2 427.2Q161.3 427.4 158.9 429.0M160.5 442.2Q167.8 445.3 174.9 442.0"/></defs>
<use href="#e20" fill="none" stroke="#e63a44" stroke-width="1.4" stroke-opacity="0.09"/>
<use href="#e20" fill="none" stroke="#e63a44" stroke-width="0.19"/>
<defs><path id="e21" d="M181.2 421.2Q176.9 423.4 176.4 428.2M181.2 421.2Q184.5 418.7 186.0 414.9M181.2 421.2Q174.1 418.3 171.4 411.1M181.2 421.2Q174.1 420.7 168.0 416.9M181.2 421.2Q183.6 423.2 183.6 426.3M181.2 421.2Q183.9 419.5 186.7 421.2M181.2 421.2Q174.0 417.4 167.6 422.4M175.0 416.9Q177.8 422.3 176.4 428.2M175.0 416.9Q178.3 414.8 179.8 411.3M175.0 416.9Q180.8 417.9 186.0 414.9M175.0 416.9Q174.6 413.1 171.4 411.1M175.0 416.9Q176.0 420.6 173.2 423.2M175.0 416.9Q180.1 420.9 186.7 421.2M175.0 416.9Q172.9 421.8 167.6 422.4M176.4 428.2Q172.5 418.6 179.8 411.3M176.4 428.2Q177.4 418.8 186.0 414.9M176.4 428.2Q169.5 420.9 171.4 411.1M176.4 428.2Q174.0 426.3 173.2 423.2M176.4 428.2Q168.4 425.4 168.0 416.9M176.4 428.2Q180.4 428.7 183.6 426.3M176.4 428.2Q182.6 426.2 186.7 421.2M176.4 428.2Q170.7 427.2 167.6 422.4M179.8 411.3Q175.6 413.3 171.4 411.1M179.8 411.3Q180.0 419.2 173.2 423.2M179.8 411.3Q172.6 411.5 168.0 416.9M179.8 411.3Q177.2 420.6 167.6 422.4M186.0 414.9Q176.6 412.8 168.0 416.9M186.0 414.9Q188.0 421.3 183.6 426.3M186.0 414.9Q188.4 417.8 186.7 421.2M186.0 414.9Q178.2 422.1 167.6 422.4M171.4 411.1Q175.5 416.7 173.2 423.2M171.4 411.1Q171.1 414.8 168.0 416.9M171.4 411.1Q175.6 420.2 183.6 426.3M171.4 411.1Q181.1 413.0 186.7 421.2M173.2 423.2Q172.2 418.8 168.0 416.9M173.2 423.2Q178.8 423.4 183.6 426.3M173.2 423.2Q180.2 424.3 186.7 421.2M173.2 423.2Q170.5 422.0 167.6 422.4M168.0 416.9Q178.0 418.0 183.6 426.3M168.0 416.9Q176.7 421.6 186.7 421.2M168.0 416.9Q169.6 419.8 167.6 422.4M183.6 426.3Q183.6 422.9 186.7 421.2M183.6 426.3Q176.6 420.2 167.6 422.4M186.7 421.2Q177.4 426.6 167.6 422.4"/></defs>
<use href="#e21" fill="none" stroke="#e63a44" stroke-width="1.4" stroke-opacity="0.09"/>
<use href="#e21" fill="none" stroke="#e63a44" stroke-width="0.19"/>
<defs><path id="e22" d="M166.0 400.6Q159.4 397.0 158.4 389.6M166.0 400.6Q162.3 401.2 160.1 404.3M166.0 400.6Q162.2 400.3 159.6 397.5M166.0 400.6Q160.8 393.8 152.7 390.9M158.4 389.6Q163.1 396.5 160.1 404.3M158.4 389.6Q157.2 393.7 153.8 396.5M158.4 389.6Q161.5 389.7 163.8 391.8M158.4 389.6Q157.4 393.8 159.6 397.5M158.4 389.6Q155.2 388.8 152.7 390.9M160.1 404.3Q155.8 401.3 153.8 396.5M160.1 404.3Q157.8 396.8 163.8 391.8M160.1 404.3Q162.1 400.7 159.6 397.5M153.8 396.5Q159.5 395.7 163.8 391.8M153.8 396.5Q156.9 396.2 159.6 397.5M153.8 396.5Q152.4 393.8 152.7 390.9M163.8 391.8Q161.0 400.1 153.1 403.9M163.8 391.8Q160.2 393.5 159.6 397.5M163.8 391.8Q158.5 388.8 152.7 390.9M153.1 403.9Q155.2 399.5 159.6 397.5"/></defs>
<use href="#e22" fill="none" stroke="#e63a44" stroke-width="1.4" stroke-opacity="0.09"/>
<use href="#e22" fill="none" stroke="#e63a44" stroke-width="0.19"/>
<defs><path id="e23" d="M165.9 380.3Q169.0 382.1 172.2 380.3M165.9 380.3Q170.0 378.2 172.3 374.3M165.9 380.3Q169.3 383.3 167.9 387.6M165.9 380.3Q163.5 382.2 162.7 385.2M165.9 380.3Q171.6 380.4 174.1 385.5M172.2 380.3Q171.2 377.3 172.3 374.3M172.2 380.3Q166.2 378.3 162.8 373.2M172.2 380.3Q172.0 385.1 167.9 387.6M172.2 380.3Q163.9 380.3 157.1 375.6M172.2 380.3Q168.9 385.5 162.7 385.2M156.8 381.9Q165.6 380.3 172.3 374.3M156.8 381.9Q161.5 378.7 162.8 373.2M156.8 381.9Q160.5 382.2 162.7 385.2M156.8 381.9Q166.4 379.0 174.1 385.5M172.3 374.3Q174.5 382.4 167.9 387.6M172.3 374.3Q164.3 370.7 157.1 375.6M172.3 374.3Q170.2 382.1 162.7 385.2M162.8 373.2Q162.2 381.5 167.9 387.6M162.8 373.2Q160.6 375.8 157.1 375.6M162.8 373.2Q166.9 380.8 174.1 385.5M167.9 387.6Q158.6 385.1 157.1 375.6M167.9 387.6Q164.6 388.1 162.7 385.2M167.9 387.6Q171.5 388.0 174.1 385.5M157.1 375.6Q168.4 375.7 174.1 385.5M162.7 385.2Q168.5 383.1 174.1 385.5"/></defs>
<use href="#e23" fill="none" stroke="#e63a44" stroke-width="1.4" stroke-opacity="0.09"/>
<use href="#e23" fill="none" stroke="#e63a44" stroke-width="0.19"/>
<defs><path id="e24" d="M219.4 381.1Q229.1 387.6 239.6 382.6M219.4 381.1Q226.0 384.3 230.0 390.5M219.4 381.1Q223.1 384.2 227.9 384.0M219.4 381.1Q224.4 374.0 233.0 373.3M219.4 381.1Q223.1 379.6 224.0 375.7M219.4 381.1Q226.5 384.9 233.6 381.3M219.4 381.1Q227.5 374.1 237.9 376.2M239.6 382.6Q234.1 386.1 227.9 384.0M239.6 382.6Q229.7 383.9 224.0 375.7M239.6 382.6Q236.3 384.4 235.3 388.1M230.0 390.5Q227.2 387.2 223.0 388.0M230.0 390.5Q224.4 384.1 224.0 375.7M230.0 390.5Q230.5 381.4 237.9 376.2M223.0 388.0Q226.8 387.6 227.9 384.0M223.0 388.0Q224.0 377.9 233.0 373.3M223.0 388.0Q221.1 381.7 224.0 375.7M223.0 388.0Q233.1 385.4 237.9 376.2M223.0 388.0Q229.2 386.0 235.3 388.1M227.9 384.0Q232.0 379.4 233.0 373.3M227.9 384.0Q223.2 381.1 224.0 375.7M227.9 384.0Q235.2 383.1 237.9 376.2M233.0 373.3Q229.2 377.2 224.0 375.7M233.0 373.3Q235.3 377.1 233.6 381.3M233.0 373.3Q236.0 373.9 237.9 376.2M233.0 373.3Q231.9 381.0 235.3 388.1M224.0 375.7Q227.2 381.2 233.6 381.3M224.0 375.7Q230.9 378.3 237.9 376.2M233.6 381.3Q233.6 374.4 228.2 370.2M233.6 381.3Q234.3 377.5 237.9 376.2M228.2 370.2Q226.7 381.2 235.3 388.1M237.9 376.2Q240.0 382.9 235.3 388.1"/></defs>
<use href="#e24" fill="none" stroke="#e63a44" stroke-width="1.4" stroke-opacity="0.09"/>
<use href="#e24" fill="none" stroke="#e63a44" stroke-width="0.19"/>
<defs><path id="e25" d="M238.0 416.4Q235.6 413.3 237.0 409.7M238.0 416.4Q241.5 414.4 243.0 410.6M238.0 416.4Q234.3 416.3 232.4 413.0M238.0 416.4Q238.8 409.6 235.0 403.9M238.0 416.4Q243.6 417.3 247.8 413.6M238.0 416.4Q231.6 419.8 230.9 427.0M177.6 363.6Q176.7 369.9 172.3 374.3M177.6 363.6Q173.7 368.1 167.8 369.0M177.6 363.6Q174.8 365.0 173.8 368.0M198.8 362.3Q202.6 367.8 200.7 374.2M198.8 362.3Q205.3 364.2 207.0 370.9M195.7 369.6Q198.9 371.1 200.7 374.2M202.3 366.6Q206.9 366.3 210.6 363.4M204.1 360.5Q208.0 360.6 210.6 363.4M187.0 376.0Q189.8 378.9 190.1 382.8M187.0 376.0Q192.7 379.2 195.3 385.2M178.6 357.3Q172.2 356.4 168.2 361.4M200.6 354.1Q204.1 355.1 207.6 353.8M190.2 370.3Q196.1 370.3 200.7 374.2M178.9 370.7Q182.1 376.0 179.3 381.6M178.9 370.7Q175.7 370.6 173.8 368.0M193.0 375.4Q189.5 378.2 190.1 382.8M193.0 375.4Q198.5 376.9 200.4 382.3M193.0 375.4Q197.0 376.2 200.7 374.2M192.7 363.5Q194.8 370.2 200.7 374.2M195.6 350.1Q199.5 349.9 201.3 346.3M182.8 389.4Q179.3 385.6 174.1 385.5M182.8 389.4Q180.7 395.1 175.0 397.0M182.8 389.4Q175.2 388.9 169.5 394.0M189.0 403.0Q186.0 408.9 179.8 411.3M189.0 403.0Q189.6 406.3 187.8 409.2M189.0 403.0Q184.5 402.3 181.2 405.3M202.8 397.4Q205.2 402.8 204.0 408.5M202.8 397.4Q207.0 391.9 213.4 389.6M201.0 402.9Q207.2 401.2 209.8 395.3M204.7 385.7Q209.8 386.0 213.4 389.6M204.7 385.7Q207.1 383.3 210.5 383.8M194.8 404.9Q193.8 408.7 196.3 411.8M194.8 404.9Q192.0 408.2 187.8 409.2M203.8 392.2Q204.4 398.3 209.0 402.3M203.8 392.2Q209.5 396.9 216.6 394.9M203.8 392.2Q207.3 392.8 209.8 395.3M203.8 392.2Q208.7 389.2 210.5 383.8M190.1 382.8Q184.9 380.3 179.3 381.6M182.7 398.4Q179.8 402.7 174.7 403.8M182.7 398.4Q183.1 402.1 181.2 405.3M195.7 397.8Q197.8 404.7 204.0 408.5M199.6 388.4Q206.8 385.3 213.4 389.6M199.6 388.4Q203.9 383.2 210.5 383.8M200.4 382.3Q206.2 381.2 209.6 376.3M200.4 382.3Q205.2 384.8 210.5 383.8M227.8 356.3Q222.0 352.1 220.8 345.2M227.8 356.3Q231.1 354.8 232.2 351.4M219.4 350.8Q215.2 350.9 212.3 348.0M223.3 364.6Q218.3 366.8 215.6 371.5M217.9 358.7Q213.0 359.1 210.6 363.4M226.1 350.7Q232.5 355.1 239.4 351.7M226.1 350.7Q222.2 349.2 220.8 345.2M226.1 350.7Q229.0 352.1 232.2 351.4M229.4 363.2Q229.0 370.5 224.0 375.7M229.4 363.2Q227.3 366.5 228.2 370.2M229.4 363.2Q234.6 364.6 237.5 369.1M254.9 369.8Q253.0 375.7 256.9 380.4M254.9 369.8Q257.8 374.8 263.6 374.9M254.9 369.8Q257.8 368.8 260.7 369.7M242.8 372.8Q240.7 379.8 233.6 381.3M242.8 372.8Q239.8 373.7 237.9 376.2M242.8 372.8Q239.0 372.5 237.5 369.1M240.9 363.5Q237.3 358.0 239.4 351.7M249.8 375.0Q252.2 382.2 248.6 388.9M249.8 375.0Q243.6 373.0 237.9 376.2M249.8 375.0Q256.3 374.5 260.7 369.7M248.6 388.9Q255.2 391.8 256.3 398.8M248.6 388.9Q245.3 384.1 239.6 382.6M248.6 388.9Q242.2 388.6 237.8 393.3M248.6 388.9Q245.2 386.8 241.4 388.3M248.0 383.4Q243.3 384.0 241.4 388.3M261.3 384.4Q264.9 384.5 267.0 381.6M256.9 380.4Q262.3 378.2 267.0 381.6M255.9 388.1Q252.5 392.9 247.1 394.9M253.5 393.8Q252.8 399.0 248.8 402.1M263.9 389.4Q265.7 394.0 264.4 398.9M263.9 389.4Q264.4 392.7 267.6 393.9M265.0 405.0Q268.1 399.8 267.6 393.9M264.4 398.9Q267.4 397.3 267.6 393.9M262.5 412.5Q264.2 420.2 259.6 426.7M262.5 412.5Q265.0 415.6 263.8 419.3M254.9 404.8Q249.9 408.0 247.8 413.6M254.9 404.8Q252.3 402.4 248.8 402.1M257.5 415.0Q255.0 422.8 247.1 424.9M257.5 415.0Q261.9 415.3 263.8 419.3M269.3 401.9Q266.3 398.3 267.6 393.9M250.3 419.5Q250.5 422.6 252.6 424.9M250.3 419.5Q257.0 415.8 263.8 419.3M241.5 426.1Q240.9 430.3 236.9 431.8M227.2 419.6Q225.6 416.6 222.1 416.2M226.9 409.7Q223.3 406.9 222.0 402.4M226.9 409.7Q225.7 413.8 222.1 416.2M241.8 404.5Q246.0 405.4 248.8 402.1M235.3 423.2Q237.7 427.2 236.9 431.8M232.4 413.0Q233.1 407.0 228.3 403.4M235.0 403.9Q231.1 401.3 230.6 396.7M247.1 424.9Q250.4 430.1 248.0 435.7M230.9 427.0Q224.5 428.0 220.4 433.1M230.9 427.0Q227.1 430.4 228.0 435.4M243.1 432.8Q240.2 436.8 235.4 438.2M251.1 430.7Q244.3 435.0 236.9 431.8M254.1 439.0Q253.0 444.6 248.0 447.2M258.1 433.9Q264.5 432.9 268.6 428.0M243.4 439.1Q243.7 444.3 248.0 447.2M243.4 439.1Q239.6 436.6 235.4 438.2M230.7 447.4Q231.8 453.4 236.9 456.6M224.0 439.1Q216.9 438.1 212.8 432.3M215.1 450.5Q221.3 453.3 222.2 460.1M227.6 453.5Q233.0 452.8 236.9 456.6M227.6 453.5Q223.5 455.6 222.2 460.1M220.4 450.5Q216.2 456.4 216.9 463.7M220.4 433.1Q216.2 428.9 217.1 423.1M220.4 433.1Q217.6 426.2 210.2 425.0M228.0 435.4Q232.2 435.5 235.4 438.2M218.6 455.5Q212.9 453.2 207.2 455.2M218.6 455.5Q219.4 458.6 222.2 460.1M210.1 448.1Q206.5 445.1 201.9 446.5M210.1 448.1Q207.0 445.9 206.0 442.3M187.7 441.9Q187.8 436.7 192.3 434.0M187.7 441.9Q184.8 438.1 180.0 438.3M182.1 455.6Q175.6 455.2 171.7 449.9M200.5 452.8Q202.1 459.1 208.3 461.3M200.5 452.8Q203.4 455.3 207.2 455.2M197.9 461.0Q203.1 458.8 208.3 461.3M197.9 461.0Q202.8 462.3 204.1 467.3M197.9 461.0Q201.4 456.2 207.2 455.2M185.1 460.4Q183.9 453.5 178.1 449.8M194.2 440.8Q194.7 437.0 192.3 434.0M199.4 441.2Q197.5 436.0 192.3 434.0M199.4 441.2Q202.4 443.6 206.0 442.3M169.6 430.2Q169.8 422.5 175.0 416.9M169.6 430.2Q172.6 427.8 176.4 428.2M169.6 430.2Q170.0 426.0 173.2 423.2M167.0 445.8Q168.3 449.0 171.7 449.9M168.4 437.4Q174.0 434.2 176.4 428.2M164.2 427.2Q168.2 422.8 168.0 416.9M164.2 427.2Q159.6 423.6 153.7 423.9M175.2 434.5Q172.1 429.2 173.2 423.2M175.2 434.5Q181.1 432.1 183.6 426.3M175.2 434.5Q179.7 432.7 184.4 433.9M158.9 429.0Q161.8 423.8 167.6 422.4M181.2 421.2Q187.6 417.0 195.2 417.8M181.2 421.2Q185.6 426.8 184.4 433.9M179.8 411.3Q179.2 406.2 174.7 403.8M179.8 411.3Q179.0 407.9 181.2 405.3M186.0 414.9Q190.5 411.3 196.3 411.8M171.4 411.1Q167.7 415.6 162.0 414.6M171.4 411.1Q168.4 410.3 166.6 407.7M183.6 426.3Q189.6 428.3 192.3 434.0M183.6 426.3Q182.3 430.3 184.4 433.9M166.0 400.6Q166.3 408.3 162.0 414.6M166.0 400.6Q171.4 401.1 175.0 397.0M166.0 400.6Q165.0 404.3 166.6 407.7M158.4 389.6Q163.7 390.9 167.9 387.6M160.1 404.3Q163.9 404.9 166.6 407.7M163.8 391.8Q167.1 390.9 167.9 387.6M163.8 391.8Q162.2 388.7 162.7 385.2M163.8 391.8Q170.4 391.0 174.1 385.5M163.8 391.8Q167.1 391.6 169.5 394.0M153.1 403.9Q154.2 407.5 157.2 409.6M153.1 403.9Q160.5 403.6 166.6 407.7M165.9 380.3Q165.5 387.7 169.5 394.0M172.2 380.3Q175.4 382.6 179.3 381.6M162.8 373.2Q166.9 367.6 173.8 368.0M174.1 385.5Q173.6 390.7 169.5 394.0M219.4 381.1Q215.9 376.9 215.6 371.5M239.6 382.6Q241.5 385.1 241.4 388.3M230.0 390.5Q233.5 393.1 237.8 393.3M230.0 390.5Q229.0 393.7 230.6 396.7M223.0 388.0Q218.0 387.4 213.4 389.6M223.0 388.0Q222.1 392.1 224.6 395.4M227.9 384.0Q235.7 382.7 241.4 388.3M233.0 373.3Q236.4 372.4 237.5 369.1M228.2 370.2Q233.2 372.3 237.5 369.1M237.9 376.2Q236.0 372.7 237.5 369.1M235.3 388.1Q231.2 391.4 230.6 396.7M235.3 388.1Q242.9 388.6 247.1 394.9M235.3 388.1Q238.3 389.7 241.4 388.3M204.0 408.5Q197.6 411.2 195.2 417.8M204.0 408.5Q205.2 412.8 202.5 416.2M204.0 408.5Q207.0 410.0 210.0 408.9M192.3 434.0Q188.4 431.9 184.4 433.9M192.3 434.0Q193.8 429.6 191.7 425.5M222.0 402.4Q218.0 399.6 216.6 394.9M222.0 402.4Q225.1 399.6 224.6 395.4M222.0 402.4Q219.3 405.7 215.0 405.5M222.0 402.4Q214.8 403.4 210.0 408.9M213.4 389.6Q215.8 391.8 216.6 394.9M213.4 389.6Q220.5 389.7 224.6 395.4M213.4 389.6Q210.0 391.4 209.8 395.3M213.4 389.6Q211.0 387.3 210.5 383.8M248.0 447.2Q242.6 445.1 237.7 448.2M217.1 423.1Q221.3 422.9 223.5 426.4M269.8 421.3Q267.4 418.6 263.8 419.3M269.8 421.3Q267.7 424.4 268.6 428.0M236.9 456.6Q240.5 456.2 242.9 453.6M215.9 412.0Q214.4 408.9 215.0 405.5M215.9 412.0Q217.9 415.7 222.1 416.2M242.9 453.6Q246.4 451.6 250.2 452.9M242.9 453.6Q241.4 449.8 237.7 448.2M236.9 431.8Q237.4 435.3 235.4 438.2M201.0 426.7Q202.8 430.1 206.6 430.8M201.0 426.7Q207.6 424.7 211.1 418.7M201.0 426.7Q205.2 433.0 212.8 432.3M201.0 426.7Q196.0 428.5 191.7 425.5M201.0 426.7Q201.3 430.1 199.0 432.6M201.0 426.7Q201.8 423.4 204.9 422.0M195.2 417.8Q197.1 415.1 196.3 411.8M195.2 417.8Q193.8 411.5 187.8 409.2M195.2 417.8Q195.2 422.4 191.7 425.5M195.2 417.8Q198.5 415.5 202.5 416.2M210.6 363.4Q214.7 366.5 215.6 371.5M207.6 353.8Q205.9 348.8 201.3 346.3M235.4 438.2Q234.0 443.7 237.7 448.2M209.6 376.3Q213.9 375.5 215.6 371.5M162.0 414.6Q161.8 418.4 159.0 420.9M162.0 414.6Q162.5 410.0 166.6 407.7M215.6 371.5Q211.4 369.2 207.0 370.9M215.6 371.5Q210.3 376.5 210.5 383.8M167.8 369.0Q170.5 366.8 173.8 368.0M216.9 463.7Q220.6 464.1 223.2 466.7M216.9 463.7Q218.8 460.8 222.2 460.1M196.3 411.8Q191.3 413.0 187.8 409.2M196.3 411.8Q200.2 412.9 202.5 416.2M175.0 397.0Q173.7 400.4 174.7 403.8M175.0 397.0Q180.0 399.7 181.2 405.3M175.0 397.0Q174.4 393.2 177.4 390.7M237.8 393.3Q238.4 390.0 241.4 388.3M228.7 462.9Q225.0 462.6 222.2 460.1M216.6 394.9Q220.7 393.8 224.6 395.4M174.7 403.8Q171.7 408.0 166.6 407.7M174.7 403.8Q173.7 396.8 177.4 390.7M157.2 409.6Q153.3 411.5 152.0 415.5M206.6 430.8Q210.0 430.1 212.8 432.3M206.6 430.8Q207.8 426.1 204.9 422.0M267.0 381.6Q264.2 387.9 267.6 393.9M159.0 420.9Q156.4 417.1 152.0 415.5M211.1 418.7Q211.8 422.0 210.2 425.0M211.1 418.7Q217.3 420.5 222.1 416.2M211.1 418.7Q208.9 421.9 204.9 422.0M209.8 395.3Q207.1 402.1 210.0 408.9M184.4 433.9Q190.5 431.8 191.7 425.5M184.4 433.9Q183.5 437.4 180.0 438.3M212.3 348.0Q217.0 348.0 220.8 345.2M237.7 448.2Q239.8 455.9 235.3 462.6M210.2 425.0Q206.7 425.0 204.9 422.0M187.8 409.2Q183.4 409.1 181.2 405.3M174.3 455.3Q177.4 453.3 178.1 449.8M174.3 455.3Q174.2 452.0 171.7 449.9M230.6 396.7Q230.6 400.5 228.3 403.4M179.3 381.6Q180.9 386.7 177.4 390.7M222.2 460.1Q228.1 464.8 235.3 462.6M191.7 425.5Q193.8 430.7 199.0 432.6M202.5 416.2Q202.4 419.7 204.9 422.0M180.0 438.3Q178.4 445.9 171.7 449.9M215.0 405.5Q211.7 405.9 210.0 408.9M178.1 449.8Q174.8 448.1 171.7 449.9M169.6 430.2Q174.3 403.8 201.0 402.9M177.4 390.7Q185.7 377.7 173.8 368.0"/></defs>
<use href="#e25" fill="none" stroke="#e63a44" stroke-width="1.4" stroke-opacity="0.09"/>
<use href="#e25" fill="none" stroke="#e63a44" stroke-width="0.19"/>
<circle cx="238.0" cy="416.4" r="1.20" fill="#e81c24"/>
<circle cx="177.6" cy="363.6" r="1.31" fill="#2145a6"/>
<circle cx="198.8" cy="362.3" r="1.17" fill="#a8509f"/>
<circle cx="185.4" cy="350.9" r="1.27" fill="#a8509f"/>
<circle cx="195.7" cy="369.6" r="1.12" fill="#a8509f"/>
<circle cx="202.3" cy="366.6" r="1.09" fill="#a8509f"/>
<circle cx="184.6" cy="369.9" r="1.38" fill="#2145a6"/>
<circle cx="204.1" cy="360.5" r="1.10" fill="#2145a6"/>
<circle cx="188.5" cy="358.5" r="1.13" fill="#a8509f"/>
<circle cx="190.7" cy="353.0" r="1.15" fill="#2145a6"/>
<circle cx="194.4" cy="358.0" r="1.17" fill="#a8509f"/>
<circle cx="187.0" cy="376.0" r="1.26" fill="#a8509f"/>
<circle cx="178.6" cy="357.3" r="1.41" fill="#a8509f"/>
<circle cx="200.6" cy="354.1" r="1.40" fill="#a8509f"/>
<circle cx="183.6" cy="363.9" r="1.31" fill="#2145a6"/>
<circle cx="190.2" cy="370.3" r="1.42" fill="#2145a6"/>
<circle cx="178.9" cy="370.7" r="1.40" fill="#2145a6"/>
<circle cx="193.0" cy="375.4" r="1.07" fill="#2145a6"/>
<circle cx="192.7" cy="363.5" r="1.07" fill="#2145a6"/>
<circle cx="195.6" cy="350.1" r="1.19" fill="#2145a6"/>
<circle cx="195.4" cy="391.8" r="1.44" fill="#2145a6"/>
<circle cx="182.8" cy="389.4" r="1.64" fill="#2145a6"/>
<circle cx="189.0" cy="403.0" r="1.50" fill="#2145a6"/>
<circle cx="202.8" cy="397.4" r="1.62" fill="#2145a6"/>
<circle cx="187.2" cy="395.5" r="1.45" fill="#2145a6"/>
<circle cx="201.0" cy="402.9" r="1.45" fill="#2145a6"/>
<circle cx="204.7" cy="385.7" r="1.30" fill="#2145a6"/>
<circle cx="194.8" cy="404.9" r="1.36" fill="#2145a6"/>
<circle cx="203.8" cy="392.2" r="1.51" fill="#2145a6"/>
<circle cx="190.1" cy="382.8" r="1.43" fill="#2145a6"/>
<circle cx="182.7" cy="398.4" r="1.38" fill="#2145a6"/>
<circle cx="195.3" cy="385.2" r="1.62" fill="#2145a6"/>
<circle cx="195.7" cy="397.8" r="1.56" fill="#2145a6"/>
<circle cx="190.3" cy="389.3" r="1.59" fill="#2145a6"/>
<circle cx="199.6" cy="388.4" r="1.52" fill="#2145a6"/>
<circle cx="200.4" cy="382.3" r="1.56" fill="#2145a6"/>
<circle cx="227.8" cy="356.3" r="1.01" fill="#2145a6"/>
<circle cx="219.4" cy="350.8" r="1.11" fill="#2145a6"/>
<circle cx="223.3" cy="364.6" r="1.12" fill="#2145a6"/>
<circle cx="217.9" cy="358.7" r="1.26" fill="#2145a6"/>
<circle cx="226.1" cy="350.7" r="0.96" fill="#2145a6"/>
<circle cx="217.0" cy="364.6" r="1.21" fill="#2145a6"/>
<circle cx="214.7" cy="353.7" r="1.16" fill="#2145a6"/>
<circle cx="229.4" cy="363.2" r="1.22" fill="#2145a6"/>
<circle cx="232.6" cy="358.8" r="1.07" fill="#2145a6"/>
<circle cx="254.9" cy="369.8" r="1.20" fill="#2145a6"/>
<circle cx="245.4" cy="358.7" r="1.00" fill="#2145a6"/>
<circle cx="242.8" cy="372.8" r="1.08" fill="#2145a6"/>
<circle cx="240.9" cy="363.5" r="1.26" fill="#2145a6"/>
<circle cx="249.8" cy="366.6" r="1.25" fill="#2145a6"/>
<circle cx="252.0" cy="361.5" r="1.16" fill="#2145a6"/>
<circle cx="249.8" cy="375.0" r="1.25" fill="#2145a6"/>
<circle cx="248.6" cy="388.9" r="1.01" fill="#2145a6"/>
<circle cx="248.0" cy="383.4" r="0.89" fill="#2145a6"/>
<circle cx="261.3" cy="384.4" r="0.96" fill="#2145a6"/>
<circle cx="259.0" cy="393.4" r="1.07" fill="#2145a6"/>
<circle cx="256.9" cy="380.4" r="0.90" fill="#2145a6"/>
<circle cx="255.9" cy="388.1" r="0.88" fill="#2145a6"/>
<circle cx="253.5" cy="393.8" r="1.13" fill="#2145a6"/>
<circle cx="263.9" cy="389.4" r="0.90" fill="#2145a6"/>
<circle cx="255.9" cy="409.9" r="1.28" fill="#2145a6"/>
<circle cx="265.0" cy="405.0" r="1.30" fill="#2145a6"/>
<circle cx="264.4" cy="398.9" r="1.13" fill="#2145a6"/>
<circle cx="262.5" cy="412.5" r="1.00" fill="#2145a6"/>
<circle cx="260.0" cy="402.8" r="1.32" fill="#2145a6"/>
<circle cx="256.3" cy="398.8" r="1.28" fill="#2145a6"/>
<circle cx="269.7" cy="412.1" r="1.07" fill="#2145a6"/>
<circle cx="254.9" cy="404.8" r="1.25" fill="#2145a6"/>
<circle cx="271.4" cy="406.8" r="1.16" fill="#2145a6"/>
<circle cx="257.5" cy="415.0" r="1.08" fill="#2145a6"/>
<circle cx="269.3" cy="401.9" r="1.27" fill="#2145a6"/>
<circle cx="250.3" cy="419.5" r="1.00" fill="#2145a6"/>
<circle cx="241.5" cy="426.1" r="1.01" fill="#2145a6"/>
<circle cx="227.2" cy="419.6" r="1.14" fill="#2145a6"/>
<circle cx="237.0" cy="409.7" r="0.88" fill="#2145a6"/>
<circle cx="226.9" cy="409.7" r="1.13" fill="#2145a6"/>
<circle cx="241.8" cy="404.5" r="0.90" fill="#2145a6"/>
<circle cx="243.0" cy="410.6" r="0.89" fill="#2145a6"/>
<circle cx="235.3" cy="423.2" r="0.97" fill="#2145a6"/>
<circle cx="244.0" cy="419.6" r="0.99" fill="#2145a6"/>
<circle cx="232.4" cy="413.0" r="1.10" fill="#2145a6"/>
<circle cx="235.0" cy="403.9" r="0.91" fill="#2145a6"/>
<circle cx="247.8" cy="413.6" r="0.96" fill="#2145a6"/>
<circle cx="247.1" cy="424.9" r="0.87" fill="#2145a6"/>
<circle cx="230.9" cy="427.0" r="0.94" fill="#2145a6"/>
<circle cx="243.1" cy="432.8" r="1.42" fill="#2145a6"/>
<circle cx="251.1" cy="430.7" r="1.39" fill="#2145a6"/>
<circle cx="259.6" cy="426.7" r="1.13" fill="#2145a6"/>
<circle cx="263.2" cy="431.3" r="1.21" fill="#2145a6"/>
<circle cx="262.0" cy="440.1" r="1.16" fill="#2145a6"/>
<circle cx="254.1" cy="439.0" r="1.23" fill="#2145a6"/>
<circle cx="255.6" cy="444.2" r="1.33" fill="#2145a6"/>
<circle cx="248.3" cy="441.2" r="1.31" fill="#2145a6"/>
<circle cx="252.6" cy="424.9" r="1.17" fill="#2145a6"/>
<circle cx="258.1" cy="433.9" r="1.13" fill="#2145a6"/>
<circle cx="243.4" cy="439.1" r="1.07" fill="#2145a6"/>
<circle cx="248.0" cy="435.7" r="1.43" fill="#2145a6"/>
<circle cx="230.7" cy="447.4" r="1.14" fill="#2145a6"/>
<circle cx="221.5" cy="444.6" r="1.15" fill="#2145a6"/>
<circle cx="214.4" cy="437.8" r="1.39" fill="#2145a6"/>
<circle cx="224.0" cy="439.1" r="1.21" fill="#2145a6"/>
<circle cx="214.4" cy="443.6" r="1.31" fill="#2145a6"/>
<circle cx="215.1" cy="450.5" r="1.18" fill="#2145a6"/>
<circle cx="227.6" cy="453.5" r="1.15" fill="#2145a6"/>
<circle cx="229.7" cy="442.3" r="1.15" fill="#2145a6"/>
<circle cx="220.4" cy="450.5" r="1.38" fill="#2145a6"/>
<circle cx="220.4" cy="433.1" r="1.07" fill="#2145a6"/>
<circle cx="228.0" cy="435.4" r="1.43" fill="#2145a6"/>
<circle cx="218.6" cy="455.5" r="1.07" fill="#2145a6"/>
<circle cx="210.1" cy="448.1" r="1.13" fill="#2145a6"/>
<circle cx="190.8" cy="461.3" r="1.33" fill="#2145a6"/>
<circle cx="201.9" cy="446.5" r="1.19" fill="#2145a6"/>
<circle cx="193.6" cy="453.5" r="1.32" fill="#2145a6"/>
<circle cx="193.4" cy="446.0" r="1.26" fill="#2145a6"/>
<circle cx="187.7" cy="441.9" r="1.19" fill="#2145a6"/>
<circle cx="182.1" cy="455.6" r="1.17" fill="#2145a6"/>
<circle cx="184.4" cy="447.7" r="1.24" fill="#2145a6"/>
<circle cx="200.5" cy="452.8" r="1.33" fill="#2145a6"/>
<circle cx="197.9" cy="461.0" r="1.42" fill="#2145a6"/>
<circle cx="187.6" cy="453.8" r="1.24" fill="#2145a6"/>
<circle cx="185.1" cy="460.4" r="1.28" fill="#2145a6"/>
<circle cx="194.2" cy="440.8" r="1.30" fill="#2145a6"/>
<circle cx="199.4" cy="441.2" r="1.28" fill="#2145a6"/>
<circle cx="169.6" cy="430.2" r="0.99" fill="#2145a6"/>
<circle cx="162.5" cy="433.4" r="1.06" fill="#2145a6"/>
<circle cx="157.5" cy="435.9" r="1.20" fill="#2145a6"/>
<circle cx="167.0" cy="445.8" r="1.17" fill="#2145a6"/>
<circle cx="168.4" cy="437.4" r="1.00" fill="#2145a6"/>
<circle cx="164.2" cy="427.2" r="1.05" fill="#2145a6"/>
<circle cx="160.5" cy="442.2" r="1.07" fill="#2145a6"/>
<circle cx="175.2" cy="434.5" r="1.25" fill="#2145a6"/>
<circle cx="174.9" cy="442.0" r="1.11" fill="#2145a6"/>
<circle cx="158.9" cy="429.0" r="1.01" fill="#2145a6"/>
<circle cx="181.2" cy="421.2" r="1.26" fill="#2145a6"/>
<circle cx="175.0" cy="416.9" r="1.17" fill="#2145a6"/>
<circle cx="176.4" cy="428.2" r="1.24" fill="#2145a6"/>
<circle cx="179.8" cy="411.3" r="1.04" fill="#2145a6"/>
<circle cx="186.0" cy="414.9" r="0.98" fill="#2145a6"/>
<circle cx="171.4" cy="411.1" r="1.02" fill="#2145a6"/>
<circle cx="173.2" cy="423.2" r="1.12" fill="#2145a6"/>
<circle cx="168.0" cy="416.9" r="1.17" fill="#2145a6"/>
<circle cx="183.6" cy="426.3" r="1.25" fill="#2145a6"/>
<circle cx="186.7" cy="421.2" r="0.99" fill="#2145a6"/>
<circle cx="167.6" cy="422.4" r="1.11" fill="#2145a6"/>
<circle cx="166.0" cy="400.6" r="1.12" fill="#2145a6"/>
<circle cx="158.4" cy="389.6" r="0.91" fill="#2145a6"/>
<circle cx="160.1" cy="404.3" r="0.95" fill="#2145a6"/>
<circle cx="153.8" cy="396.5" r="1.04" fill="#2145a6"/>
<circle cx="163.8" cy="391.8" r="0.99" fill="#2145a6"/>
<circle cx="153.1" cy="403.9" r="0.90" fill="#2145a6"/>
<circle cx="159.6" cy="397.5" r="1.16" fill="#2145a6"/>
<circle cx="152.7" cy="390.9" r="0.95" fill="#2145a6"/>
<circle cx="165.9" cy="380.3" r="0.92" fill="#2145a6"/>
<circle cx="172.2" cy="380.3" r="0.96" fill="#2145a6"/>
<circle cx="156.8" cy="381.9" r="1.15" fill="#2145a6"/>
<circle cx="172.3" cy="374.3" r="1.16" fill="#2145a6"/>
<circle cx="162.8" cy="373.2" r="0.91" fill="#2145a6"/>
<circle cx="167.9" cy="387.6" r="1.21" fill="#2145a6"/>
<circle cx="157.1" cy="375.6" r="1.02" fill="#2145a6"/>
<circle cx="162.7" cy="385.2" r="0.97" fill="#2145a6"/>
<circle cx="174.1" cy="385.5" r="0.99" fill="#2145a6"/>
<circle cx="219.4" cy="381.1" r="1.19" fill="#2145a6"/>
<circle cx="239.6" cy="382.6" r="1.15" fill="#2145a6"/>
<circle cx="230.0" cy="390.5" r="0.96" fill="#2145a6"/>
<circle cx="223.0" cy="388.0" r="1.01" fill="#2145a6"/>
<circle cx="227.9" cy="384.0" r="1.18" fill="#2145a6"/>
<circle cx="233.0" cy="373.3" r="0.97" fill="#2145a6"/>
<circle cx="224.0" cy="375.7" r="1.01" fill="#2145a6"/>
<circle cx="233.6" cy="381.3" r="0.89" fill="#2145a6"/>
<circle cx="228.2" cy="370.2" r="0.92" fill="#2145a6"/>
<circle cx="237.9" cy="376.2" r="0.95" fill="#2145a6"/>
<circle cx="235.3" cy="388.1" r="1.01" fill="#2145a6"/>
<circle cx="204.0" cy="408.5" r="1.20" fill="#2145a6"/>
<circle cx="192.3" cy="434.0" r="1.21" fill="#2145a6"/>
<circle cx="222.0" cy="402.4" r="1.06" fill="#2145a6"/>
<circle cx="213.4" cy="389.6" r="1.03" fill="#2145a6"/>
<circle cx="248.0" cy="447.2" r="0.92" fill="#2145a6"/>
<circle cx="217.1" cy="423.1" r="1.12" fill="#2145a6"/>
<circle cx="269.8" cy="421.3" r="0.95" fill="#2145a6"/>
<circle cx="236.9" cy="456.6" r="1.20" fill="#2145a6"/>
<circle cx="215.9" cy="412.0" r="1.10" fill="#2145a6"/>
<circle cx="242.9" cy="453.6" r="0.93" fill="#2145a6"/>
<circle cx="236.9" cy="431.8" r="1.30" fill="#2145a6"/>
<circle cx="201.0" cy="426.7" r="1.02" fill="#2145a6"/>
<circle cx="209.0" cy="402.3" r="1.24" fill="#2145a6"/>
<circle cx="195.2" cy="417.8" r="1.13" fill="#2145a6"/>
<circle cx="210.6" cy="363.4" r="1.01" fill="#2145a6"/>
<circle cx="153.7" cy="423.9" r="1.12" fill="#2145a6"/>
<circle cx="207.6" cy="353.8" r="1.21" fill="#2145a6"/>
<circle cx="208.3" cy="461.3" r="0.99" fill="#2145a6"/>
<circle cx="235.4" cy="438.2" r="1.17" fill="#2145a6"/>
<circle cx="209.6" cy="376.3" r="0.94" fill="#2145a6"/>
<circle cx="162.0" cy="414.6" r="1.17" fill="#2145a6"/>
<circle cx="215.6" cy="371.5" r="1.18" fill="#2145a6"/>
<circle cx="167.8" cy="369.0" r="0.98" fill="#2145a6"/>
<circle cx="263.6" cy="374.9" r="1.02" fill="#2145a6"/>
<circle cx="223.5" cy="426.4" r="1.21" fill="#2145a6"/>
<circle cx="216.9" cy="463.7" r="1.07" fill="#2145a6"/>
<circle cx="196.3" cy="411.8" r="1.26" fill="#2145a6"/>
<circle cx="201.3" cy="346.3" r="1.15" fill="#2145a6"/>
<circle cx="175.0" cy="397.0" r="1.02" fill="#2145a6"/>
<circle cx="237.8" cy="393.3" r="1.23" fill="#2145a6"/>
<circle cx="228.7" cy="462.9" r="1.04" fill="#2145a6"/>
<circle cx="216.6" cy="394.9" r="0.94" fill="#2145a6"/>
<circle cx="223.2" cy="466.7" r="1.03" fill="#2145a6"/>
<circle cx="174.7" cy="403.8" r="1.25" fill="#2145a6"/>
<circle cx="224.6" cy="395.4" r="1.05" fill="#2145a6"/>
<circle cx="239.4" cy="351.7" r="1.12" fill="#2145a6"/>
<circle cx="157.2" cy="409.6" r="0.95" fill="#2145a6"/>
<circle cx="206.6" cy="430.8" r="1.28" fill="#2145a6"/>
<circle cx="267.0" cy="381.6" r="1.04" fill="#2145a6"/>
<circle cx="159.0" cy="420.9" r="1.27" fill="#2145a6"/>
<circle cx="206.0" cy="442.3" r="1.04" fill="#2145a6"/>
<circle cx="211.1" cy="418.7" r="1.22" fill="#2145a6"/>
<circle cx="200.7" cy="374.2" r="1.04" fill="#2145a6"/>
<circle cx="204.1" cy="467.3" r="1.11" fill="#2145a6"/>
<circle cx="207.2" cy="455.2" r="0.95" fill="#2145a6"/>
<circle cx="209.8" cy="395.3" r="1.29" fill="#2145a6"/>
<circle cx="250.2" cy="452.9" r="1.30" fill="#2145a6"/>
<circle cx="184.4" cy="433.9" r="1.25" fill="#2145a6"/>
<circle cx="212.3" cy="348.0" r="1.25" fill="#2145a6"/>
<circle cx="212.8" cy="432.3" r="1.08" fill="#2145a6"/>
<circle cx="237.5" cy="369.1" r="1.06" fill="#2145a6"/>
<circle cx="237.7" cy="448.2" r="0.94" fill="#2145a6"/>
<circle cx="168.2" cy="361.4" r="1.30" fill="#2145a6"/>
<circle cx="210.2" cy="425.0" r="1.20" fill="#2145a6"/>
<circle cx="267.6" cy="393.9" r="0.95" fill="#2145a6"/>
<circle cx="152.0" cy="415.5" r="1.24" fill="#2145a6"/>
<circle cx="187.8" cy="409.2" r="1.16" fill="#2145a6"/>
<circle cx="174.3" cy="455.3" r="1.17" fill="#2145a6"/>
<circle cx="230.6" cy="396.7" r="1.16" fill="#2145a6"/>
<circle cx="179.3" cy="381.6" r="1.29" fill="#2145a6"/>
<circle cx="247.1" cy="394.9" r="1.30" fill="#2145a6"/>
<circle cx="222.2" cy="460.1" r="1.17" fill="#2145a6"/>
<circle cx="191.7" cy="425.5" r="1.16" fill="#2145a6"/>
<circle cx="220.8" cy="345.2" r="1.21" fill="#2145a6"/>
<circle cx="248.8" cy="402.1" r="1.11" fill="#2145a6"/>
<circle cx="202.5" cy="416.2" r="0.96" fill="#2145a6"/>
<circle cx="199.0" cy="432.6" r="1.27" fill="#2145a6"/>
<circle cx="180.0" cy="438.3" r="1.20" fill="#2145a6"/>
<circle cx="215.0" cy="405.5" r="1.21" fill="#2145a6"/>
<circle cx="263.8" cy="419.3" r="1.25" fill="#2145a6"/>
<circle cx="268.6" cy="428.0" r="1.17" fill="#2145a6"/>
<circle cx="232.2" cy="351.4" r="1.02" fill="#2145a6"/>
<circle cx="222.1" cy="416.2" r="0.91" fill="#2145a6"/>
<circle cx="178.1" cy="449.8" r="0.99" fill="#2145a6"/>
<circle cx="211.9" cy="467.5" r="0.90" fill="#2145a6"/>
<circle cx="210.0" cy="408.9" r="1.18" fill="#2145a6"/>
<circle cx="149.2" cy="409.5" r="1.30" fill="#2145a6"/>
<circle cx="207.0" cy="370.9" r="1.05" fill="#2145a6"/>
<circle cx="181.2" cy="405.3" r="0.99" fill="#2145a6"/>
<circle cx="166.6" cy="407.7" r="0.95" fill="#2145a6"/>
<circle cx="171.7" cy="449.9" r="1.19" fill="#2145a6"/>
<circle cx="204.9" cy="422.0" r="1.05" fill="#2145a6"/>
<circle cx="173.8" cy="368.0" r="0.95" fill="#2145a6"/>
<circle cx="177.4" cy="390.7" r="1.13" fill="#2145a6"/>
<circle cx="210.5" cy="383.8" r="1.06" fill="#2145a6"/>
<circle cx="169.5" cy="394.0" r="1.06" fill="#2145a6"/>
<circle cx="228.3" cy="403.4" r="0.99" fill="#2145a6"/>
<circle cx="241.4" cy="388.3" r="1.24" fill="#2145a6"/>
<circle cx="235.3" cy="462.6" r="1.25" fill="#2145a6"/>
<circle cx="260.7" cy="369.7" r="1.21" fill="#2145a6"/>
<defs><path id="e26" d="M336.6 460.6Q336.5 456.6 340.1 454.8M336.6 460.6Q331.0 451.7 336.8 442.8M336.6 460.6Q342.5 455.9 345.1 448.9M336.6 460.6Q340.4 450.0 350.0 444.0M336.6 460.6Q333.0 458.9 330.8 455.6M336.6 460.6Q341.8 456.2 348.5 455.0M336.6 460.6Q343.6 446.9 334.4 434.6M336.6 460.6Q337.0 452.3 330.9 446.7M336.6 460.6Q347.4 452.1 347.6 438.3M336.6 460.6Q339.1 455.2 336.0 450.1M336.6 460.6Q342.1 452.1 352.1 450.1M336.6 460.6Q339.9 460.4 342.9 462.1M336.6 460.6Q345.6 454.0 342.9 443.2M340.1 454.8Q335.6 449.6 336.8 442.8M340.1 454.8Q348.2 452.3 350.0 444.0M340.1 454.8Q331.4 454.5 324.3 449.3M340.1 454.8Q337.3 444.3 327.2 440.5M340.1 454.8Q331.1 446.5 334.4 434.6M340.1 454.8Q332.8 453.8 330.9 446.7M340.1 454.8Q340.0 444.8 347.6 438.3M340.1 454.8Q339.1 451.6 336.0 450.1M340.1 454.8Q343.7 457.6 342.9 462.1M340.1 454.8Q344.2 449.6 342.9 443.2M336.8 442.8Q338.0 438.1 342.2 435.7M336.8 442.8Q328.6 442.3 324.3 449.3M336.8 442.8Q330.8 447.8 330.8 455.6M336.8 442.8Q331.3 444.2 327.2 440.5M336.8 442.8Q339.9 451.5 348.5 455.0M336.8 442.8Q337.2 438.2 334.4 434.6M336.8 442.8Q335.1 446.7 330.9 446.7M336.8 442.8Q343.2 443.0 347.6 438.3M336.8 442.8Q338.0 446.6 336.0 450.1M336.8 442.8Q346.2 442.7 352.1 450.1M336.8 442.8Q334.7 454.0 342.9 462.1M345.1 448.9Q339.3 443.3 342.2 435.7M345.1 448.9Q334.6 444.4 324.3 449.3M345.1 448.9Q336.0 448.1 330.8 455.6M345.1 448.9Q334.2 448.7 327.2 440.5M345.1 448.9Q345.8 452.5 348.5 455.0M345.1 448.9Q336.1 444.5 334.4 434.6M345.1 448.9Q337.3 452.4 330.9 446.7M345.1 448.9Q347.8 443.9 347.6 438.3M345.1 448.9Q340.9 452.0 336.0 450.1M345.1 448.9Q348.3 451.2 352.1 450.1M345.1 448.9Q348.1 456.2 342.9 462.1M342.2 435.7Q344.2 441.7 350.0 444.0M342.2 435.7Q335.6 445.5 324.3 449.3M342.2 435.7Q336.3 443.1 327.2 440.5M342.2 435.7Q341.0 446.7 348.5 455.0M342.2 435.7Q338.1 436.8 334.4 434.6M342.2 435.7Q338.0 442.7 330.9 446.7M342.2 435.7Q345.7 435.4 347.6 438.3M342.2 435.7Q342.9 444.5 336.0 450.1M342.2 435.7Q345.3 444.2 352.1 450.1M342.2 435.7Q337.2 449.0 342.9 462.1M342.2 435.7Q344.1 439.3 342.9 443.2M350.0 444.0Q338.1 451.1 324.3 449.3M350.0 444.0Q342.5 453.3 330.8 455.6M350.0 444.0Q337.9 446.7 327.2 440.5M350.0 444.0Q352.6 450.0 348.5 455.0M350.0 444.0Q344.6 435.3 334.4 434.6M350.0 444.0Q340.0 442.1 330.9 446.7M350.0 444.0Q350.4 440.5 347.6 438.3M350.0 444.0Q341.2 442.8 336.0 450.1M350.0 444.0Q342.5 451.5 342.9 462.1M324.3 449.3Q328.1 445.6 327.2 440.5M324.3 449.3Q335.6 455.7 348.5 455.0M324.3 449.3Q331.8 443.6 334.4 434.6M324.3 449.3Q326.9 446.2 330.9 446.7M324.3 449.3Q332.3 436.0 347.6 438.3M324.3 449.3Q330.0 451.8 336.0 450.1M324.3 449.3Q336.9 450.9 342.9 462.1M330.8 455.6Q332.4 447.2 327.2 440.5M330.8 455.6Q329.4 451.1 330.9 446.7M330.8 455.6Q344.5 452.1 347.6 438.3M330.8 455.6Q343.0 458.8 352.1 450.1M330.8 455.6Q338.4 455.8 342.9 462.1M327.2 440.5Q341.9 441.8 348.5 455.0M327.2 440.5Q328.9 435.2 334.4 434.6M327.2 440.5Q327.5 444.5 330.9 446.7M327.2 440.5Q333.9 443.2 336.0 450.1M327.2 440.5Q336.8 452.7 352.1 450.1M327.2 440.5Q341.3 446.7 342.9 462.1M348.5 455.0Q337.8 454.8 330.9 446.7M348.5 455.0Q345.1 446.8 347.6 438.3M348.5 455.0Q348.6 451.3 352.1 450.1M348.5 455.0Q346.7 459.4 342.9 462.1M334.4 434.6Q334.7 441.2 330.9 446.7M334.4 434.6Q339.9 440.2 347.6 438.3M334.4 434.6Q339.1 441.9 336.0 450.1M334.4 434.6Q346.2 438.9 352.1 450.1M334.4 434.6Q336.0 441.4 342.9 443.2M330.9 446.7Q337.8 439.6 347.6 438.3M330.9 446.7Q332.7 449.5 336.0 450.1M330.9 446.7Q333.2 457.2 342.9 462.1M330.9 446.7Q336.2 442.7 342.9 443.2M347.6 438.3Q338.9 441.2 336.0 450.1M347.6 438.3Q346.0 441.4 342.9 443.2M336.0 450.1Q344.0 447.5 352.1 450.1M336.0 450.1Q342.7 454.2 342.9 462.1M352.1 450.1Q344.1 453.5 342.9 462.1M352.1 450.1Q346.3 448.2 342.9 443.2M342.9 462.1Q348.6 452.6 342.9 443.2"/></defs>
<use href="#e26" fill="none" stroke="#e63a44" stroke-width="1.4" stroke-opacity="0.08"/>
<use href="#e26" fill="none" stroke="#e63a44" stroke-width="0.19"/>
<defs><path id="e27" d="M397.0 404.8Q392.5 397.7 384.2 396.9M397.0 404.8Q393.7 410.0 387.6 410.9M397.0 404.8Q396.7 401.2 399.1 398.5M397.0 404.8Q396.3 408.7 393.7 411.7M397.0 404.8Q389.5 400.3 389.7 391.6M397.0 404.8Q392.7 402.2 388.3 404.9M397.0 404.8Q395.2 400.5 391.5 397.6M397.0 404.8Q389.4 401.6 383.2 407.1M397.0 404.8Q400.1 405.1 402.4 403.1M384.2 396.9Q382.1 404.9 387.6 410.9M384.2 396.9Q390.5 397.5 395.4 393.5M384.2 396.9Q392.0 394.9 399.1 398.5M384.2 396.9Q393.0 401.7 393.7 411.7M384.2 396.9Q388.5 395.9 389.7 391.6M384.2 396.9Q384.1 402.1 388.3 404.9M384.2 396.9Q388.1 395.3 391.5 397.6M384.2 396.9Q394.3 397.2 402.4 403.1M387.6 410.9Q388.1 400.7 395.4 393.5M387.6 410.9Q391.2 402.7 399.1 398.5M387.6 410.9Q390.5 412.4 393.7 411.7M387.6 410.9Q395.1 401.9 389.7 391.6M387.6 410.9Q388.9 408.0 388.3 404.9M387.6 410.9Q386.2 408.1 383.2 407.1M387.6 410.9Q396.8 410.4 402.4 403.1M395.4 393.5Q398.5 395.1 399.1 398.5M395.4 393.5Q398.0 402.9 393.7 411.7M395.4 393.5Q389.4 397.6 388.3 404.9M395.4 393.5Q391.9 402.7 383.2 407.1M399.1 398.5Q392.0 403.3 393.7 411.7M399.1 398.5Q395.8 393.2 389.7 391.6M399.1 398.5Q395.6 404.9 388.3 404.9M399.1 398.5Q395.1 399.5 391.5 397.6M399.1 398.5Q392.9 406.1 383.2 407.1M393.7 411.7Q395.9 400.8 389.7 391.6M393.7 411.7Q393.3 406.5 388.3 404.9M393.7 411.7Q389.2 405.2 391.5 397.6M393.7 411.7Q387.0 412.8 383.2 407.1M393.7 411.7Q395.2 404.5 402.4 403.1M389.7 391.6Q391.0 398.4 388.3 404.9M389.7 391.6Q392.3 394.1 391.5 397.6M389.7 391.6Q390.8 401.2 383.2 407.1M389.7 391.6Q393.3 400.4 402.4 403.1M388.3 404.9Q388.3 400.5 391.5 397.6M388.3 404.9Q395.9 408.3 402.4 403.1M391.5 397.6Q390.4 405.1 383.2 407.1M383.2 407.1Q393.5 408.6 402.4 403.1"/></defs>
<use href="#e27" fill="none" stroke="#ee6a4a" stroke-width="1.4" stroke-opacity="0.08"/>
<use href="#e27" fill="none" stroke="#ee6a4a" stroke-width="0.19"/>
<defs><path id="e28" d="M369.9 385.9Q364.1 389.9 358.2 386.1M369.9 385.9Q367.8 396.7 357.1 399.2M369.9 385.9Q368.3 392.6 363.4 397.4M369.9 385.9Q363.0 393.3 352.9 392.2M358.2 386.1Q367.2 390.2 368.9 400.0M358.2 386.1Q361.0 392.4 367.9 393.1M358.2 386.1Q359.8 389.2 358.9 392.7M358.2 386.1Q354.4 388.2 352.9 392.2M357.1 399.2Q362.8 402.5 368.9 400.0M357.1 399.2Q360.7 393.0 367.9 393.1M357.1 399.2Q359.7 396.5 363.4 397.4M357.1 399.2Q356.1 395.0 352.9 392.2M368.9 400.0Q358.6 400.9 352.9 392.2M367.9 393.1Q368.6 387.2 364.0 383.4M367.9 393.1Q364.7 394.3 363.4 397.4M367.9 393.1Q360.2 396.5 352.9 392.2M364.0 383.4Q361.4 390.3 363.4 397.4M358.9 392.7Q356.0 391.3 352.9 392.2"/></defs>
<use href="#e28" fill="none" stroke="#e63a44" stroke-width="1.4" stroke-opacity="0.08"/>
<use href="#e28" fill="none" stroke="#e63a44" stroke-width="0.19"/>
<defs><path id="e29" d="M305.9 375.6Q307.8 369.7 313.8 368.7M305.9 375.6Q314.8 378.3 321.1 371.4M305.9 375.6Q304.1 371.9 305.8 368.3M305.9 375.6Q303.3 373.7 300.1 373.7M305.9 375.6Q309.2 376.8 310.9 380.0M313.8 368.7Q307.2 367.9 302.8 363.0M313.8 368.7Q315.7 365.5 318.9 363.5M313.8 368.7Q316.0 371.9 315.2 375.8M313.8 368.7Q308.9 366.8 308.8 361.5M313.8 368.7Q308.3 374.8 300.1 373.7M302.8 363.0Q310.8 365.5 318.9 363.5M302.8 363.0Q309.6 372.2 321.1 371.4M302.8 363.0Q306.2 363.8 308.8 361.5M302.8 363.0Q302.7 366.5 305.8 368.3M302.8 363.0Q304.0 369.0 300.1 373.7M302.8 363.0Q303.5 373.1 310.9 380.0M318.9 363.5Q318.7 370.1 315.2 375.8M318.9 363.5Q321.1 367.2 321.1 371.4M318.9 363.5Q314.2 361.1 308.8 361.5M318.9 363.5Q313.4 368.8 305.8 368.3M318.9 363.5Q311.6 372.5 300.1 373.7M318.9 363.5Q317.1 372.9 310.9 380.0M315.2 375.8Q316.9 371.9 321.1 371.4M315.2 375.8Q315.0 367.3 308.8 361.5M315.2 375.8Q312.9 369.1 305.8 368.3M308.8 361.5Q308.6 365.5 305.8 368.3M308.8 361.5Q314.9 370.2 310.9 380.0M305.8 368.3Q310.7 373.1 310.9 380.0"/></defs>
<use href="#e29" fill="none" stroke="#e63a44" stroke-width="1.4" stroke-opacity="0.08"/>
<use href="#e29" fill="none" stroke="#e63a44" stroke-width="0.19"/>
<defs><path id="e30" d="M299.9 415.7Q304.4 406.7 301.1 397.1M299.9 415.7Q299.6 405.8 292.7 398.7M299.9 415.7Q300.9 401.9 291.2 392.1M299.9 415.7Q295.7 409.0 287.9 409.9M299.9 415.7Q302.6 410.4 302.1 404.4M299.9 415.7Q300.8 406.9 306.9 400.5M294.6 406.5Q290.0 410.3 291.7 415.9M294.6 406.5Q289.7 405.7 286.2 402.1M301.1 397.1Q296.5 395.5 292.7 398.7M301.1 397.1Q303.2 400.5 302.1 404.4M301.1 397.1Q295.3 404.7 286.2 402.1M301.1 397.1Q304.8 397.5 306.9 400.5M292.7 398.7Q296.0 407.2 304.6 410.2M292.7 398.7Q292.8 405.4 287.9 409.9M292.7 398.7Q298.7 399.4 302.1 404.4M292.7 398.7Q293.6 394.0 297.9 392.0M292.7 398.7Q289.9 395.6 285.8 395.4M291.2 392.1Q301.7 398.3 304.6 410.2M291.2 392.1Q294.5 390.0 297.9 392.0M291.2 392.1Q287.4 396.4 286.2 402.1M304.6 410.2Q305.2 406.5 302.1 404.4M304.6 410.2Q303.5 400.3 297.9 392.0M304.6 410.2Q294.4 408.5 286.2 402.1M304.6 410.2Q297.2 400.2 285.8 395.4M287.9 409.9Q289.5 399.1 297.9 392.0M287.9 409.9Q284.7 406.5 286.2 402.1M302.1 404.4Q291.4 404.5 285.8 395.4M297.9 392.0Q287.9 402.2 291.7 415.9M291.7 415.9Q304.4 413.2 306.9 400.5M285.8 395.4Q295.4 401.8 306.9 400.5"/></defs>
<use href="#e30" fill="none" stroke="#e63a44" stroke-width="1.4" stroke-opacity="0.08"/>
<use href="#e30" fill="none" stroke="#e63a44" stroke-width="0.19"/>
<defs><path id="e31" d="M298.6 436.3Q302.9 426.8 313.4 427.0M298.6 436.3Q301.7 438.2 304.8 436.1M298.6 436.3Q306.8 443.7 317.1 439.8M311.0 439.1Q307.4 439.2 305.5 442.3M311.0 439.1Q308.0 431.2 301.0 426.5M311.0 439.1Q310.7 432.7 313.4 427.0M311.0 439.1Q307.0 439.4 304.8 436.1M311.0 439.1Q313.9 440.2 317.1 439.8M317.2 432.9Q311.6 433.1 306.8 430.1M317.2 432.9Q310.5 430.7 307.9 424.2M317.2 432.9Q308.3 433.9 305.5 442.3M317.2 432.9Q311.1 424.6 301.0 426.5M317.2 432.9Q314.5 430.4 313.4 427.0M317.2 432.9Q318.7 436.4 317.1 439.8M306.8 430.1Q309.2 427.5 307.9 424.2M306.8 430.1Q303.0 429.8 301.0 426.5M306.8 430.1Q310.9 430.3 313.4 427.0M306.8 430.1Q307.0 433.5 304.8 436.1M306.8 430.1Q309.6 437.4 317.1 439.8M307.9 424.2Q311.6 433.9 305.5 442.3M307.9 424.2Q304.2 424.5 301.0 426.5M307.9 424.2Q307.8 430.5 304.8 436.1M305.5 442.3Q307.5 433.2 301.0 426.5M305.5 442.3Q314.0 437.0 313.4 427.0M305.5 442.3Q303.9 439.4 304.8 436.1M301.0 426.5Q307.1 428.5 313.4 427.0M301.0 426.5Q300.6 432.2 304.8 436.1M313.4 427.0Q307.7 430.3 304.8 436.1M313.4 427.0Q318.4 432.5 317.1 439.8M304.8 436.1Q311.9 434.8 317.1 439.8"/></defs>
<use href="#e31" fill="none" stroke="#e63a44" stroke-width="1.4" stroke-opacity="0.08"/>
<use href="#e31" fill="none" stroke="#e63a44" stroke-width="0.19"/>
<defs><path id="e32" d="M364.9 346.5Q362.2 349.0 358.6 349.6M364.9 346.5Q373.2 349.9 374.8 358.7M369.2 361.3Q368.9 355.5 363.7 353.1M369.2 361.3Q373.3 358.0 372.3 352.9M369.2 361.3Q366.1 361.9 364.1 364.5M363.7 353.1Q367.9 351.5 372.3 352.9M363.7 353.1Q359.0 354.6 358.1 359.5M363.7 353.1Q362.0 358.8 364.1 364.5M363.7 353.1Q360.7 351.9 358.6 349.6M363.7 353.1Q367.9 358.5 374.8 358.7M372.3 352.9Q364.6 356.1 364.1 364.5M372.3 352.9Q375.5 354.9 374.8 358.7M358.1 359.5Q356.0 354.4 358.6 349.6M358.1 359.5Q366.2 353.9 374.8 358.7M364.1 364.5Q368.2 359.3 374.8 358.7M358.6 349.6Q369.4 349.3 374.8 358.7"/></defs>
<use href="#e32" fill="none" stroke="#e63a44" stroke-width="1.4" stroke-opacity="0.08"/>
<use href="#e32" fill="none" stroke="#e63a44" stroke-width="0.19"/>
<defs><path id="e33" d="M366.9 430.3Q375.7 431.5 381.2 424.6M366.9 430.3Q370.3 441.1 381.3 443.8M366.9 430.3Q366.2 435.6 369.6 439.8M366.9 430.3Q370.7 429.2 371.4 425.3M366.9 430.3Q373.8 432.9 376.1 439.9M366.9 430.3Q370.9 430.3 374.3 432.5M380.8 433.0Q385.4 434.0 386.6 438.6M380.8 433.0Q384.6 438.2 381.3 443.8M380.8 433.0Q376.2 438.1 369.6 439.8M380.8 433.0Q378.1 426.8 371.4 425.3M381.2 424.6Q385.8 430.9 386.6 438.6M381.2 424.6Q384.9 434.2 381.3 443.8M381.2 424.6Q376.6 427.8 371.4 425.3M381.2 424.6Q381.9 433.3 376.1 439.9M386.6 438.6Q381.7 441.7 376.1 439.9M386.6 438.6Q388.7 434.6 386.7 430.5M381.3 443.8Q373.4 436.2 371.4 425.3M381.3 443.8Q375.6 439.5 374.3 432.5M381.3 443.8Q380.9 435.9 386.7 430.5M369.6 439.8Q372.9 441.4 376.1 439.9M369.6 439.8Q380.2 438.9 386.7 430.5M371.4 425.3Q374.2 428.4 374.3 432.5M374.3 432.5Q380.9 434.0 386.7 430.5"/></defs>
<use href="#e33" fill="none" stroke="#e63a44" stroke-width="1.4" stroke-opacity="0.08"/>
<use href="#e33" fill="none" stroke="#e63a44" stroke-width="0.19"/>
<defs><path id="e34" d="M336.6 460.6Q329.5 458.0 323.8 462.9M345.1 448.9Q352.8 453.8 352.5 462.8M342.2 435.7Q344.2 432.3 348.1 431.7M350.0 444.0Q351.8 437.4 348.1 431.7M324.3 449.3Q318.4 451.6 312.3 450.1M330.8 455.6Q325.5 457.4 323.8 462.9M330.8 455.6Q329.6 460.7 331.8 465.5M327.2 440.5Q319.3 437.3 311.0 439.1M327.2 440.5Q322.3 437.4 317.1 439.8M327.2 440.5Q331.2 433.7 330.1 425.9M348.5 455.0Q352.9 451.3 358.3 453.2M348.5 455.0Q354.0 461.5 362.3 463.5M348.5 455.0Q357.3 453.8 361.5 446.0M348.5 455.0Q352.6 457.8 352.5 462.8M334.4 434.6Q342.0 437.0 348.1 431.7M334.4 434.6Q329.6 430.2 323.2 429.8M347.6 438.3Q353.1 441.1 358.6 438.6M347.6 438.3Q340.0 435.2 337.3 427.4M352.1 450.1Q355.9 450.2 358.3 453.2M352.1 450.1Q356.0 446.2 361.5 446.0M342.9 462.1Q347.8 461.0 352.5 462.8M342.9 443.2Q343.3 434.2 337.3 427.4M397.0 404.8Q395.4 410.4 399.2 414.8M384.2 396.9Q379.7 394.8 379.1 389.8M384.2 396.9Q380.0 398.1 376.0 396.1M387.6 410.9Q394.0 411.1 399.2 414.8M395.4 393.5Q398.5 391.1 398.0 387.1M395.4 393.5Q400.2 390.1 405.5 392.6M399.1 398.5Q405.9 403.2 405.4 411.4M399.1 398.5Q404.0 397.4 405.5 392.6M393.7 411.7Q399.5 409.4 405.4 411.4M393.7 411.7Q400.8 414.8 403.5 422.0M393.7 411.7Q386.0 411.1 381.0 417.0M393.7 411.7Q395.8 414.3 399.2 414.8M389.7 391.6Q384.7 388.9 379.1 389.8M389.7 391.6Q392.0 387.5 390.2 383.1M389.7 391.6Q392.6 387.0 398.0 387.1M391.5 397.6Q392.5 391.0 398.0 387.1M383.2 407.1Q379.7 411.5 381.0 417.0M383.2 407.1Q381.4 403.5 377.3 403.4M402.4 403.1Q397.4 408.0 399.2 414.8M369.9 385.9Q373.6 390.0 379.1 389.8M369.9 385.9Q375.1 389.7 376.0 396.1M358.2 386.1Q352.2 382.1 352.0 375.0M357.1 399.2Q355.5 406.4 349.3 410.3M357.1 399.2Q350.5 399.1 345.6 403.5M357.1 399.2Q358.6 390.0 351.5 383.9M368.9 400.0Q376.9 397.8 379.1 389.8M368.9 400.0Q368.5 408.4 361.0 412.1M368.9 400.0Q373.7 400.1 377.3 403.4M368.9 400.0Q373.4 399.8 376.0 396.1M367.9 393.1Q372.8 385.0 382.0 383.2M367.9 393.1Q369.7 400.9 377.3 403.4M367.9 393.1Q371.5 395.9 376.0 396.1M363.4 397.4Q363.5 403.6 367.2 408.7M363.4 397.4Q359.8 400.5 360.0 405.2M358.9 392.7Q362.9 385.2 360.3 377.1M358.9 392.7Q353.7 389.6 351.5 383.9M352.9 392.2Q345.8 387.0 345.3 378.3M352.9 392.2Q353.8 400.2 360.0 405.2M305.9 375.6Q303.2 384.4 306.6 392.9M305.9 375.6Q299.2 373.0 296.9 366.3M313.8 368.7Q321.4 368.4 327.7 372.7M313.8 368.7Q319.4 362.5 327.7 364.0M302.8 363.0Q300.6 366.1 296.9 366.3M318.9 363.5Q318.4 359.2 315.0 356.6M318.9 363.5Q323.4 362.4 327.7 364.0M318.9 363.5Q319.7 359.7 323.3 358.2M315.2 375.8Q318.3 379.7 323.2 378.8M315.2 375.8Q323.8 373.7 330.4 379.6M321.1 371.4Q324.0 373.8 327.7 372.7M321.1 371.4Q322.9 366.4 327.7 364.0M321.1 371.4Q316.0 375.8 317.0 382.4M308.8 361.5Q301.5 360.6 296.9 366.3M308.8 361.5Q316.7 362.5 323.3 358.2M305.8 368.3Q301.8 365.0 296.9 366.3M300.1 373.7Q303.4 378.7 302.8 384.6M300.1 373.7Q291.7 375.4 288.8 383.4M300.1 373.7Q295.7 376.8 290.4 376.3M300.1 373.7Q297.3 370.5 296.9 366.3M310.9 380.0Q305.8 380.5 302.8 384.6M310.9 380.0Q316.8 377.1 323.2 378.8M310.9 380.0Q311.3 386.7 316.6 390.9M310.9 380.0Q313.5 382.2 317.0 382.4M299.9 415.7Q298.0 421.4 301.0 426.5M299.9 415.7Q292.3 413.2 284.9 416.3M299.9 415.7Q298.0 419.9 294.0 422.1M299.9 415.7Q308.5 414.4 313.5 407.3M299.9 415.7Q306.8 421.6 315.8 420.5M301.1 397.1Q304.6 396.0 306.6 392.9M291.2 392.1Q295.4 385.9 302.8 384.6M291.2 392.1Q291.5 387.3 288.8 383.4M304.6 410.2Q303.2 417.9 307.9 424.2M297.9 392.0Q291.2 390.0 288.8 383.4M297.9 392.0Q302.1 394.0 306.6 392.9M306.9 400.5Q310.3 394.2 316.6 390.9M306.9 400.5Q305.0 409.1 311.7 414.7M306.9 400.5Q312.1 394.7 310.6 387.0M306.9 400.5Q309.8 397.5 313.9 397.7M298.6 436.3Q303.0 441.2 301.7 447.7M298.6 436.3Q294.5 434.7 293.0 430.5M311.0 439.1Q309.3 444.9 312.3 450.1M311.0 439.1Q304.1 441.0 301.7 447.7M311.0 439.1Q318.6 436.5 323.2 429.8M317.2 432.9Q322.7 428.4 323.9 421.5M306.8 430.1Q300.0 433.2 293.0 430.5M307.9 424.2Q317.1 422.7 323.2 429.8M305.5 442.3Q305.0 446.0 301.7 447.7M301.0 426.5Q296.2 427.0 293.0 430.5M301.0 426.5Q296.5 425.9 294.0 422.1M301.0 426.5Q309.4 426.2 315.8 420.5M313.4 427.0Q315.8 420.4 311.7 414.7M317.1 439.8Q312.3 443.9 312.3 450.1M317.1 439.8Q307.1 439.3 301.7 447.7M317.1 439.8Q322.6 436.3 323.2 429.8M364.9 346.5Q356.7 350.2 349.3 345.1M369.2 361.3Q376.7 357.2 384.8 360.2M369.2 361.3Q376.1 362.5 379.4 368.6M369.2 361.3Q366.8 368.3 359.6 370.0M363.7 353.1Q358.0 346.4 349.3 345.1M358.1 359.5Q350.1 364.3 341.7 360.2M358.1 359.5Q356.7 364.2 352.8 367.2M364.1 364.5Q364.6 371.5 360.3 377.1M364.1 364.5Q360.2 365.9 359.6 370.0M358.6 349.6Q352.3 351.2 348.4 356.5M358.6 349.6Q353.1 349.2 349.3 345.1M374.8 358.7Q380.1 357.5 384.8 360.2M366.9 430.3Q366.9 422.2 371.4 415.4M366.9 430.3Q364.4 436.1 358.6 438.6M366.9 430.3Q363.3 427.4 362.5 422.8M380.8 433.0Q388.8 430.5 396.3 434.0M381.2 424.6Q388.7 425.6 393.7 420.1M381.2 424.6Q379.3 420.8 381.0 417.0M386.6 438.6Q388.7 441.6 392.2 442.5M386.6 438.6Q390.2 443.6 387.9 449.3M381.3 443.8Q386.4 440.4 392.2 442.5M381.3 443.8Q385.7 445.2 387.9 449.3M369.6 439.8Q363.8 442.5 358.6 438.6M369.6 439.8Q366.8 444.5 361.5 446.0M369.6 439.8Q370.4 445.2 374.5 448.9M369.6 439.8Q368.5 449.7 375.8 456.5M371.4 425.3Q369.0 420.4 371.4 415.4M371.4 425.3Q366.5 425.6 362.5 422.8M376.1 439.9Q377.3 444.7 374.5 448.9M374.3 432.5Q378.3 440.6 374.5 448.9M386.7 430.5Q386.1 438.0 392.2 442.5M386.7 430.5Q392.2 430.3 396.3 434.0M405.4 411.4Q402.9 416.4 403.5 422.0M405.4 411.4Q402.9 414.3 399.2 414.8M312.3 450.1Q306.5 450.8 301.7 447.7M312.3 450.1Q312.4 455.4 316.2 458.9M302.8 384.6Q307.3 383.7 310.6 387.0M302.8 384.6Q298.6 385.2 296.0 381.9M323.2 349.7Q328.7 349.5 332.6 353.4M323.2 349.7Q321.6 354.0 323.3 358.2M337.3 406.5Q336.0 410.2 337.7 413.7M337.3 406.5Q333.8 404.3 329.8 405.9M337.3 406.5Q339.7 400.0 345.7 396.4M337.3 406.5Q339.0 414.2 345.3 418.9M337.3 406.5Q340.8 403.2 345.6 403.5M348.4 356.5Q345.7 359.4 341.7 360.2M348.4 356.5Q345.5 352.9 340.9 352.4M348.4 356.5Q350.8 351.0 349.3 345.1M358.3 453.2Q362.3 457.6 362.3 463.5M358.3 453.2Q357.8 448.7 361.5 446.0M358.3 453.2Q353.3 456.7 352.5 462.8M288.8 383.4Q291.3 380.3 290.4 376.3M288.8 383.4Q292.8 384.6 296.0 381.9M336.7 397.2Q337.0 391.0 331.8 387.5M336.7 397.2Q339.3 403.0 345.6 403.5M336.7 397.2Q332.7 397.8 329.3 395.6M403.5 422.0Q398.1 423.9 393.7 420.1M403.5 422.0Q403.0 429.9 396.3 434.0M403.5 422.0Q400.0 419.3 399.2 414.8M322.6 413.1Q330.2 410.7 337.7 413.7M322.6 413.1Q324.5 407.7 329.8 405.9M322.6 413.1Q322.0 417.5 323.9 421.5M322.6 413.1Q316.8 412.1 313.5 407.3M322.6 413.1Q323.0 421.4 330.1 425.9M352.0 375.0Q352.6 383.4 345.9 388.5M352.0 375.0Q345.0 379.7 337.1 376.9M352.0 375.0Q349.4 378.1 345.3 378.3M393.7 420.1Q386.7 421.2 381.0 417.0M382.0 383.2Q378.9 379.3 373.9 379.4M382.0 383.2Q381.9 387.1 379.1 389.8M382.0 383.2Q386.1 381.0 390.2 383.1M384.8 360.2Q380.6 363.4 379.4 368.6M384.8 360.2Q385.2 364.8 389.4 366.8M384.8 360.2Q381.4 358.2 380.3 354.4M337.7 413.7Q342.7 414.5 345.3 418.9M337.7 413.7Q334.7 416.6 330.7 417.4M371.4 415.4Q376.7 413.5 381.0 417.0M371.4 415.4Q365.2 417.0 362.5 422.8M323.2 378.8Q318.2 384.9 310.6 387.0M323.2 378.8Q321.0 382.3 317.0 382.4M323.2 378.8Q326.6 380.8 330.4 379.6M341.7 360.2Q348.7 361.3 352.8 367.2M341.7 360.2Q339.4 356.5 340.9 352.4M352.8 367.2Q348.8 370.7 343.7 369.6M352.8 367.2Q358.0 371.0 360.3 377.1M352.8 367.2Q355.8 369.7 359.6 370.0M334.9 369.7Q335.4 377.7 340.4 384.0M334.9 369.7Q330.5 362.0 332.6 353.4M334.9 369.7Q337.7 372.8 337.1 376.9M334.9 369.7Q339.3 371.4 343.7 369.6M334.9 369.7Q331.9 372.5 327.7 372.7M334.9 369.7Q332.6 365.2 327.7 364.0M334.9 369.7Q334.4 375.4 330.4 379.6M323.8 462.9Q320.6 459.7 316.2 458.9M323.8 462.9Q328.3 462.8 331.8 465.5M353.6 423.3Q344.4 421.0 337.3 427.4M353.6 423.3Q348.4 423.0 345.3 418.9M353.6 423.3Q357.5 424.7 358.2 428.8M353.6 423.3Q352.0 419.0 354.7 415.4M367.6 452.2Q370.1 455.5 368.6 459.4M367.6 452.2Q365.6 448.0 361.5 446.0M367.6 452.2Q375.1 449.6 382.2 453.4M367.6 452.2Q371.9 452.1 374.5 448.9M373.9 379.4Q373.7 372.6 379.4 368.6M373.9 379.4Q370.6 376.8 369.5 372.6M373.9 379.4Q377.8 374.4 384.1 374.6M331.8 387.5Q335.4 384.2 340.4 384.0M331.8 387.5Q327.0 386.3 323.7 390.0M315.0 356.6Q318.7 359.5 323.3 358.2M335.3 344.0Q335.5 349.1 332.6 353.4M335.3 344.0Q340.3 346.7 340.9 352.4M335.3 344.0Q342.5 342.2 349.3 345.1M323.1 402.0Q316.6 398.4 316.6 390.9M323.1 402.0Q327.6 400.2 329.3 395.6M340.4 384.0Q343.8 385.4 345.9 388.5M340.4 384.0Q340.5 391.3 345.7 396.4M340.4 384.0Q345.9 381.9 351.5 383.9M340.4 384.0Q341.4 379.9 345.3 378.3M293.0 430.5Q291.4 426.1 294.0 422.1M368.6 459.4Q364.8 460.5 362.3 463.5M396.0 426.8Q397.9 435.6 392.2 442.5M396.0 426.8Q397.5 430.4 396.3 434.0M390.2 383.1Q393.2 386.8 398.0 387.1M390.2 383.1Q389.3 376.7 394.3 372.4M379.4 368.6Q383.9 365.3 389.4 366.8M379.4 368.6Q382.8 370.8 384.1 374.6M379.4 368.6Q376.3 361.3 380.3 354.4M358.6 438.6Q362.2 441.5 361.5 446.0M329.8 405.9Q323.6 399.2 323.7 390.0M329.8 405.9Q327.2 411.9 330.7 417.4M329.8 405.9Q321.3 402.6 313.5 407.3M345.9 388.5Q343.7 392.4 345.7 396.4M345.9 388.5Q343.0 396.0 345.6 403.5M345.9 388.5Q347.5 384.8 351.5 383.9M345.9 388.5Q348.1 383.2 345.3 378.3M316.6 390.9Q319.9 388.4 323.7 390.0M316.6 390.9Q311.1 389.4 306.6 392.9M316.6 390.9Q317.0 395.0 313.9 397.7M316.6 390.9Q320.9 382.1 330.4 379.6M323.9 421.5Q325.2 425.8 323.2 429.8M323.9 421.5Q326.3 417.7 330.7 417.4M323.9 421.5Q319.7 422.4 315.8 420.5M337.3 427.4Q331.4 424.1 330.7 417.4M361.0 412.1Q363.5 421.1 358.2 428.8M361.0 412.1Q363.3 409.1 367.2 408.7M361.0 412.1Q359.3 408.9 360.0 405.2M361.0 412.1Q357.0 412.1 354.7 415.4M311.7 414.7Q310.4 410.5 313.5 407.3M311.7 414.7Q315.1 416.7 315.8 420.5M349.3 410.3Q345.9 407.7 345.6 403.5M349.3 410.3Q353.3 405.1 360.0 405.2M348.1 431.7Q343.6 426.0 345.3 418.9M348.1 431.7Q353.9 432.8 358.2 428.8M310.6 387.0Q309.7 390.6 306.6 392.9M310.6 387.0Q302.1 388.1 296.0 381.9M389.4 366.8Q389.1 372.3 384.1 374.6M389.4 366.8Q381.3 363.1 380.3 354.4M381.0 417.0Q376.1 411.0 377.3 403.4M337.1 376.9Q342.2 374.9 343.7 369.6M337.1 376.9Q331.3 377.1 327.7 372.7M337.1 376.9Q341.5 375.6 345.3 378.3M337.1 376.9Q334.2 379.6 330.4 379.6M323.7 390.0Q321.8 384.9 317.0 382.4M323.7 390.0Q325.3 383.7 330.4 379.6M398.9 378.7Q397.6 374.8 394.3 372.4M294.0 422.1Q291.0 425.8 286.4 424.9M343.7 369.6Q346.7 373.5 345.3 378.3M361.5 446.0Q355.2 438.3 358.2 428.8M345.3 418.9Q351.0 419.7 354.7 415.4M398.0 387.1Q400.8 391.2 405.5 392.6M398.0 387.1Q399.8 378.8 394.3 372.4M369.5 372.6Q363.9 372.8 360.3 377.1M369.5 372.6Q363.8 374.1 359.6 370.0M323.2 429.8Q321.4 423.7 315.8 420.5M382.2 453.4Q379.2 449.7 374.5 448.9M382.2 453.4Q384.2 450.1 387.9 449.3M382.2 453.4Q379.6 456.1 375.8 456.5M374.5 448.9Q381.1 452.1 387.9 449.3M327.7 372.7Q328.6 364.6 323.3 358.2M313.5 407.3Q312.4 398.9 306.6 392.9M313.5 407.3Q311.0 414.5 315.8 420.5M360.3 377.1Q357.4 382.5 351.5 383.9M377.3 403.4Q378.7 399.4 376.0 396.1M327.7 364.0Q324.6 361.8 323.3 358.2M290.4 376.3Q295.5 372.5 296.9 366.3M290.4 376.3Q292.2 380.1 296.0 381.9M362.5 422.8Q358.9 424.8 358.2 428.8M384.1 374.6Q389.8 376.0 394.3 372.4M296.9 366.3Q292.7 373.9 296.0 381.9M351.5 383.9Q353.3 375.7 359.6 370.0M387.9 449.3Q383.6 455.9 375.8 456.5M345.3 378.3Q350.3 370.3 359.6 370.0M313.9 397.7Q322.1 400.2 329.3 395.6M315.8 420.5Q321.6 426.7 330.1 425.9M301.1 397.1Q322.2 404.9 330.1 425.9M330.1 425.9Q311.9 431.2 312.3 450.1M317.1 439.8Q309.3 433.9 307.9 424.2M299.9 415.7Q290.1 415.7 286.4 424.9M323.9 421.5Q314.1 409.3 299.9 415.7"/></defs>
<use href="#e34" fill="none" stroke="#e63a44" stroke-width="1.4" stroke-opacity="0.09"/>
<use href="#e34" fill="none" stroke="#e63a44" stroke-width="0.19"/>
<circle cx="336.6" cy="460.6" r="1.69" fill="#a8509f"/>
<circle cx="340.1" cy="454.8" r="1.43" fill="#2145a6"/>
<circle cx="336.8" cy="442.8" r="1.62" fill="#2145a6"/>
<circle cx="345.1" cy="448.9" r="1.43" fill="#a8509f"/>
<circle cx="342.2" cy="435.7" r="1.76" fill="#a8509f"/>
<circle cx="350.0" cy="444.0" r="1.48" fill="#a8509f"/>
<circle cx="324.3" cy="449.3" r="1.63" fill="#a8509f"/>
<circle cx="330.8" cy="455.6" r="1.51" fill="#2145a6"/>
<circle cx="327.2" cy="440.5" r="1.46" fill="#a8509f"/>
<circle cx="348.5" cy="455.0" r="1.65" fill="#2145a6"/>
<circle cx="334.4" cy="434.6" r="1.84" fill="#a8509f"/>
<circle cx="330.9" cy="446.7" r="1.54" fill="#a8509f"/>
<circle cx="347.6" cy="438.3" r="1.59" fill="#a8509f"/>
<circle cx="336.0" cy="450.1" r="1.43" fill="#a8509f"/>
<circle cx="352.1" cy="450.1" r="1.59" fill="#2145a6"/>
<circle cx="342.9" cy="462.1" r="1.60" fill="#a8509f"/>
<circle cx="342.9" cy="443.2" r="1.67" fill="#a8509f"/>
<circle cx="397.0" cy="404.8" r="1.38" fill="#2145a6"/>
<circle cx="384.2" cy="396.9" r="1.44" fill="#2145a6"/>
<circle cx="387.6" cy="410.9" r="1.28" fill="#2145a6"/>
<circle cx="395.4" cy="393.5" r="1.24" fill="#2145a6"/>
<circle cx="399.1" cy="398.5" r="1.31" fill="#2145a6"/>
<circle cx="393.7" cy="411.7" r="1.13" fill="#2145a6"/>
<circle cx="389.7" cy="391.6" r="1.39" fill="#2145a6"/>
<circle cx="388.3" cy="404.9" r="1.22" fill="#2145a6"/>
<circle cx="391.5" cy="397.6" r="1.22" fill="#2145a6"/>
<circle cx="383.2" cy="407.1" r="1.13" fill="#2145a6"/>
<circle cx="402.4" cy="403.1" r="1.40" fill="#2145a6"/>
<circle cx="369.9" cy="385.9" r="1.14" fill="#2145a6"/>
<circle cx="358.2" cy="386.1" r="1.15" fill="#2145a6"/>
<circle cx="357.1" cy="399.2" r="1.12" fill="#2145a6"/>
<circle cx="368.9" cy="400.0" r="1.09" fill="#2145a6"/>
<circle cx="367.9" cy="393.1" r="1.25" fill="#2145a6"/>
<circle cx="364.0" cy="383.4" r="1.28" fill="#2145a6"/>
<circle cx="363.4" cy="397.4" r="1.33" fill="#2145a6"/>
<circle cx="358.9" cy="392.7" r="1.12" fill="#2145a6"/>
<circle cx="352.9" cy="392.2" r="1.08" fill="#2145a6"/>
<circle cx="305.9" cy="375.6" r="1.14" fill="#2145a6"/>
<circle cx="313.8" cy="368.7" r="1.44" fill="#2145a6"/>
<circle cx="302.8" cy="363.0" r="1.31" fill="#2145a6"/>
<circle cx="318.9" cy="363.5" r="1.26" fill="#2145a6"/>
<circle cx="315.2" cy="375.8" r="1.26" fill="#2145a6"/>
<circle cx="321.1" cy="371.4" r="1.30" fill="#2145a6"/>
<circle cx="308.8" cy="361.5" r="1.33" fill="#2145a6"/>
<circle cx="305.8" cy="368.3" r="1.49" fill="#2145a6"/>
<circle cx="300.1" cy="373.7" r="1.44" fill="#2145a6"/>
<circle cx="310.9" cy="380.0" r="1.24" fill="#2145a6"/>
<circle cx="299.9" cy="415.7" r="1.20" fill="#2145a6"/>
<circle cx="294.6" cy="406.5" r="1.17" fill="#2145a6"/>
<circle cx="301.1" cy="397.1" r="1.22" fill="#2145a6"/>
<circle cx="292.7" cy="398.7" r="1.04" fill="#2145a6"/>
<circle cx="291.2" cy="392.1" r="1.34" fill="#2145a6"/>
<circle cx="304.6" cy="410.2" r="1.32" fill="#2145a6"/>
<circle cx="287.9" cy="409.9" r="1.07" fill="#2145a6"/>
<circle cx="302.1" cy="404.4" r="1.36" fill="#2145a6"/>
<circle cx="297.9" cy="392.0" r="1.12" fill="#2145a6"/>
<circle cx="291.7" cy="415.9" r="1.26" fill="#2145a6"/>
<circle cx="286.2" cy="402.1" r="1.35" fill="#2145a6"/>
<circle cx="285.8" cy="395.4" r="1.29" fill="#2145a6"/>
<circle cx="306.9" cy="400.5" r="1.03" fill="#2145a6"/>
<circle cx="298.6" cy="436.3" r="1.12" fill="#2145a6"/>
<circle cx="311.0" cy="439.1" r="1.23" fill="#2145a6"/>
<circle cx="317.2" cy="432.9" r="1.25" fill="#2145a6"/>
<circle cx="306.8" cy="430.1" r="1.21" fill="#2145a6"/>
<circle cx="307.9" cy="424.2" r="1.28" fill="#2145a6"/>
<circle cx="305.5" cy="442.3" r="1.09" fill="#2145a6"/>
<circle cx="301.0" cy="426.5" r="1.07" fill="#2145a6"/>
<circle cx="313.4" cy="427.0" r="1.29" fill="#2145a6"/>
<circle cx="304.8" cy="436.1" r="0.98" fill="#2145a6"/>
<circle cx="317.1" cy="439.8" r="1.22" fill="#2145a6"/>
<circle cx="364.9" cy="346.5" r="1.06" fill="#2145a6"/>
<circle cx="369.2" cy="361.3" r="1.14" fill="#2145a6"/>
<circle cx="363.7" cy="353.1" r="1.30" fill="#2145a6"/>
<circle cx="372.3" cy="352.9" r="1.21" fill="#2145a6"/>
<circle cx="358.1" cy="359.5" r="0.99" fill="#2145a6"/>
<circle cx="364.1" cy="364.5" r="1.04" fill="#2145a6"/>
<circle cx="358.6" cy="349.6" r="1.04" fill="#2145a6"/>
<circle cx="374.8" cy="358.7" r="1.03" fill="#2145a6"/>
<circle cx="366.9" cy="430.3" r="1.08" fill="#2145a6"/>
<circle cx="380.8" cy="433.0" r="1.02" fill="#2145a6"/>
<circle cx="381.2" cy="424.6" r="1.06" fill="#2145a6"/>
<circle cx="386.6" cy="438.6" r="1.22" fill="#2145a6"/>
<circle cx="381.3" cy="443.8" r="1.28" fill="#2145a6"/>
<circle cx="369.6" cy="439.8" r="0.99" fill="#2145a6"/>
<circle cx="371.4" cy="425.3" r="1.03" fill="#2145a6"/>
<circle cx="376.1" cy="439.9" r="1.06" fill="#2145a6"/>
<circle cx="374.3" cy="432.5" r="1.04" fill="#2145a6"/>
<circle cx="386.7" cy="430.5" r="1.22" fill="#2145a6"/>
<circle cx="405.4" cy="411.4" r="1.34" fill="#2145a6"/>
<circle cx="312.3" cy="450.1" r="1.17" fill="#2145a6"/>
<circle cx="302.8" cy="384.6" r="1.09" fill="#2145a6"/>
<circle cx="323.2" cy="349.7" r="1.35" fill="#2145a6"/>
<circle cx="337.3" cy="406.5" r="1.28" fill="#2145a6"/>
<circle cx="301.7" cy="447.7" r="1.28" fill="#2145a6"/>
<circle cx="348.4" cy="356.5" r="0.96" fill="#2145a6"/>
<circle cx="358.3" cy="453.2" r="1.04" fill="#2145a6"/>
<circle cx="288.8" cy="383.4" r="1.28" fill="#2145a6"/>
<circle cx="336.7" cy="397.2" r="1.10" fill="#2145a6"/>
<circle cx="403.5" cy="422.0" r="0.90" fill="#2145a6"/>
<circle cx="322.6" cy="413.1" r="1.32" fill="#2145a6"/>
<circle cx="352.0" cy="375.0" r="0.94" fill="#2145a6"/>
<circle cx="393.7" cy="420.1" r="1.04" fill="#2145a6"/>
<circle cx="382.0" cy="383.2" r="1.17" fill="#2145a6"/>
<circle cx="384.8" cy="360.2" r="1.17" fill="#2145a6"/>
<circle cx="337.7" cy="413.7" r="1.05" fill="#2145a6"/>
<circle cx="371.4" cy="415.4" r="1.28" fill="#2145a6"/>
<circle cx="323.2" cy="378.8" r="0.97" fill="#2145a6"/>
<circle cx="341.7" cy="360.2" r="1.11" fill="#2145a6"/>
<circle cx="352.8" cy="367.2" r="1.23" fill="#2145a6"/>
<circle cx="334.9" cy="369.7" r="0.94" fill="#2145a6"/>
<circle cx="323.8" cy="462.9" r="1.21" fill="#2145a6"/>
<circle cx="353.6" cy="423.3" r="1.22" fill="#2145a6"/>
<circle cx="367.6" cy="452.2" r="1.08" fill="#2145a6"/>
<circle cx="373.9" cy="379.4" r="1.06" fill="#2145a6"/>
<circle cx="331.8" cy="387.5" r="1.28" fill="#2145a6"/>
<circle cx="315.0" cy="356.6" r="1.22" fill="#2145a6"/>
<circle cx="335.3" cy="344.0" r="1.16" fill="#2145a6"/>
<circle cx="323.1" cy="402.0" r="1.28" fill="#2145a6"/>
<circle cx="340.4" cy="384.0" r="1.04" fill="#2145a6"/>
<circle cx="293.0" cy="430.5" r="1.00" fill="#2145a6"/>
<circle cx="332.6" cy="353.4" r="1.11" fill="#2145a6"/>
<circle cx="368.6" cy="459.4" r="1.11" fill="#2145a6"/>
<circle cx="379.1" cy="389.8" r="0.93" fill="#2145a6"/>
<circle cx="396.0" cy="426.8" r="1.09" fill="#2145a6"/>
<circle cx="390.2" cy="383.1" r="1.14" fill="#2145a6"/>
<circle cx="379.4" cy="368.6" r="0.96" fill="#2145a6"/>
<circle cx="316.2" cy="458.9" r="1.23" fill="#2145a6"/>
<circle cx="362.3" cy="463.5" r="1.08" fill="#2145a6"/>
<circle cx="358.6" cy="438.6" r="1.31" fill="#2145a6"/>
<circle cx="329.8" cy="405.9" r="1.31" fill="#2145a6"/>
<circle cx="345.9" cy="388.5" r="1.23" fill="#2145a6"/>
<circle cx="316.6" cy="390.9" r="0.95" fill="#2145a6"/>
<circle cx="323.9" cy="421.5" r="1.00" fill="#2145a6"/>
<circle cx="337.3" cy="427.4" r="1.21" fill="#2145a6"/>
<circle cx="284.9" cy="416.3" r="1.14" fill="#2145a6"/>
<circle cx="361.0" cy="412.1" r="1.32" fill="#2145a6"/>
<circle cx="311.7" cy="414.7" r="1.33" fill="#2145a6"/>
<circle cx="345.7" cy="396.4" r="1.23" fill="#2145a6"/>
<circle cx="349.3" cy="410.3" r="0.98" fill="#2145a6"/>
<circle cx="348.1" cy="431.7" r="1.23" fill="#2145a6"/>
<circle cx="310.6" cy="387.0" r="1.27" fill="#2145a6"/>
<circle cx="389.4" cy="366.8" r="0.98" fill="#2145a6"/>
<circle cx="392.2" cy="442.5" r="1.18" fill="#2145a6"/>
<circle cx="340.9" cy="352.4" r="1.22" fill="#2145a6"/>
<circle cx="381.0" cy="417.0" r="1.32" fill="#2145a6"/>
<circle cx="337.1" cy="376.9" r="1.19" fill="#2145a6"/>
<circle cx="323.7" cy="390.0" r="1.13" fill="#2145a6"/>
<circle cx="398.9" cy="378.7" r="0.91" fill="#2145a6"/>
<circle cx="294.0" cy="422.1" r="1.07" fill="#2145a6"/>
<circle cx="343.7" cy="369.6" r="1.14" fill="#2145a6"/>
<circle cx="361.5" cy="446.0" r="1.25" fill="#2145a6"/>
<circle cx="345.3" cy="418.9" r="1.13" fill="#2145a6"/>
<circle cx="398.0" cy="387.1" r="1.30" fill="#2145a6"/>
<circle cx="369.5" cy="372.6" r="1.04" fill="#2145a6"/>
<circle cx="323.2" cy="429.8" r="1.19" fill="#2145a6"/>
<circle cx="349.3" cy="345.1" r="0.95" fill="#2145a6"/>
<circle cx="382.2" cy="453.4" r="1.14" fill="#2145a6"/>
<circle cx="352.5" cy="462.8" r="1.12" fill="#2145a6"/>
<circle cx="374.5" cy="448.9" r="0.91" fill="#2145a6"/>
<circle cx="327.7" cy="372.7" r="1.04" fill="#2145a6"/>
<circle cx="330.7" cy="417.4" r="0.97" fill="#2145a6"/>
<circle cx="313.5" cy="407.3" r="0.99" fill="#2145a6"/>
<circle cx="360.3" cy="377.1" r="1.16" fill="#2145a6"/>
<circle cx="306.6" cy="392.9" r="1.04" fill="#2145a6"/>
<circle cx="377.3" cy="403.4" r="1.06" fill="#2145a6"/>
<circle cx="327.7" cy="364.0" r="1.02" fill="#2145a6"/>
<circle cx="290.4" cy="376.3" r="1.13" fill="#2145a6"/>
<circle cx="405.5" cy="392.6" r="1.17" fill="#2145a6"/>
<circle cx="362.5" cy="422.8" r="1.27" fill="#2145a6"/>
<circle cx="331.8" cy="465.5" r="0.99" fill="#2145a6"/>
<circle cx="396.3" cy="434.0" r="1.05" fill="#2145a6"/>
<circle cx="384.1" cy="374.6" r="1.13" fill="#2145a6"/>
<circle cx="296.9" cy="366.3" r="1.07" fill="#2145a6"/>
<circle cx="358.2" cy="428.8" r="1.02" fill="#2145a6"/>
<circle cx="345.6" cy="403.5" r="1.30" fill="#2145a6"/>
<circle cx="351.5" cy="383.9" r="1.06" fill="#2145a6"/>
<circle cx="387.9" cy="449.3" r="1.11" fill="#2145a6"/>
<circle cx="323.3" cy="358.2" r="1.17" fill="#2145a6"/>
<circle cx="345.3" cy="378.3" r="1.33" fill="#2145a6"/>
<circle cx="367.2" cy="408.7" r="1.04" fill="#2145a6"/>
<circle cx="313.9" cy="397.7" r="1.09" fill="#2145a6"/>
<circle cx="394.3" cy="372.4" r="1.01" fill="#2145a6"/>
<circle cx="376.0" cy="396.1" r="0.94" fill="#2145a6"/>
<circle cx="375.8" cy="456.5" r="1.10" fill="#2145a6"/>
<circle cx="317.0" cy="382.4" r="0.95" fill="#2145a6"/>
<circle cx="315.8" cy="420.5" r="1.13" fill="#2145a6"/>
<circle cx="359.6" cy="370.0" r="1.19" fill="#2145a6"/>
<circle cx="286.4" cy="424.9" r="1.31" fill="#2145a6"/>
<circle cx="360.0" cy="405.2" r="1.16" fill="#2145a6"/>
<circle cx="354.7" cy="415.4" r="0.92" fill="#2145a6"/>
<circle cx="296.0" cy="381.9" r="0.96" fill="#2145a6"/>
<circle cx="329.3" cy="395.6" r="1.23" fill="#2145a6"/>
<circle cx="330.4" cy="379.6" r="1.24" fill="#2145a6"/>
<circle cx="399.2" cy="414.8" r="1.27" fill="#2145a6"/>
<circle cx="330.1" cy="425.9" r="1.07" fill="#2145a6"/>
<circle cx="380.3" cy="354.4" r="1.13" fill="#2145a6"/>
<defs><path id="e35" d="M463.7 411.0Q464.5 405.5 461.3 401.0M463.7 411.0Q454.9 403.7 453.4 392.4M463.7 411.0Q457.4 405.7 450.0 409.3M463.7 411.0Q459.8 402.4 450.8 399.7M463.7 411.0Q462.0 414.8 458.4 417.0M463.7 411.0Q456.9 400.8 445.1 397.8M463.7 411.0Q452.4 413.9 445.3 404.6M463.7 411.0Q466.8 402.2 463.5 393.5M463.7 411.0Q466.1 408.5 466.2 405.1M463.7 411.0Q454.9 409.6 449.2 416.5M463.7 411.0Q453.1 406.7 442.1 409.9M463.7 411.0Q463.7 404.4 467.6 399.0M461.3 401.0Q455.9 398.1 453.4 392.4M461.3 401.0Q454.4 403.5 450.0 409.3M461.3 401.0Q455.9 402.0 450.8 399.7M461.3 401.0Q463.3 409.6 458.4 417.0M461.3 401.0Q452.4 398.6 445.3 404.6M461.3 401.0Q464.6 397.9 463.5 393.5M461.3 401.0Q451.2 405.6 449.2 416.5M461.3 401.0Q461.9 407.1 456.6 410.1M461.3 401.0Q449.7 401.2 442.1 409.9M461.3 401.0Q464.7 400.8 467.6 399.0M453.4 392.4Q447.4 400.0 450.0 409.3M453.4 392.4Q449.9 395.3 450.8 399.7M453.4 392.4Q448.4 393.8 445.1 397.8M453.4 392.4Q453.4 401.2 445.3 404.6M453.4 392.4Q458.3 394.3 463.5 393.5M453.4 392.4Q454.7 405.1 449.2 416.5M453.4 392.4Q459.6 400.4 456.6 410.1M453.4 392.4Q450.5 402.9 442.1 409.9M453.4 392.4Q462.3 391.7 467.6 399.0M450.0 409.3Q453.6 404.8 450.8 399.7M450.0 409.3Q452.9 414.6 458.4 417.0M450.0 409.3Q449.3 402.7 445.1 397.8M450.0 409.3Q448.7 405.8 445.3 404.6M450.0 409.3Q460.4 404.5 463.5 393.5M450.0 409.3Q459.0 410.6 466.2 405.1M450.0 409.3Q451.5 413.1 449.2 416.5M450.0 409.3Q453.1 411.4 456.6 410.1M450.0 409.3Q446.2 410.9 442.1 409.9M450.8 399.7Q459.0 406.4 458.4 417.0M450.8 399.7Q448.2 397.9 445.1 397.8M450.8 399.7Q448.9 403.1 445.3 404.6M450.8 399.7Q458.7 399.9 463.5 393.5M450.8 399.7Q444.5 407.6 449.2 416.5M450.8 399.7Q451.1 406.3 456.6 410.1M450.8 399.7Q444.6 403.2 442.1 409.9M450.8 399.7Q459.0 394.7 467.6 399.0M458.4 417.0Q447.6 410.3 445.1 397.8M458.4 417.0Q454.5 407.9 445.3 404.6M458.4 417.0Q465.2 406.2 463.5 393.5M458.4 417.0Q460.3 409.7 466.2 405.1M458.4 417.0Q453.9 414.8 449.2 416.5M458.4 417.0Q459.6 413.0 456.6 410.1M458.4 417.0Q451.8 409.9 442.1 409.9M458.4 417.0Q457.3 405.0 467.6 399.0M445.1 397.8Q447.2 401.1 445.3 404.6M445.1 397.8Q455.6 401.6 463.5 393.5M445.1 397.8Q457.6 395.8 466.2 405.1M445.1 397.8Q452.6 405.9 449.2 416.5M445.1 397.8Q454.7 400.3 456.6 410.1M445.1 397.8Q441.6 403.4 442.1 409.9M445.1 397.8Q456.6 393.5 467.6 399.0M445.3 404.6Q450.7 393.0 463.5 393.5M445.3 404.6Q455.6 409.6 466.2 405.1M445.3 404.6Q444.4 411.5 449.2 416.5M445.3 404.6Q442.9 406.8 442.1 409.9M445.3 404.6Q455.6 398.4 467.6 399.0M463.5 393.5Q463.2 399.7 466.2 405.1M463.5 393.5Q459.5 407.0 449.2 416.5M463.5 393.5Q457.8 400.9 456.6 410.1M463.5 393.5Q457.5 407.9 442.1 409.9M463.5 393.5Q467.1 395.1 467.6 399.0M466.2 405.1Q459.4 413.4 449.2 416.5M466.2 405.1Q462.0 408.8 456.6 410.1M466.2 405.1Q454.7 410.4 442.1 409.9M466.2 405.1Q468.6 402.4 467.6 399.0M449.2 416.5Q454.8 415.5 456.6 410.1M456.6 410.1Q463.8 406.2 467.6 399.0M442.1 409.9Q451.2 396.0 467.6 399.0"/></defs>
<use href="#e35" fill="none" stroke="#e63a44" stroke-width="1.4" stroke-opacity="0.08"/>
<use href="#e35" fill="none" stroke="#e63a44" stroke-width="0.19"/>
<defs><path id="e36" d="M516.1 443.1Q522.6 440.0 524.0 433.0M516.1 443.1Q509.5 437.9 501.5 440.4M516.1 443.1Q515.6 434.4 510.7 427.3M516.1 443.1Q511.5 434.3 517.0 426.0M516.1 443.1Q514.7 437.7 510.7 433.8M516.1 443.1Q514.6 438.3 517.4 434.1M516.1 443.1Q512.4 445.4 508.1 444.5M516.1 443.1Q524.6 443.2 529.9 436.6M516.1 443.1Q515.1 448.1 510.6 450.7M524.0 433.0Q513.8 440.0 501.5 440.4M524.0 433.0Q516.0 433.4 510.7 427.3M524.0 433.0Q522.4 427.6 517.0 426.0M524.0 433.0Q525.5 437.7 523.3 442.0M524.0 433.0Q517.2 430.0 510.7 433.8M524.0 433.0Q513.5 435.2 508.1 444.5M524.0 433.0Q526.0 429.7 524.3 426.1M524.0 433.0Q527.5 433.9 529.9 436.6M501.5 440.4Q505.3 429.0 517.0 426.0M501.5 440.4Q512.1 445.5 523.3 442.0M501.5 440.4Q511.4 442.3 517.4 434.1M501.5 440.4Q506.1 440.4 508.1 444.5M501.5 440.4Q501.5 436.1 504.2 432.8M501.5 440.4Q516.6 445.4 529.9 436.6M520.3 449.3Q509.8 440.8 510.7 427.3M520.3 449.3Q519.5 444.7 523.3 442.0M520.3 449.3Q520.3 438.5 510.7 433.8M520.3 449.3Q523.3 440.9 517.4 434.1M520.3 449.3Q515.7 442.9 508.1 444.5M520.3 449.3Q529.2 438.9 524.3 426.1M520.3 449.3Q529.3 446.2 529.9 436.6M520.3 449.3Q515.2 448.7 510.6 450.7M510.7 427.3Q513.7 425.8 517.0 426.0M510.7 427.3Q520.7 431.5 523.3 442.0M510.7 427.3Q512.4 432.4 517.4 434.1M510.7 427.3Q507.1 435.6 508.1 444.5M510.7 427.3Q517.7 428.8 524.3 426.1M510.7 427.3Q517.5 437.7 529.9 436.6M517.0 426.0Q523.6 432.7 523.3 442.0M517.0 426.0Q512.2 428.5 510.7 433.8M517.0 426.0Q515.2 430.2 517.4 434.1M517.0 426.0Q512.7 433.5 504.2 432.8M517.0 426.0Q520.7 434.6 529.9 436.6M517.0 426.0Q518.2 439.5 510.6 450.7M523.3 442.0Q515.0 440.9 510.7 433.8M523.3 442.0Q517.9 439.9 517.4 434.1M523.3 442.0Q516.4 447.9 508.1 444.5M523.3 442.0Q520.6 433.9 524.3 426.1M523.3 442.0Q511.8 441.4 504.2 432.8M523.3 442.0Q525.6 438.0 529.9 436.6M523.3 442.0Q519.8 450.5 510.6 450.7M510.7 433.8Q511.2 439.6 508.1 444.5M510.7 433.8Q507.7 431.1 504.2 432.8M510.7 433.8Q521.2 428.9 529.9 436.6M510.7 433.8Q505.1 442.2 510.6 450.7M517.4 434.1Q518.7 428.3 524.3 426.1M517.4 434.1Q511.2 429.6 504.2 432.8M517.4 434.1Q518.1 444.1 510.6 450.7M508.1 444.5Q510.6 430.4 524.3 426.1M508.1 444.5Q507.7 438.2 504.2 432.8M508.1 444.5Q516.5 433.8 529.9 436.6M508.1 444.5Q511.3 446.8 510.6 450.7M524.3 426.1Q515.1 432.0 504.2 432.8M524.3 426.1Q530.3 429.6 529.9 436.6M524.3 426.1Q523.0 441.5 510.6 450.7M504.2 432.8Q515.9 442.7 529.9 436.6M504.2 432.8Q511.3 440.4 510.6 450.7"/></defs>
<use href="#e36" fill="none" stroke="#e63a44" stroke-width="1.4" stroke-opacity="0.08"/>
<use href="#e36" fill="none" stroke="#e63a44" stroke-width="0.19"/>
<defs><path id="e37" d="M461.8 369.3Q453.7 360.4 442.2 357.2M461.8 369.3Q454.7 365.6 446.9 367.3M461.8 369.3Q458.9 360.8 451.9 355.3M461.8 369.3Q461.0 373.8 456.5 374.9M461.8 369.3Q451.5 363.3 439.6 362.8M461.8 369.3Q453.4 368.9 446.5 373.7M461.8 369.3Q461.6 364.6 464.2 360.8M461.8 369.3Q457.2 361.0 447.7 361.1M442.2 357.2Q445.9 361.6 446.9 367.3M442.2 357.2Q446.7 354.6 451.9 355.3M442.2 357.2Q444.6 369.9 456.5 374.9M442.2 357.2Q439.1 359.2 439.6 362.8M442.2 357.2Q445.4 358.5 447.7 361.1M442.2 357.2Q450.4 360.8 453.3 369.3M446.9 367.3Q450.9 361.9 451.9 355.3M446.9 367.3Q451.3 362.3 457.7 364.2M446.9 367.3Q453.1 369.3 456.5 374.9M446.9 367.3Q445.6 370.4 446.5 373.7M446.9 367.3Q457.2 368.5 464.2 360.8M446.9 367.3Q443.5 367.4 441.2 370.0M451.9 355.3Q452.4 365.4 446.5 373.7M451.9 355.3Q457.0 360.2 464.2 360.8M451.9 355.3Q450.9 359.0 447.7 361.1M451.9 355.3Q451.0 365.8 441.2 370.0M457.7 364.2Q461.6 359.2 459.0 353.4M457.7 364.2Q453.8 369.2 456.5 374.9M457.7 364.2Q448.2 368.8 439.6 362.8M457.7 364.2Q460.2 361.0 464.2 360.8M457.7 364.2Q453.5 360.1 447.7 361.1M457.7 364.2Q456.4 367.5 453.3 369.3M457.7 364.2Q451.0 371.3 441.2 370.0M459.0 353.4Q463.0 364.8 456.5 374.9M459.0 353.4Q458.1 366.8 446.5 373.7M459.0 353.4Q460.0 358.3 464.2 360.8M459.0 353.4Q455.2 360.0 447.7 361.1M459.0 353.4Q458.6 362.2 453.3 369.3M459.0 353.4Q444.7 355.9 441.2 370.0M456.5 374.9Q444.3 374.0 439.6 362.8M456.5 374.9Q451.9 371.3 446.5 373.7M456.5 374.9Q456.8 365.1 447.7 361.1M456.5 374.9Q447.3 377.5 441.2 370.0M439.6 362.8Q452.4 367.6 464.2 360.8M439.6 362.8Q448.0 362.8 453.3 369.3M446.5 373.7Q451.8 362.3 464.2 360.8M446.5 373.7Q451.2 373.5 453.3 369.3M446.5 373.7Q443.2 372.9 441.2 370.0M464.2 360.8Q457.0 362.7 453.3 369.3M447.7 361.1Q449.0 366.2 453.3 369.3M447.7 361.1Q447.3 367.6 441.2 370.0M453.3 369.3Q447.5 372.4 441.2 370.0"/></defs>
<use href="#e37" fill="none" stroke="#e63a44" stroke-width="1.4" stroke-opacity="0.08"/>
<use href="#e37" fill="none" stroke="#e63a44" stroke-width="0.19"/>
<defs><path id="e38" d="M521.0 367.3Q520.2 362.6 516.4 359.8M521.0 367.3Q517.8 370.8 517.9 375.5M521.0 367.3Q514.1 361.9 505.4 361.8M516.4 359.8Q519.9 367.4 517.9 375.5M516.4 359.8Q507.9 361.9 503.8 369.6M517.9 375.5Q511.8 372.9 511.1 366.3M517.9 375.5Q515.4 373.6 512.3 373.3M517.9 375.5Q520.3 373.4 523.5 372.9M511.1 366.3Q507.2 365.4 505.4 361.8M511.1 366.3Q510.9 369.9 512.3 373.3M511.1 366.3Q518.9 366.5 523.5 372.9M505.4 361.8Q512.6 370.3 523.5 372.9M512.3 373.3Q508.9 369.4 503.8 369.6M512.3 373.3Q506.1 365.2 510.4 355.9M512.3 373.3Q517.8 370.4 523.5 372.9M503.8 369.6Q502.5 360.6 510.4 355.9"/></defs>
<use href="#e38" fill="none" stroke="#e63a44" stroke-width="1.4" stroke-opacity="0.08"/>
<use href="#e38" fill="none" stroke="#e63a44" stroke-width="0.19"/>
<defs><path id="e39" d="M450.3 452.7Q440.1 453.7 434.8 444.9M450.3 452.7Q443.0 456.0 437.2 450.4M450.3 452.7Q441.6 449.8 440.6 440.7M450.3 452.7Q445.5 448.2 446.6 441.7M450.3 452.7Q452.7 449.4 456.7 448.4M450.3 452.7Q445.6 451.5 443.5 447.1M450.3 452.7Q442.2 445.3 438.4 434.9M450.3 452.7Q448.2 455.7 444.5 455.5M434.8 444.9Q437.7 446.9 437.2 450.4M434.8 444.9Q444.0 448.9 452.4 443.3M434.8 444.9Q443.1 442.0 448.8 435.1M434.8 444.9Q441.4 446.1 446.6 441.7M434.8 444.9Q439.4 444.8 443.5 447.1M434.8 444.9Q434.1 439.0 438.4 434.9M437.2 450.4Q435.6 444.4 440.6 440.7M437.2 450.4Q442.4 441.7 452.4 443.3M437.2 450.4Q438.0 439.0 448.8 435.1M437.2 450.4Q441.2 450.3 443.5 447.1M440.6 440.7Q445.8 445.1 452.4 443.3M440.6 440.7Q445.7 439.5 448.8 435.1M440.6 440.7Q443.3 442.6 446.6 441.7M440.6 440.7Q449.9 441.9 456.7 448.4M440.6 440.7Q443.2 443.4 443.5 447.1M440.6 440.7Q440.4 437.5 438.4 434.9M440.6 440.7Q444.9 447.4 444.5 455.5M452.4 443.3Q449.2 443.5 446.6 441.7M452.4 443.3Q455.5 445.1 456.7 448.4M452.4 443.3Q447.3 443.7 443.5 447.1M452.4 443.3Q443.1 443.0 438.4 434.9M452.4 443.3Q452.4 452.0 444.5 455.5M448.8 435.1Q449.6 439.1 446.6 441.7M448.8 435.1Q455.3 440.3 456.7 448.4M448.8 435.1Q450.0 446.0 444.5 455.5M446.6 441.7Q449.6 448.1 456.7 448.4M446.6 441.7Q446.4 445.2 443.5 447.1M456.7 448.4Q449.7 451.2 443.5 447.1M456.7 448.4Q444.7 445.5 438.4 434.9M456.7 448.4Q448.6 448.5 444.5 455.5M438.4 434.9Q437.1 446.5 444.5 455.5"/></defs>
<use href="#e39" fill="none" stroke="#e63a44" stroke-width="1.4" stroke-opacity="0.08"/>
<use href="#e39" fill="none" stroke="#e63a44" stroke-width="0.19"/>
<defs><path id="e40" d="M488.0 452.3Q488.4 455.6 490.6 458.1M488.0 452.3Q482.1 452.3 478.8 457.0M488.0 452.3Q489.5 458.7 494.4 463.0M488.0 452.3Q482.2 452.4 479.9 447.1M488.0 452.3Q491.0 450.9 494.1 451.9M488.0 452.3Q485.6 460.4 479.6 466.3M488.0 452.3Q481.7 448.1 474.8 451.3M490.6 458.1Q486.1 458.9 485.0 463.4M490.6 458.1Q491.9 461.0 494.4 463.0M490.6 458.1Q488.6 449.3 479.9 447.1M490.6 458.1Q493.5 455.6 494.1 451.9M490.6 458.1Q483.1 462.4 474.5 462.6M490.6 458.1Q485.2 452.8 487.4 445.6M490.6 458.1Q483.9 451.9 474.8 451.3M485.0 463.4Q481.1 461.0 478.8 457.0M485.0 463.4Q489.8 464.5 494.4 463.0M485.0 463.4Q479.6 456.1 479.9 447.1M485.0 463.4Q486.3 455.1 494.1 451.9M485.0 463.4Q479.6 465.0 474.5 462.6M485.0 463.4Q489.2 454.9 487.4 445.6M485.0 463.4Q483.3 466.7 479.6 466.3M485.0 463.4Q478.1 458.9 474.8 451.3M478.8 457.0Q485.7 462.5 494.4 463.0M478.8 457.0Q485.3 451.0 494.1 451.9M478.8 457.0Q475.6 459.1 474.5 462.6M478.8 457.0Q479.6 448.7 487.4 445.6M478.8 457.0Q477.6 461.8 479.6 466.3M478.8 457.0Q475.1 455.4 474.8 451.3M494.4 463.0Q484.7 457.3 479.9 447.1M494.4 463.0Q484.3 469.6 474.5 462.6M494.4 463.0Q487.2 455.8 487.4 445.6M494.4 463.0Q487.9 468.4 479.6 466.3M494.4 463.0Q486.5 454.0 474.8 451.3M479.9 447.1Q485.8 453.0 494.1 451.9M479.9 447.1Q475.1 454.1 474.5 462.6M479.9 447.1Q484.0 448.2 487.4 445.6M479.9 447.1Q476.8 456.6 479.6 466.3M479.9 447.1Q476.3 447.9 474.8 451.3M494.1 451.9Q487.5 463.1 474.5 462.6M494.1 451.9Q488.7 450.9 487.4 445.6M494.1 451.9Q491.5 463.7 479.6 466.3M494.1 451.9Q484.4 455.9 474.8 451.3M474.5 462.6Q486.5 458.3 487.4 445.6M487.4 445.6Q476.7 453.4 479.6 466.3M487.4 445.6Q482.8 452.2 474.8 451.3"/></defs>
<use href="#e40" fill="none" stroke="#e63a44" stroke-width="1.4" stroke-opacity="0.08"/>
<use href="#e40" fill="none" stroke="#e63a44" stroke-width="0.19"/>
<defs><path id="e41" d="M480.1 422.9Q478.4 426.0 479.9 429.2M480.1 422.9Q477.3 427.9 472.1 430.4M480.1 422.9Q482.6 426.4 486.4 428.4M480.1 422.9Q481.0 430.9 475.0 436.2M480.1 422.9Q489.0 426.1 490.1 435.5M480.1 422.9Q477.7 425.2 474.3 424.7M484.6 439.6Q479.5 435.6 479.9 429.2M484.6 439.6Q481.2 439.0 478.4 441.2M484.6 439.6Q481.9 433.4 486.4 428.4M484.6 439.6Q478.9 440.3 475.0 436.2M484.6 439.6Q488.1 438.6 490.1 435.5M484.6 439.6Q483.0 429.7 474.3 424.7M479.9 429.2Q475.7 428.0 472.1 430.4M479.9 429.2Q475.4 431.2 475.0 436.2M472.1 430.4Q472.4 437.4 478.4 441.2M472.1 430.4Q479.8 433.1 486.4 428.4M472.1 430.4Q471.9 434.1 475.0 436.2M478.4 441.2Q484.1 435.9 486.4 428.4M478.4 441.2Q478.2 437.7 475.0 436.2M478.4 441.2Q472.6 433.9 474.3 424.7M486.4 428.4Q478.7 429.3 475.0 436.2M486.4 428.4Q489.7 431.2 490.1 435.5M475.0 436.2Q482.3 431.2 490.1 435.5M475.0 436.2Q472.1 430.6 474.3 424.7"/></defs>
<use href="#e41" fill="none" stroke="#e63a44" stroke-width="1.4" stroke-opacity="0.08"/>
<use href="#e41" fill="none" stroke="#e63a44" stroke-width="0.19"/>
<defs><path id="e42" d="M427.1 417.1Q428.8 422.6 425.7 427.6M427.1 417.1Q431.2 415.2 435.3 417.0M427.1 417.1Q428.9 420.5 432.3 422.4M427.1 417.1Q423.8 419.1 421.9 422.5M427.1 417.1Q424.0 415.8 420.8 416.2M425.7 427.6Q428.2 424.0 432.3 422.4M425.7 427.6Q422.4 426.1 421.9 422.5M425.7 427.6Q423.3 418.1 430.8 411.8M435.3 417.0Q429.4 421.6 421.9 422.5M435.3 417.0Q434.7 412.9 430.8 411.8M435.3 417.0Q427.9 418.9 420.8 416.2M432.3 422.4Q427.1 419.1 421.9 422.5M432.3 422.4Q429.4 417.4 430.8 411.8M421.9 422.5Q423.5 414.8 430.8 411.8M421.9 422.5Q423.4 419.0 420.8 416.2M430.8 411.8Q427.1 417.0 420.8 416.2"/></defs>
<use href="#e42" fill="none" stroke="#e63a44" stroke-width="1.4" stroke-opacity="0.08"/>
<use href="#e42" fill="none" stroke="#e63a44" stroke-width="0.19"/>
<defs><path id="e43" d="M508.9 406.7Q519.1 410.9 527.1 403.2M508.9 406.7Q511.3 402.0 516.1 399.7M508.9 406.7Q509.9 411.0 513.8 413.1M508.9 406.7Q513.3 400.6 512.8 393.0M508.9 406.7Q507.7 402.6 509.2 398.6M508.9 406.7Q521.4 405.1 528.0 394.4M527.1 403.2Q521.2 400.2 521.6 393.6M527.1 403.2Q519.1 406.3 513.8 413.1M527.1 403.2Q522.0 395.3 512.8 393.0M527.1 403.2Q525.6 407.1 527.3 411.0M521.9 415.4Q517.1 412.9 517.5 407.4M521.9 415.4Q521.6 406.6 516.1 399.7M521.9 415.4Q525.3 414.0 527.3 411.0M517.5 407.4Q517.5 399.9 521.6 393.6M517.5 407.4Q513.4 400.8 512.8 393.0M521.6 393.6Q516.5 398.8 509.2 398.6M521.6 393.6Q530.1 400.5 527.3 411.0M521.6 393.6Q525.0 392.4 528.0 394.4M516.1 399.7Q523.6 400.6 528.0 394.4M513.8 413.1Q518.5 402.8 512.8 393.0M513.8 413.1Q508.5 406.8 509.2 398.6M513.8 413.1Q521.2 416.0 527.3 411.0M512.8 393.0Q520.0 398.7 528.0 394.4M509.2 398.6Q521.5 400.1 527.3 411.0M509.2 398.6Q519.4 400.1 528.0 394.4"/></defs>
<use href="#e43" fill="none" stroke="#e63a44" stroke-width="1.4" stroke-opacity="0.08"/>
<use href="#e43" fill="none" stroke="#e63a44" stroke-width="0.19"/>
<defs><path id="e44" d="M475.4 355.8Q471.4 352.9 471.8 348.0M475.4 355.8Q482.7 353.7 484.7 346.3M482.2 352.7Q482.0 349.1 478.6 347.7M482.2 352.7Q475.6 353.4 471.8 348.0M482.2 352.7Q485.0 350.1 484.7 346.3M478.6 347.7Q475.3 349.5 471.8 348.0M478.6 347.7Q481.9 348.2 484.7 346.3M471.8 348.0Q478.8 351.0 484.7 346.3"/></defs>
<use href="#e44" fill="none" stroke="#e63a44" stroke-width="1.4" stroke-opacity="0.08"/>
<use href="#e44" fill="none" stroke="#e63a44" stroke-width="0.19"/>
<defs><path id="e45" d="M477.9 408.8Q474.9 401.6 467.6 399.0M477.9 408.8Q482.8 406.1 483.1 400.6M477.9 408.8Q478.8 403.9 475.8 399.8M477.9 408.8Q480.0 415.9 486.8 418.7M477.9 408.8Q475.1 412.4 476.5 416.7M458.3 437.3Q454.3 439.2 452.4 443.3M458.3 437.3Q455.1 442.5 456.7 448.4M458.3 437.3Q455.8 430.1 448.8 427.1M458.3 437.3Q463.9 436.5 467.8 440.5M458.3 437.3Q459.4 431.0 455.9 425.7M458.3 437.3Q463.6 440.9 464.9 447.2M463.7 411.0Q464.4 414.9 467.9 416.7M453.4 392.4Q452.5 385.8 447.3 381.7M453.4 392.4Q455.9 388.8 454.0 384.9M450.0 409.3Q444.3 411.1 442.1 416.7M450.8 399.7Q444.8 395.4 443.2 388.1M450.8 399.7Q443.0 400.6 437.4 395.0M450.8 399.7Q448.0 391.4 454.0 384.9M458.4 417.0Q463.1 414.3 467.9 416.7M458.4 417.0Q454.7 420.6 455.9 425.7M445.1 397.8Q442.0 394.2 437.4 395.0M445.1 397.8Q443.1 401.5 439.0 402.6M445.1 397.8Q451.6 392.8 454.0 384.9M445.3 404.6Q441.6 405.3 439.0 402.6M463.5 393.5Q464.4 387.4 461.0 382.1M463.5 393.5Q467.3 393.8 470.0 391.0M466.2 405.1Q465.6 397.4 470.0 391.0M449.2 416.5Q451.2 421.9 448.8 427.1M449.2 416.5Q445.7 418.0 442.1 416.7M449.2 416.5Q454.4 419.7 455.9 425.7M456.6 410.1Q464.1 410.3 467.9 416.7M442.1 409.9Q435.9 407.7 430.8 411.8M442.1 409.9Q433.7 407.6 431.4 399.2M442.1 409.9Q443.8 401.1 437.4 395.0M442.1 409.9Q439.4 406.7 439.0 402.6M442.1 409.9Q443.9 413.3 442.1 416.7M467.6 399.0Q475.1 402.6 483.1 400.6M467.6 399.0Q470.3 395.5 470.0 391.0M516.1 443.1Q519.3 449.1 516.1 455.1M524.0 433.0Q528.2 423.6 521.9 415.4M524.0 433.0Q527.2 426.8 534.1 426.4M501.5 440.4Q496.9 435.4 490.1 435.5M501.5 440.4Q502.8 444.3 501.6 448.2M501.5 440.4Q501.7 434.6 496.8 431.4M520.3 449.3Q519.3 453.0 516.1 455.1M510.7 427.3Q501.8 428.0 495.5 421.6M510.7 427.3Q503.7 423.8 501.2 416.4M510.7 427.3Q508.3 423.1 509.8 418.6M510.7 427.3Q502.6 425.7 496.8 431.4M517.0 426.0Q521.2 421.5 521.9 415.4M510.7 433.8Q510.3 443.6 501.6 448.2M510.7 433.8Q504.1 430.2 496.8 431.4M517.4 434.1Q517.7 424.4 509.8 418.6M508.1 444.5Q505.9 448.2 501.6 448.2M508.1 444.5Q501.1 446.5 494.8 442.7M524.3 426.1Q520.9 421.3 521.9 415.4M524.3 426.1Q529.2 427.8 534.1 426.4M524.3 426.1Q519.3 418.0 509.8 418.6M504.2 432.8Q497.7 437.3 490.1 435.5M504.2 432.8Q502.0 429.4 502.2 425.3M510.6 450.7Q510.4 454.3 507.8 456.8M461.8 369.3Q465.9 369.3 468.5 372.6M461.8 369.3Q454.8 375.6 454.0 384.9M446.9 367.3Q442.8 375.3 434.7 379.1M459.0 353.4Q463.6 356.3 468.5 353.8M456.5 374.9Q461.5 382.2 470.3 381.7M456.5 374.9Q459.9 377.8 461.0 382.1M446.5 373.7Q439.7 374.4 434.7 379.1M446.5 373.7Q447.9 381.6 443.2 388.1M446.5 373.7Q448.0 380.7 454.0 384.9M464.2 360.8Q467.2 353.7 465.2 346.3M453.3 369.3Q461.4 368.6 468.5 372.6M453.3 369.3Q452.6 376.6 447.3 381.7M441.2 370.0Q442.3 376.9 447.3 381.7M441.2 370.0Q439.4 375.6 434.7 379.1M521.0 367.3Q522.1 375.6 518.0 382.8M517.9 375.5Q516.4 379.2 518.0 382.8M517.9 375.5Q520.5 383.8 528.9 385.4M512.3 373.3Q507.2 376.4 505.9 382.2M503.8 369.6Q501.7 365.8 497.4 365.2M503.8 369.6Q501.9 373.6 497.5 374.0M523.5 372.9Q522.7 378.9 518.0 382.8M523.5 372.9Q530.5 373.6 535.0 379.0M523.5 372.9Q527.3 371.3 531.1 372.9M450.3 452.7Q453.3 456.0 452.0 460.4M440.6 440.7Q439.6 433.7 434.1 429.4M452.4 443.3Q452.0 452.2 459.3 457.4M452.4 443.3Q459.5 438.6 467.8 440.5M452.4 443.3Q459.2 443.4 464.9 447.2M448.8 435.1Q447.5 428.3 441.8 424.1M448.8 435.1Q450.4 431.1 448.8 427.1M456.7 448.4Q460.1 441.5 467.8 440.5M456.7 448.4Q460.4 445.7 464.9 447.2M438.4 434.9Q437.9 428.8 441.8 424.1M438.4 434.9Q437.4 431.2 434.1 429.4M488.0 452.3Q492.3 459.7 500.8 460.5M478.8 457.0Q473.6 463.5 465.3 463.6M478.8 457.0Q472.3 458.7 466.9 454.7M494.4 463.0Q497.1 460.4 500.8 460.5M479.9 447.1Q479.6 440.6 475.0 436.2M479.9 447.1Q488.2 447.6 494.8 442.7M494.1 451.9Q498.7 451.8 501.6 448.2M494.1 451.9Q502.0 451.4 507.8 456.8M474.5 462.6Q472.9 456.5 466.9 454.7M487.4 445.6Q487.7 441.8 484.6 439.6M487.4 445.6Q481.6 446.1 478.4 441.2M487.4 445.6Q489.7 436.8 486.4 428.4M487.4 445.6Q495.2 443.1 501.6 448.2M487.4 445.6Q491.9 446.0 494.8 442.7M474.8 451.3Q474.7 445.6 478.4 441.2M474.8 451.3Q467.2 455.2 465.3 463.6M474.8 451.3Q471.5 454.5 466.9 454.7M474.8 451.3Q468.7 452.0 464.9 447.2M480.1 422.9Q488.1 425.6 495.5 421.6M480.1 422.9Q479.4 419.1 476.5 416.7M479.9 429.2Q489.1 428.2 495.5 421.6M472.1 430.4Q467.7 427.4 462.8 429.4M472.1 430.4Q467.2 424.4 467.9 416.7M486.4 428.4Q488.1 423.6 486.8 418.7M486.4 428.4Q492.5 426.9 496.8 431.4M475.0 436.2Q470.0 430.8 462.8 429.4M490.1 435.5Q494.4 435.0 496.8 431.4M490.1 435.5Q494.5 428.4 502.2 425.3M474.3 424.7Q472.3 419.7 467.9 416.7M474.3 424.7Q473.3 420.1 476.5 416.7M427.1 417.1Q428.0 412.2 424.8 408.5M425.7 427.6Q427.5 431.5 425.8 435.5M425.7 427.6Q429.4 430.7 434.1 429.4M435.3 417.0Q437.3 421.7 441.8 424.1M435.3 417.0Q431.4 411.1 424.8 408.5M435.3 417.0Q434.2 409.0 439.0 402.6M435.3 417.0Q438.6 414.9 442.1 416.7M435.3 417.0Q438.0 423.5 434.1 429.4M432.3 422.4Q435.0 425.4 434.1 429.4M421.9 422.5Q420.8 429.9 425.8 435.5M421.9 422.5Q427.2 416.3 424.8 408.5M430.8 411.8Q438.6 415.9 441.8 424.1M430.8 411.8Q426.9 411.8 424.8 408.5M420.8 416.2Q416.5 409.1 420.3 401.8M420.8 416.2Q420.5 411.2 424.8 408.5M508.9 406.7Q501.5 402.2 499.5 393.8M508.9 406.7Q507.3 412.8 509.8 418.6M508.9 406.7Q505.4 407.0 502.7 409.3M527.1 403.2Q531.5 409.7 529.5 417.4M521.9 415.4Q525.3 417.9 529.5 417.4M517.5 407.4Q515.5 414.3 509.8 418.6M521.6 393.6Q526.6 390.7 528.9 385.4M521.6 393.6Q528.8 388.5 537.6 388.3M513.8 413.1Q510.4 414.8 509.8 418.6M513.8 413.1Q507.6 413.2 502.7 409.3M512.8 393.0Q513.4 386.9 518.0 382.8M512.8 393.0Q511.2 386.4 505.9 382.2M512.8 393.0Q508.6 392.7 505.6 389.7M509.2 398.6Q501.8 398.5 496.5 403.8M509.2 398.6Q508.8 405.7 502.7 409.3M527.3 411.0Q526.6 414.8 529.5 417.4M527.3 411.0Q534.0 412.4 536.7 418.7M528.0 394.4Q519.6 391.5 518.0 382.8M528.0 394.4Q532.4 397.6 537.8 397.5M528.0 394.4Q534.2 393.5 537.6 388.3M475.4 355.8Q474.2 360.4 477.3 364.1M475.4 355.8Q482.4 357.4 485.7 363.8M478.6 347.7Q480.7 356.1 477.3 364.1M478.6 347.7Q471.5 350.9 465.2 346.3M471.8 348.0Q469.2 350.4 468.5 353.8M471.8 348.0Q468.8 345.9 465.2 346.3M484.7 346.3Q484.6 351.9 488.9 355.6M484.7 346.3Q490.6 345.5 495.6 348.6M484.7 346.3Q488.5 354.8 485.7 363.8M499.5 393.8Q495.6 391.6 493.7 387.6M499.5 393.8Q505.1 389.3 505.9 382.2M499.5 393.8Q504.0 400.9 502.7 409.3M496.5 403.8Q488.9 406.1 483.1 400.6M496.5 403.8Q495.3 408.3 490.9 409.5M459.3 457.4Q464.1 458.8 465.3 463.6M459.3 457.4Q462.6 454.6 466.9 454.7M459.3 457.4Q459.5 450.9 464.9 447.2M479.6 383.9Q476.8 380.1 477.8 375.4M479.6 383.9Q481.2 388.6 478.2 392.6M495.5 421.6Q499.4 420.1 501.2 416.4M495.5 421.6Q491.3 416.3 490.9 409.5M495.5 421.6Q498.5 426.2 496.8 431.4M424.0 379.7Q429.2 376.2 434.7 379.1M483.1 400.6Q482.7 395.3 478.2 392.6M483.1 400.6Q475.3 406.8 476.5 416.7M447.3 381.7Q454.3 378.3 461.0 382.1M447.3 381.7Q438.7 385.6 437.4 395.0M447.3 381.7Q439.7 381.0 435.2 387.1M465.3 463.6Q463.6 458.7 466.9 454.7M470.3 381.7Q465.7 383.4 461.0 382.1M470.3 381.7Q471.8 386.4 470.0 391.0M518.0 382.8Q522.9 386.4 528.9 385.4M528.9 385.4Q532.1 379.5 531.1 372.9M528.9 385.4Q525.5 383.4 524.5 379.5M528.9 385.4Q532.5 389.4 537.6 388.3M534.1 426.4Q530.3 422.6 529.5 417.4M488.9 355.6Q494.9 351.8 501.2 355.0M488.9 355.6Q490.3 350.3 495.6 348.6M488.9 355.6Q485.2 358.9 485.7 363.8M501.2 416.4Q504.8 420.0 509.8 418.6M501.2 416.4Q499.5 421.1 502.2 425.3M466.9 454.7Q463.9 451.5 464.9 447.2M448.8 427.1Q443.2 423.3 442.1 416.7M448.8 427.1Q441.9 431.3 434.1 429.4M501.2 355.0Q496.6 353.4 495.6 348.6M501.2 355.0Q502.2 361.2 497.4 365.2M500.8 460.5Q503.6 457.3 507.8 456.8M500.8 460.5Q509.8 461.7 516.1 455.1M497.8 381.3Q497.4 385.5 493.7 387.6M497.8 381.3Q501.7 383.2 505.9 382.2M477.3 364.1Q475.6 369.8 477.8 375.4M477.3 364.1Q470.6 360.9 468.5 353.8M420.3 401.8Q424.5 403.8 424.8 408.5M420.3 401.8Q422.9 397.4 420.3 393.1M425.8 435.5Q431.6 434.8 434.1 429.4M431.4 399.2Q433.2 395.4 437.4 395.0M431.4 399.2Q426.0 402.3 424.8 408.5M431.4 399.2Q424.3 399.0 420.3 393.1M535.0 379.0Q531.4 377.0 531.1 372.9M535.0 379.0Q529.9 381.3 524.5 379.5M535.0 379.0Q534.6 384.1 537.6 388.3M493.7 387.6Q492.0 383.0 487.2 381.5M493.7 387.6Q501.3 388.2 505.9 382.2M493.7 387.6Q489.4 388.6 487.5 392.7M493.7 387.6Q491.9 379.7 497.5 374.0M536.3 411.3Q531.8 413.1 529.5 417.4M536.3 411.3Q534.7 404.2 537.8 397.5M536.3 411.3Q538.0 414.9 536.7 418.7M529.5 417.4Q533.5 416.0 536.7 418.7M426.7 389.2Q431.5 390.3 435.2 387.1M426.7 389.2Q424.2 392.3 420.3 393.1M537.8 397.5Q535.5 392.9 537.6 388.3M443.2 388.1Q439.4 386.3 435.2 387.1M443.2 388.1Q449.2 388.7 454.0 384.9M477.8 375.4Q485.9 376.0 490.7 369.3M477.8 375.4Q479.4 368.0 485.7 363.8M467.9 416.7Q464.2 424.3 455.9 425.7M507.8 456.8Q511.6 454.4 516.1 455.1M461.0 382.1Q467.3 384.7 470.0 391.0M461.0 382.1Q457.0 382.3 454.0 384.9M478.2 392.6Q475.1 395.6 475.8 399.8M490.7 369.3Q486.3 374.7 487.2 381.5M490.7 369.3Q493.2 365.9 497.4 365.2M490.7 369.3Q487.1 367.6 485.7 363.8M531.1 372.9Q526.6 375.0 524.5 379.5M487.2 381.5Q490.8 375.6 497.5 374.0M509.8 418.6Q507.3 423.4 502.2 425.3M487.5 392.7Q480.2 393.9 475.8 399.8M475.8 399.8Q471.4 396.4 470.0 391.0M437.4 395.0Q438.6 390.4 435.2 387.1M497.4 365.2Q491.8 362.2 485.7 363.8M494.8 442.7Q494.1 436.8 496.8 431.4M486.8 418.7Q482.0 416.0 476.5 416.7M496.8 431.4Q500.8 429.5 502.2 425.3M524.5 379.5Q529.0 387.1 537.6 388.3M442.1 416.7Q434.5 420.7 434.1 429.4M524.0 433.0Q521.5 454.5 500.8 460.5"/></defs>
<use href="#e45" fill="none" stroke="#e63a44" stroke-width="1.4" stroke-opacity="0.09"/>
<use href="#e45" fill="none" stroke="#e63a44" stroke-width="0.19"/>
<circle cx="477.9" cy="408.8" r="1.10" fill="#e81c24"/>
<circle cx="458.3" cy="437.3" r="1.10" fill="#e81c24"/>
<circle cx="463.7" cy="411.0" r="1.78" fill="#2145a6"/>
<circle cx="461.3" cy="401.0" r="1.58" fill="#2145a6"/>
<circle cx="453.4" cy="392.4" r="1.60" fill="#2145a6"/>
<circle cx="450.0" cy="409.3" r="1.86" fill="#2145a6"/>
<circle cx="450.8" cy="399.7" r="1.73" fill="#2145a6"/>
<circle cx="458.4" cy="417.0" r="1.65" fill="#2145a6"/>
<circle cx="445.1" cy="397.8" r="1.54" fill="#2145a6"/>
<circle cx="445.3" cy="404.6" r="1.75" fill="#2145a6"/>
<circle cx="463.5" cy="393.5" r="1.48" fill="#2145a6"/>
<circle cx="466.2" cy="405.1" r="1.93" fill="#2145a6"/>
<circle cx="449.2" cy="416.5" r="1.74" fill="#2145a6"/>
<circle cx="456.6" cy="410.1" r="1.89" fill="#2145a6"/>
<circle cx="442.1" cy="409.9" r="1.89" fill="#2145a6"/>
<circle cx="467.6" cy="399.0" r="1.56" fill="#2145a6"/>
<circle cx="516.1" cy="443.1" r="1.59" fill="#2145a6"/>
<circle cx="524.0" cy="433.0" r="1.71" fill="#a8509f"/>
<circle cx="501.5" cy="440.4" r="1.56" fill="#a8509f"/>
<circle cx="520.3" cy="449.3" r="1.42" fill="#a8509f"/>
<circle cx="510.7" cy="427.3" r="1.59" fill="#a8509f"/>
<circle cx="517.0" cy="426.0" r="1.80" fill="#2145a6"/>
<circle cx="523.3" cy="442.0" r="1.36" fill="#a8509f"/>
<circle cx="510.7" cy="433.8" r="1.42" fill="#a8509f"/>
<circle cx="517.4" cy="434.1" r="1.66" fill="#a8509f"/>
<circle cx="508.1" cy="444.5" r="1.67" fill="#a8509f"/>
<circle cx="524.3" cy="426.1" r="1.77" fill="#a8509f"/>
<circle cx="504.2" cy="432.8" r="1.67" fill="#a8509f"/>
<circle cx="529.9" cy="436.6" r="1.50" fill="#a8509f"/>
<circle cx="510.6" cy="450.7" r="1.56" fill="#a8509f"/>
<circle cx="461.8" cy="369.3" r="1.47" fill="#2145a6"/>
<circle cx="442.2" cy="357.2" r="1.24" fill="#2145a6"/>
<circle cx="446.9" cy="367.3" r="1.39" fill="#2145a6"/>
<circle cx="451.9" cy="355.3" r="1.29" fill="#2145a6"/>
<circle cx="457.7" cy="364.2" r="1.21" fill="#2145a6"/>
<circle cx="459.0" cy="353.4" r="1.22" fill="#2145a6"/>
<circle cx="456.5" cy="374.9" r="1.21" fill="#2145a6"/>
<circle cx="439.6" cy="362.8" r="1.48" fill="#2145a6"/>
<circle cx="446.5" cy="373.7" r="1.43" fill="#2145a6"/>
<circle cx="464.2" cy="360.8" r="1.12" fill="#2145a6"/>
<circle cx="447.7" cy="361.1" r="1.44" fill="#2145a6"/>
<circle cx="453.3" cy="369.3" r="1.26" fill="#2145a6"/>
<circle cx="441.2" cy="370.0" r="1.49" fill="#2145a6"/>
<circle cx="521.0" cy="367.3" r="1.28" fill="#2145a6"/>
<circle cx="516.4" cy="359.8" r="1.21" fill="#2145a6"/>
<circle cx="517.9" cy="375.5" r="1.32" fill="#2145a6"/>
<circle cx="511.1" cy="366.3" r="1.04" fill="#2145a6"/>
<circle cx="505.4" cy="361.8" r="1.17" fill="#2145a6"/>
<circle cx="512.3" cy="373.3" r="1.06" fill="#2145a6"/>
<circle cx="503.8" cy="369.6" r="1.13" fill="#2145a6"/>
<circle cx="510.4" cy="355.9" r="1.29" fill="#2145a6"/>
<circle cx="523.5" cy="372.9" r="1.27" fill="#2145a6"/>
<circle cx="450.3" cy="452.7" r="1.02" fill="#2145a6"/>
<circle cx="434.8" cy="444.9" r="1.30" fill="#2145a6"/>
<circle cx="437.2" cy="450.4" r="1.10" fill="#2145a6"/>
<circle cx="440.6" cy="440.7" r="1.17" fill="#2145a6"/>
<circle cx="452.4" cy="443.3" r="1.16" fill="#2145a6"/>
<circle cx="448.8" cy="435.1" r="1.02" fill="#2145a6"/>
<circle cx="446.6" cy="441.7" r="1.02" fill="#2145a6"/>
<circle cx="456.7" cy="448.4" r="1.03" fill="#2145a6"/>
<circle cx="443.5" cy="447.1" r="1.19" fill="#2145a6"/>
<circle cx="438.4" cy="434.9" r="1.17" fill="#2145a6"/>
<circle cx="444.5" cy="455.5" r="1.08" fill="#2145a6"/>
<circle cx="488.0" cy="452.3" r="1.38" fill="#2145a6"/>
<circle cx="490.6" cy="458.1" r="1.09" fill="#2145a6"/>
<circle cx="485.0" cy="463.4" r="1.13" fill="#2145a6"/>
<circle cx="478.8" cy="457.0" r="1.25" fill="#2145a6"/>
<circle cx="494.4" cy="463.0" r="1.10" fill="#2145a6"/>
<circle cx="479.9" cy="447.1" r="1.29" fill="#2145a6"/>
<circle cx="494.1" cy="451.9" r="1.19" fill="#2145a6"/>
<circle cx="474.5" cy="462.6" r="1.27" fill="#2145a6"/>
<circle cx="487.4" cy="445.6" r="1.34" fill="#2145a6"/>
<circle cx="479.6" cy="466.3" r="1.13" fill="#2145a6"/>
<circle cx="474.8" cy="451.3" r="1.30" fill="#2145a6"/>
<circle cx="480.1" cy="422.9" r="1.25" fill="#2145a6"/>
<circle cx="484.6" cy="439.6" r="0.95" fill="#2145a6"/>
<circle cx="479.9" cy="429.2" r="0.97" fill="#2145a6"/>
<circle cx="472.1" cy="430.4" r="1.01" fill="#2145a6"/>
<circle cx="478.4" cy="441.2" r="1.20" fill="#2145a6"/>
<circle cx="486.4" cy="428.4" r="1.15" fill="#2145a6"/>
<circle cx="475.0" cy="436.2" r="1.07" fill="#2145a6"/>
<circle cx="490.1" cy="435.5" r="1.24" fill="#2145a6"/>
<circle cx="474.3" cy="424.7" r="1.07" fill="#2145a6"/>
<circle cx="427.1" cy="417.1" r="1.08" fill="#2145a6"/>
<circle cx="425.7" cy="427.6" r="1.26" fill="#2145a6"/>
<circle cx="435.3" cy="417.0" r="1.09" fill="#2145a6"/>
<circle cx="432.3" cy="422.4" r="0.98" fill="#2145a6"/>
<circle cx="421.9" cy="422.5" r="1.16" fill="#2145a6"/>
<circle cx="430.8" cy="411.8" r="1.22" fill="#2145a6"/>
<circle cx="420.8" cy="416.2" r="0.97" fill="#2145a6"/>
<circle cx="508.9" cy="406.7" r="1.32" fill="#2145a6"/>
<circle cx="527.1" cy="403.2" r="1.24" fill="#2145a6"/>
<circle cx="521.9" cy="415.4" r="1.35" fill="#a8509f"/>
<circle cx="517.5" cy="407.4" r="1.28" fill="#2145a6"/>
<circle cx="521.6" cy="393.6" r="1.14" fill="#a8509f"/>
<circle cx="516.1" cy="399.7" r="1.35" fill="#a8509f"/>
<circle cx="513.8" cy="413.1" r="1.16" fill="#2145a6"/>
<circle cx="512.8" cy="393.0" r="1.27" fill="#a8509f"/>
<circle cx="509.2" cy="398.6" r="1.09" fill="#2145a6"/>
<circle cx="527.3" cy="411.0" r="1.04" fill="#2145a6"/>
<circle cx="528.0" cy="394.4" r="1.28" fill="#a8509f"/>
<circle cx="475.4" cy="355.8" r="1.00" fill="#2145a6"/>
<circle cx="482.2" cy="352.7" r="1.12" fill="#2145a6"/>
<circle cx="478.6" cy="347.7" r="1.04" fill="#2145a6"/>
<circle cx="471.8" cy="348.0" r="1.06" fill="#2145a6"/>
<circle cx="484.7" cy="346.3" r="1.22" fill="#2145a6"/>
<circle cx="499.5" cy="393.8" r="1.21" fill="#2145a6"/>
<circle cx="468.5" cy="372.6" r="1.07" fill="#2145a6"/>
<circle cx="496.5" cy="403.8" r="1.00" fill="#2145a6"/>
<circle cx="459.3" cy="457.4" r="1.29" fill="#2145a6"/>
<circle cx="479.6" cy="383.9" r="0.92" fill="#2145a6"/>
<circle cx="495.5" cy="421.6" r="1.30" fill="#2145a6"/>
<circle cx="424.0" cy="379.7" r="1.30" fill="#2145a6"/>
<circle cx="483.1" cy="400.6" r="1.25" fill="#2145a6"/>
<circle cx="447.3" cy="381.7" r="0.93" fill="#2145a6"/>
<circle cx="465.3" cy="463.6" r="0.99" fill="#2145a6"/>
<circle cx="470.3" cy="381.7" r="1.19" fill="#2145a6"/>
<circle cx="518.0" cy="382.8" r="1.19" fill="#2145a6"/>
<circle cx="528.9" cy="385.4" r="1.19" fill="#2145a6"/>
<circle cx="441.8" cy="424.1" r="1.07" fill="#2145a6"/>
<circle cx="534.1" cy="426.4" r="1.31" fill="#2145a6"/>
<circle cx="488.9" cy="355.6" r="0.91" fill="#2145a6"/>
<circle cx="452.0" cy="460.4" r="1.29" fill="#2145a6"/>
<circle cx="501.2" cy="416.4" r="1.19" fill="#2145a6"/>
<circle cx="466.9" cy="454.7" r="0.92" fill="#2145a6"/>
<circle cx="448.8" cy="427.1" r="1.06" fill="#2145a6"/>
<circle cx="501.2" cy="355.0" r="1.22" fill="#2145a6"/>
<circle cx="462.8" cy="429.4" r="1.16" fill="#2145a6"/>
<circle cx="500.8" cy="460.5" r="1.26" fill="#2145a6"/>
<circle cx="497.8" cy="381.3" r="1.32" fill="#2145a6"/>
<circle cx="477.3" cy="364.1" r="0.96" fill="#2145a6"/>
<circle cx="490.9" cy="409.5" r="0.97" fill="#2145a6"/>
<circle cx="420.3" cy="401.8" r="1.10" fill="#2145a6"/>
<circle cx="425.8" cy="435.5" r="1.19" fill="#2145a6"/>
<circle cx="431.4" cy="399.2" r="1.23" fill="#2145a6"/>
<circle cx="535.0" cy="379.0" r="1.29" fill="#2145a6"/>
<circle cx="493.7" cy="387.6" r="1.17" fill="#2145a6"/>
<circle cx="536.3" cy="411.3" r="1.21" fill="#2145a6"/>
<circle cx="434.7" cy="379.1" r="1.21" fill="#2145a6"/>
<circle cx="529.5" cy="417.4" r="1.33" fill="#2145a6"/>
<circle cx="501.6" cy="448.2" r="0.92" fill="#2145a6"/>
<circle cx="426.7" cy="389.2" r="0.99" fill="#2145a6"/>
<circle cx="537.8" cy="397.5" r="1.32" fill="#2145a6"/>
<circle cx="495.6" cy="348.6" r="0.90" fill="#2145a6"/>
<circle cx="536.7" cy="418.7" r="1.05" fill="#2145a6"/>
<circle cx="443.2" cy="388.1" r="1.19" fill="#2145a6"/>
<circle cx="477.8" cy="375.4" r="1.29" fill="#2145a6"/>
<circle cx="467.9" cy="416.7" r="0.93" fill="#2145a6"/>
<circle cx="507.8" cy="456.8" r="0.94" fill="#2145a6"/>
<circle cx="461.0" cy="382.1" r="1.23" fill="#2145a6"/>
<circle cx="478.2" cy="392.6" r="1.04" fill="#2145a6"/>
<circle cx="490.7" cy="369.3" r="1.33" fill="#2145a6"/>
<circle cx="531.1" cy="372.9" r="0.97" fill="#2145a6"/>
<circle cx="487.2" cy="381.5" r="0.92" fill="#2145a6"/>
<circle cx="467.8" cy="440.5" r="0.91" fill="#2145a6"/>
<circle cx="509.8" cy="418.6" r="1.17" fill="#2145a6"/>
<circle cx="505.9" cy="382.2" r="1.31" fill="#2145a6"/>
<circle cx="487.5" cy="392.7" r="1.18" fill="#2145a6"/>
<circle cx="475.8" cy="399.8" r="1.33" fill="#2145a6"/>
<circle cx="437.4" cy="395.0" r="1.14" fill="#2145a6"/>
<circle cx="497.4" cy="365.2" r="1.09" fill="#2145a6"/>
<circle cx="494.8" cy="442.7" r="1.17" fill="#2145a6"/>
<circle cx="486.8" cy="418.7" r="1.30" fill="#2145a6"/>
<circle cx="424.8" cy="408.5" r="1.01" fill="#2145a6"/>
<circle cx="435.2" cy="387.1" r="1.16" fill="#2145a6"/>
<circle cx="470.0" cy="391.0" r="0.91" fill="#2145a6"/>
<circle cx="468.5" cy="353.8" r="0.93" fill="#2145a6"/>
<circle cx="516.1" cy="455.1" r="1.13" fill="#2145a6"/>
<circle cx="439.0" cy="402.6" r="1.06" fill="#2145a6"/>
<circle cx="431.9" cy="369.8" r="1.31" fill="#2145a6"/>
<circle cx="541.7" cy="404.2" r="1.02" fill="#2145a6"/>
<circle cx="497.5" cy="374.0" r="1.12" fill="#2145a6"/>
<circle cx="496.8" cy="431.4" r="1.28" fill="#2145a6"/>
<circle cx="485.7" cy="363.8" r="1.25" fill="#2145a6"/>
<circle cx="524.5" cy="379.5" r="1.07" fill="#2145a6"/>
<circle cx="502.2" cy="425.3" r="1.33" fill="#2145a6"/>
<circle cx="476.5" cy="416.7" r="1.31" fill="#2145a6"/>
<circle cx="442.1" cy="416.7" r="1.32" fill="#2145a6"/>
<circle cx="537.6" cy="388.3" r="0.96" fill="#2145a6"/>
<circle cx="420.3" cy="393.1" r="1.07" fill="#2145a6"/>
<circle cx="455.9" cy="425.7" r="1.32" fill="#2145a6"/>
<circle cx="505.6" cy="389.7" r="1.31" fill="#2145a6"/>
<circle cx="454.0" cy="384.9" r="1.03" fill="#2145a6"/>
<circle cx="434.1" cy="429.4" r="1.04" fill="#2145a6"/>
<circle cx="464.9" cy="447.2" r="0.90" fill="#2145a6"/>
<circle cx="465.2" cy="346.3" r="1.35" fill="#2145a6"/>
<circle cx="502.7" cy="409.3" r="1.28" fill="#2145a6"/>
<text x="6.6" y="13.8" font-size="11" font-weight="bold">(a)</text>
<text x="6.6" y="161.8" font-size="11">(b)</text>
<text x="8.2" y="333.2" font-size="10.6" font-weight="bold">(c)</text>
<text x="8.2" y="485.7" font-size="11">(d)</text>
<circle cx="141.2" cy="8.8" r="2.7" fill="#e81c24"/>
<text x="148.2" y="11.6" font-size="7.3">Network hubs</text>
<circle cx="207.3" cy="8.8" r="2.7" fill="#a8509f"/>
<text x="213.7" y="11.6" font-size="7.3">Module hubs</text>
<circle cx="270" cy="8.8" r="2.7" fill="#1f4b9c"/>
<text x="276.9" y="11.6" font-size="7.3">Connectors</text>
<line x1="325.4" y1="11.6" x2="363.8" y2="11.6" stroke="#e81c24" stroke-width="1.5"/>
<text x="368.5" y="11.6" font-size="7.2">Positive correlation</text>
<circle cx="137.5" cy="329.3" r="2.7" fill="#e81c24"/>
<text x="145" y="332.6" font-size="7.3">Network hubs</text>
<circle cx="203.5" cy="329.3" r="2.7" fill="#a8509f"/>
<text x="210" y="332.6" font-size="7.3">Module hubs</text>
<circle cx="266.3" cy="329.3" r="2.7" fill="#1f4b9c"/>
<text x="274" y="332.6" font-size="7.3">Connectors</text>
<line x1="322.1" y1="332.0" x2="359.7" y2="332.0" stroke="#e81c24" stroke-width="1.5"/>
<text x="365.3" y="332.6" font-size="7.2">Positive correlation</text>
<text x="51.8" y="162.9" font-size="8.4" font-family='"Liberation Sans", sans-serif' textLength="44.5" lengthAdjust="spacingAndGlyphs">Hospital (H)</text>
<text x="159" y="162.9" font-size="8.4" font-family='"Liberation Sans", sans-serif' textLength="100.0" lengthAdjust="spacingAndGlyphs">Sewage treatment plant (S)</text>
<text x="331" y="162.9" font-size="8.4" font-family='"Liberation Sans", sans-serif' textLength="29.0" lengthAdjust="spacingAndGlyphs">Zoo (Z)</text>
<text x="446.5" y="162.9" font-size="8.4" font-family='"Liberation Sans", sans-serif' textLength="77.0" lengthAdjust="spacingAndGlyphs">Agricultural (A=CK)</text>
<text x="46" y="483.3" font-size="8.4" font-family='"Liberation Sans", sans-serif' textLength="45.0" lengthAdjust="spacingAndGlyphs">Hospital (H)</text>
<text x="155" y="483.3" font-size="8.4" font-family='"Liberation Sans", sans-serif' textLength="100.0" lengthAdjust="spacingAndGlyphs">Sewage treatment plant (S)</text>
<text x="326.5" y="483.3" font-size="8.4" font-family='"Liberation Sans", sans-serif' textLength="29.5" lengthAdjust="spacingAndGlyphs">Zoo (Z)</text>
<text x="446" y="483.3" font-size="8.4" font-family='"Liberation Sans", sans-serif' textLength="77.5" lengthAdjust="spacingAndGlyphs">Agricultural (A=CK)</text>
<rect x="28.20" y="219.90" width="16.50" height="57.50" fill="#ede93b" stroke="#8a8a3a" stroke-width="0.5"/>
<line x1="36.45" y1="277.40" x2="36.45" y2="278.90" stroke="#555" stroke-width="0.5"/>
<text x="36.45" y="287.80" font-size="9.8" text-anchor="middle">H</text>
<rect x="48.70" y="190.60" width="16.70" height="86.80" fill="#a8509f" stroke="#6a3a66" stroke-width="0.5"/>
<line x1="57.05" y1="277.40" x2="57.05" y2="278.90" stroke="#555" stroke-width="0.5"/>
<text x="57.05" y="287.80" font-size="9.8" text-anchor="middle">S</text>
<rect x="69.80" y="240.20" width="17.00" height="37.20" fill="#1f4b9c" stroke="#1a3570" stroke-width="0.5"/>
<line x1="78.30" y1="277.40" x2="78.30" y2="278.90" stroke="#555" stroke-width="0.5"/>
<text x="78.30" y="287.80" font-size="9.8" text-anchor="middle">Z</text>
<rect x="91.00" y="258.30" width="17.00" height="19.10" fill="#e81c24" stroke="#b0161c" stroke-width="0.5"/>
<line x1="99.50" y1="277.40" x2="99.50" y2="278.90" stroke="#555" stroke-width="0.5"/>
<text x="99.50" y="287.80" font-size="9.8" text-anchor="middle">A</text>
<path d="M25.30 180.00V277.40H108.50" fill="none" stroke="#555" stroke-width="0.8"/>
<line x1="23.70" y1="277.40" x2="25.30" y2="277.40" stroke="#555" stroke-width="0.5"/>
<text x="23.00" y="279.15" font-size="5.2" text-anchor="end">0</text>
<line x1="23.70" y1="262.30" x2="25.30" y2="262.30" stroke="#555" stroke-width="0.5"/>
<text x="23.00" y="264.05" font-size="5.2" text-anchor="end">20</text>
<line x1="23.70" y1="247.30" x2="25.30" y2="247.30" stroke="#555" stroke-width="0.5"/>
<text x="23.00" y="249.05" font-size="5.2" text-anchor="end">40</text>
<line x1="23.70" y1="232.20" x2="25.30" y2="232.20" stroke="#555" stroke-width="0.5"/>
<text x="23.00" y="233.95" font-size="5.2" text-anchor="end">60</text>
<line x1="23.70" y1="217.10" x2="25.30" y2="217.10" stroke="#555" stroke-width="0.5"/>
<text x="23.00" y="218.85" font-size="5.2" text-anchor="end">80</text>
<line x1="23.70" y1="202.10" x2="25.30" y2="202.10" stroke="#555" stroke-width="0.5"/>
<text x="23.00" y="203.85" font-size="5.2" text-anchor="end">100</text>
<line x1="23.70" y1="187.00" x2="25.30" y2="187.00" stroke="#555" stroke-width="0.5"/>
<text x="23.00" y="188.75" font-size="5.2" text-anchor="end">120</text>
<text transform="translate(13.50 228.30) rotate(-90)" x="-20.8" font-size="9.4" textLength="41.5" lengthAdjust="spacingAndGlyphs">Total nodes</text>
<rect x="136.00" y="192.30" width="17.00" height="84.80" fill="#ede93b" stroke="#8a8a3a" stroke-width="0.5"/>
<line x1="144.50" y1="277.10" x2="144.50" y2="278.60" stroke="#555" stroke-width="0.5"/>
<text x="144.50" y="287.80" font-size="9.8" text-anchor="middle">H</text>
<rect x="156.70" y="189.70" width="17.00" height="87.40" fill="#a8509f" stroke="#6a3a66" stroke-width="0.5"/>
<line x1="165.20" y1="277.10" x2="165.20" y2="278.60" stroke="#555" stroke-width="0.5"/>
<text x="165.20" y="287.80" font-size="9.8" text-anchor="middle">S</text>
<rect x="178.10" y="242.70" width="16.80" height="34.40" fill="#1f4b9c" stroke="#1a3570" stroke-width="0.5"/>
<line x1="186.50" y1="277.10" x2="186.50" y2="278.60" stroke="#555" stroke-width="0.5"/>
<text x="186.50" y="287.80" font-size="9.8" text-anchor="middle">Z</text>
<rect x="198.80" y="265.10" width="17.00" height="12.00" fill="#e81c24" stroke="#b0161c" stroke-width="0.5"/>
<line x1="207.30" y1="277.10" x2="207.30" y2="278.60" stroke="#555" stroke-width="0.5"/>
<text x="207.30" y="287.80" font-size="9.8" text-anchor="middle">A</text>
<path d="M133.40 180.30V277.10H216.30" fill="none" stroke="#555" stroke-width="0.8"/>
<line x1="131.80" y1="277.10" x2="133.40" y2="277.10" stroke="#555" stroke-width="0.5"/>
<text x="131.10" y="278.85" font-size="5.2" text-anchor="end">0</text>
<line x1="131.80" y1="266.35" x2="133.40" y2="266.35" stroke="#555" stroke-width="0.5"/>
<text x="131.10" y="268.10" font-size="5.2" text-anchor="end">50</text>
<line x1="131.80" y1="255.59" x2="133.40" y2="255.59" stroke="#555" stroke-width="0.5"/>
<text x="131.10" y="257.34" font-size="5.2" text-anchor="end">100</text>
<line x1="131.80" y1="244.84" x2="133.40" y2="244.84" stroke="#555" stroke-width="0.5"/>
<text x="131.10" y="246.59" font-size="5.2" text-anchor="end">150</text>
<line x1="131.80" y1="234.08" x2="133.40" y2="234.08" stroke="#555" stroke-width="0.5"/>
<text x="131.10" y="235.83" font-size="5.2" text-anchor="end">200</text>
<line x1="131.80" y1="223.33" x2="133.40" y2="223.33" stroke="#555" stroke-width="0.5"/>
<text x="131.10" y="225.08" font-size="5.2" text-anchor="end">250</text>
<line x1="131.80" y1="212.57" x2="133.40" y2="212.57" stroke="#555" stroke-width="0.5"/>
<text x="131.10" y="214.32" font-size="5.2" text-anchor="end">300</text>
<line x1="131.80" y1="201.81" x2="133.40" y2="201.81" stroke="#555" stroke-width="0.5"/>
<text x="131.10" y="203.56" font-size="5.2" text-anchor="end">350</text>
<line x1="131.80" y1="191.06" x2="133.40" y2="191.06" stroke="#555" stroke-width="0.5"/>
<text x="131.10" y="192.81" font-size="5.2" text-anchor="end">400</text>
<line x1="131.80" y1="180.31" x2="133.40" y2="180.31" stroke="#555" stroke-width="0.5"/>
<text x="131.10" y="182.06" font-size="5.2" text-anchor="end">450</text>
<text transform="translate(119.50 228.60) rotate(-90)" x="-20.4" font-size="9.4" textLength="40.8" lengthAdjust="spacingAndGlyphs">Total edges</text>
<rect x="239.40" y="202.30" width="17.10" height="75.10" fill="#ede93b" stroke="#8a8a3a" stroke-width="0.5"/>
<line x1="247.95" y1="277.40" x2="247.95" y2="278.90" stroke="#555" stroke-width="0.5"/>
<text x="247.95" y="287.80" font-size="9.8" text-anchor="middle">H</text>
<rect x="260.40" y="192.70" width="17.00" height="84.70" fill="#a8509f" stroke="#6a3a66" stroke-width="0.5"/>
<line x1="268.90" y1="277.40" x2="268.90" y2="278.90" stroke="#555" stroke-width="0.5"/>
<text x="268.90" y="287.80" font-size="9.8" text-anchor="middle">S</text>
<rect x="281.60" y="200.10" width="17.00" height="77.30" fill="#1f4b9c" stroke="#1a3570" stroke-width="0.5"/>
<line x1="290.10" y1="277.40" x2="290.10" y2="278.90" stroke="#555" stroke-width="0.5"/>
<text x="290.10" y="287.80" font-size="9.8" text-anchor="middle">Z</text>
<rect x="302.70" y="225.60" width="17.00" height="51.80" fill="#e81c24" stroke="#b0161c" stroke-width="0.5"/>
<line x1="311.20" y1="277.40" x2="311.20" y2="278.90" stroke="#555" stroke-width="0.5"/>
<text x="311.20" y="287.80" font-size="9.8" text-anchor="middle">A</text>
<path d="M237.50 180.50V277.40H320.20" fill="none" stroke="#555" stroke-width="0.8"/>
<line x1="235.90" y1="277.40" x2="237.50" y2="277.40" stroke="#555" stroke-width="0.5"/>
<text x="235.20" y="279.15" font-size="5.2" text-anchor="end">0</text>
<line x1="235.90" y1="265.29" x2="237.50" y2="265.29" stroke="#555" stroke-width="0.5"/>
<text x="235.20" y="267.04" font-size="5.2" text-anchor="end">1</text>
<line x1="235.90" y1="253.18" x2="237.50" y2="253.18" stroke="#555" stroke-width="0.5"/>
<text x="235.20" y="254.93" font-size="5.2" text-anchor="end">2</text>
<line x1="235.90" y1="241.07" x2="237.50" y2="241.07" stroke="#555" stroke-width="0.5"/>
<text x="235.20" y="242.82" font-size="5.2" text-anchor="end">3</text>
<line x1="235.90" y1="228.96" x2="237.50" y2="228.96" stroke="#555" stroke-width="0.5"/>
<text x="235.20" y="230.71" font-size="5.2" text-anchor="end">4</text>
<line x1="235.90" y1="216.85" x2="237.50" y2="216.85" stroke="#555" stroke-width="0.5"/>
<text x="235.20" y="218.60" font-size="5.2" text-anchor="end">5</text>
<line x1="235.90" y1="204.74" x2="237.50" y2="204.74" stroke="#555" stroke-width="0.5"/>
<text x="235.20" y="206.49" font-size="5.2" text-anchor="end">6</text>
<line x1="235.90" y1="192.63" x2="237.50" y2="192.63" stroke="#555" stroke-width="0.5"/>
<text x="235.20" y="194.38" font-size="5.2" text-anchor="end">7</text>
<line x1="235.90" y1="180.52" x2="237.50" y2="180.52" stroke="#555" stroke-width="0.5"/>
<text x="235.20" y="182.27" font-size="5.2" text-anchor="end">8</text>
<text transform="translate(227.80 230.00) rotate(-90)" x="-28.8" font-size="9.4" textLength="57.5" lengthAdjust="spacingAndGlyphs">Average degree</text>
<rect x="351.60" y="200.10" width="16.80" height="77.20" fill="#ede93b" stroke="#8a8a3a" stroke-width="0.5"/>
<line x1="360.00" y1="277.30" x2="360.00" y2="278.80" stroke="#555" stroke-width="0.5"/>
<text x="360.00" y="287.80" font-size="9.8" text-anchor="middle">H</text>
<rect x="372.80" y="189.20" width="16.80" height="88.10" fill="#a8509f" stroke="#6a3a66" stroke-width="0.5"/>
<line x1="381.20" y1="277.30" x2="381.20" y2="278.80" stroke="#555" stroke-width="0.5"/>
<text x="381.20" y="287.80" font-size="9.8" text-anchor="middle">S</text>
<rect x="393.50" y="194.70" width="16.80" height="82.60" fill="#1f4b9c" stroke="#1a3570" stroke-width="0.5"/>
<line x1="401.90" y1="277.30" x2="401.90" y2="278.80" stroke="#555" stroke-width="0.5"/>
<text x="401.90" y="287.80" font-size="9.8" text-anchor="middle">Z</text>
<rect x="414.70" y="220.80" width="17.00" height="56.50" fill="#e81c24" stroke="#b0161c" stroke-width="0.5"/>
<line x1="423.20" y1="277.30" x2="423.20" y2="278.80" stroke="#555" stroke-width="0.5"/>
<text x="423.20" y="287.80" font-size="9.8" text-anchor="middle">A</text>
<path d="M349.50 180.50V277.30H432.20" fill="none" stroke="#555" stroke-width="0.8"/>
<line x1="347.90" y1="277.30" x2="349.50" y2="277.30" stroke="#555" stroke-width="0.5"/>
<text x="347.20" y="279.05" font-size="5.2" text-anchor="end">0.0</text>
<line x1="347.90" y1="265.20" x2="349.50" y2="265.20" stroke="#555" stroke-width="0.5"/>
<text x="347.20" y="266.95" font-size="5.2" text-anchor="end">0.1</text>
<line x1="347.90" y1="253.10" x2="349.50" y2="253.10" stroke="#555" stroke-width="0.5"/>
<text x="347.20" y="254.85" font-size="5.2" text-anchor="end">0.2</text>
<line x1="347.90" y1="241.00" x2="349.50" y2="241.00" stroke="#555" stroke-width="0.5"/>
<text x="347.20" y="242.75" font-size="5.2" text-anchor="end">0.3</text>
<line x1="347.90" y1="228.90" x2="349.50" y2="228.90" stroke="#555" stroke-width="0.5"/>
<text x="347.20" y="230.65" font-size="5.2" text-anchor="end">0.4</text>
<line x1="347.90" y1="216.80" x2="349.50" y2="216.80" stroke="#555" stroke-width="0.5"/>
<text x="347.20" y="218.55" font-size="5.2" text-anchor="end">0.5</text>
<line x1="347.90" y1="204.70" x2="349.50" y2="204.70" stroke="#555" stroke-width="0.5"/>
<text x="347.20" y="206.45" font-size="5.2" text-anchor="end">0.6</text>
<line x1="347.90" y1="192.60" x2="349.50" y2="192.60" stroke="#555" stroke-width="0.5"/>
<text x="347.20" y="194.35" font-size="5.2" text-anchor="end">0.7</text>
<line x1="347.90" y1="180.50" x2="349.50" y2="180.50" stroke="#555" stroke-width="0.5"/>
<text x="347.20" y="182.25" font-size="5.2" text-anchor="end">0.8</text>
<text transform="translate(335.50 230.70) rotate(-90)" x="-36.3" font-size="9.4" textLength="72.6" lengthAdjust="spacingAndGlyphs">Relative modularity</text>
<rect x="462.70" y="203.20" width="16.80" height="73.70" fill="#ede93b" stroke="#8a8a3a" stroke-width="0.5"/>
<line x1="471.10" y1="276.90" x2="471.10" y2="278.40" stroke="#555" stroke-width="0.5"/>
<text x="471.10" y="287.80" font-size="9.8" text-anchor="middle">H</text>
<rect x="483.90" y="192.90" width="16.80" height="84.00" fill="#a8509f" stroke="#6a3a66" stroke-width="0.5"/>
<line x1="492.30" y1="276.90" x2="492.30" y2="278.40" stroke="#555" stroke-width="0.5"/>
<text x="492.30" y="287.80" font-size="9.8" text-anchor="middle">S</text>
<rect x="504.80" y="199.00" width="16.80" height="77.90" fill="#1f4b9c" stroke="#1a3570" stroke-width="0.5"/>
<line x1="513.20" y1="276.90" x2="513.20" y2="278.40" stroke="#555" stroke-width="0.5"/>
<text x="513.20" y="287.80" font-size="9.8" text-anchor="middle">Z</text>
<rect x="526.00" y="212.80" width="16.80" height="64.10" fill="#e81c24" stroke="#b0161c" stroke-width="0.5"/>
<line x1="534.40" y1="276.90" x2="534.40" y2="278.40" stroke="#555" stroke-width="0.5"/>
<text x="534.40" y="287.80" font-size="9.8" text-anchor="middle">A</text>
<path d="M460.50 180.30V276.90H543.30" fill="none" stroke="#555" stroke-width="0.8"/>
<line x1="458.90" y1="276.90" x2="460.50" y2="276.90" stroke="#555" stroke-width="0.5"/>
<text x="458.20" y="278.65" font-size="5.2" text-anchor="end">0.0</text>
<line x1="458.90" y1="257.58" x2="460.50" y2="257.58" stroke="#555" stroke-width="0.5"/>
<text x="458.20" y="259.33" font-size="5.2" text-anchor="end">0.2</text>
<line x1="458.90" y1="238.26" x2="460.50" y2="238.26" stroke="#555" stroke-width="0.5"/>
<text x="458.20" y="240.01" font-size="5.2" text-anchor="end">0.4</text>
<line x1="458.90" y1="218.94" x2="460.50" y2="218.94" stroke="#555" stroke-width="0.5"/>
<text x="458.20" y="220.69" font-size="5.2" text-anchor="end">0.6</text>
<line x1="458.90" y1="199.62" x2="460.50" y2="199.62" stroke="#555" stroke-width="0.5"/>
<text x="458.20" y="201.37" font-size="5.2" text-anchor="end">0.8</text>
<line x1="458.90" y1="180.30" x2="460.50" y2="180.30" stroke="#555" stroke-width="0.5"/>
<text x="458.20" y="182.05" font-size="5.2" text-anchor="end">1.0</text>
<text transform="translate(447.70 232.20) rotate(-90)" x="-40.4" font-size="9.4" textLength="80.8" lengthAdjust="spacingAndGlyphs">Clustering coefficient</text>
<rect x="28.40" y="530.60" width="16.60" height="65.20" fill="#ede93b" stroke="#8a8a3a" stroke-width="0.5"/>
<line x1="36.70" y1="595.80" x2="36.70" y2="597.30" stroke="#555" stroke-width="0.5"/>
<text x="36.70" y="606.60" font-size="9.8" text-anchor="middle">H</text>
<rect x="49.10" y="505.90" width="16.60" height="89.90" fill="#a8509f" stroke="#6a3a66" stroke-width="0.5"/>
<line x1="57.40" y1="595.80" x2="57.40" y2="597.30" stroke="#555" stroke-width="0.5"/>
<text x="57.40" y="606.60" font-size="9.8" text-anchor="middle">S</text>
<rect x="69.80" y="530.80" width="16.80" height="65.00" fill="#1f4b9c" stroke="#1a3570" stroke-width="0.5"/>
<line x1="78.20" y1="595.80" x2="78.20" y2="597.30" stroke="#555" stroke-width="0.5"/>
<text x="78.20" y="606.60" font-size="9.8" text-anchor="middle">Z</text>
<rect x="90.60" y="533.90" width="16.50" height="61.90" fill="#e81c24" stroke="#b0161c" stroke-width="0.5"/>
<line x1="98.85" y1="595.80" x2="98.85" y2="597.30" stroke="#555" stroke-width="0.5"/>
<text x="98.85" y="606.60" font-size="9.8" text-anchor="middle">A</text>
<path d="M25.10 498.70V595.80H107.60" fill="none" stroke="#555" stroke-width="0.8"/>
<line x1="23.50" y1="595.80" x2="25.10" y2="595.80" stroke="#555" stroke-width="0.5"/>
<text x="22.80" y="597.55" font-size="5.2" text-anchor="end">0</text>
<line x1="23.50" y1="578.12" x2="25.10" y2="578.12" stroke="#555" stroke-width="0.5"/>
<text x="22.80" y="579.88" font-size="5.2" text-anchor="end">50</text>
<line x1="23.50" y1="560.45" x2="25.10" y2="560.45" stroke="#555" stroke-width="0.5"/>
<text x="22.80" y="562.20" font-size="5.2" text-anchor="end">100</text>
<line x1="23.50" y1="542.77" x2="25.10" y2="542.77" stroke="#555" stroke-width="0.5"/>
<text x="22.80" y="544.52" font-size="5.2" text-anchor="end">150</text>
<line x1="23.50" y1="525.10" x2="25.10" y2="525.10" stroke="#555" stroke-width="0.5"/>
<text x="22.80" y="526.85" font-size="5.2" text-anchor="end">200</text>
<line x1="23.50" y1="507.42" x2="25.10" y2="507.42" stroke="#555" stroke-width="0.5"/>
<text x="22.80" y="509.17" font-size="5.2" text-anchor="end">250</text>
<text transform="translate(13.90 550.00) rotate(-90)" x="-20.8" font-size="9.4" textLength="41.5" lengthAdjust="spacingAndGlyphs">Total nodes</text>
<rect x="139.90" y="533.60" width="16.80" height="62.20" fill="#ede93b" stroke="#8a8a3a" stroke-width="0.5"/>
<line x1="148.30" y1="595.80" x2="148.30" y2="597.30" stroke="#555" stroke-width="0.5"/>
<text x="148.30" y="606.60" font-size="9.8" text-anchor="middle">H</text>
<rect x="161.10" y="507.50" width="16.60" height="88.30" fill="#a8509f" stroke="#6a3a66" stroke-width="0.5"/>
<line x1="169.40" y1="595.80" x2="169.40" y2="597.30" stroke="#555" stroke-width="0.5"/>
<text x="169.40" y="606.60" font-size="9.8" text-anchor="middle">S</text>
<rect x="181.80" y="542.40" width="16.60" height="53.40" fill="#1f4b9c" stroke="#1a3570" stroke-width="0.5"/>
<line x1="190.10" y1="595.80" x2="190.10" y2="597.30" stroke="#555" stroke-width="0.5"/>
<text x="190.10" y="606.60" font-size="9.8" text-anchor="middle">Z</text>
<rect x="202.50" y="544.30" width="16.60" height="51.50" fill="#e81c24" stroke="#b0161c" stroke-width="0.5"/>
<line x1="210.80" y1="595.80" x2="210.80" y2="597.30" stroke="#555" stroke-width="0.5"/>
<text x="210.80" y="606.60" font-size="9.8" text-anchor="middle">A</text>
<path d="M137.70 499.20V595.80H219.60" fill="none" stroke="#555" stroke-width="0.8"/>
<line x1="136.10" y1="595.80" x2="137.70" y2="595.80" stroke="#555" stroke-width="0.5"/>
<text x="135.40" y="597.55" font-size="5.2" text-anchor="end">0</text>
<line x1="136.10" y1="585.07" x2="137.70" y2="585.07" stroke="#555" stroke-width="0.5"/>
<text x="135.40" y="586.82" font-size="5.2" text-anchor="end">200</text>
<line x1="136.10" y1="574.33" x2="137.70" y2="574.33" stroke="#555" stroke-width="0.5"/>
<text x="135.40" y="576.08" font-size="5.2" text-anchor="end">400</text>
<line x1="136.10" y1="563.60" x2="137.70" y2="563.60" stroke="#555" stroke-width="0.5"/>
<text x="135.40" y="565.35" font-size="5.2" text-anchor="end">600</text>
<line x1="136.10" y1="552.86" x2="137.70" y2="552.86" stroke="#555" stroke-width="0.5"/>
<text x="135.40" y="554.61" font-size="5.2" text-anchor="end">800</text>
<line x1="136.10" y1="542.13" x2="137.70" y2="542.13" stroke="#555" stroke-width="0.5"/>
<text x="135.40" y="543.88" font-size="5.2" text-anchor="end">1000</text>
<line x1="136.10" y1="531.40" x2="137.70" y2="531.40" stroke="#555" stroke-width="0.5"/>
<text x="135.40" y="533.15" font-size="5.2" text-anchor="end">1200</text>
<line x1="136.10" y1="520.66" x2="137.70" y2="520.66" stroke="#555" stroke-width="0.5"/>
<text x="135.40" y="522.41" font-size="5.2" text-anchor="end">1400</text>
<line x1="136.10" y1="509.93" x2="137.70" y2="509.93" stroke="#555" stroke-width="0.5"/>
<text x="135.40" y="511.68" font-size="5.2" text-anchor="end">1600</text>
<line x1="136.10" y1="499.19" x2="137.70" y2="499.19" stroke="#555" stroke-width="0.5"/>
<text x="135.40" y="500.94" font-size="5.2" text-anchor="end">1800</text>
<text transform="translate(120.50 551.40) rotate(-90)" x="-20.4" font-size="9.4" textLength="40.8" lengthAdjust="spacingAndGlyphs">Total edges</text>
<rect x="244.90" y="510.10" width="16.60" height="85.70" fill="#ede93b" stroke="#8a8a3a" stroke-width="0.5"/>
<line x1="253.20" y1="595.80" x2="253.20" y2="597.30" stroke="#555" stroke-width="0.5"/>
<text x="253.20" y="606.60" font-size="9.8" text-anchor="middle">H</text>
<rect x="265.60" y="506.40" width="16.60" height="89.40" fill="#a8509f" stroke="#6a3a66" stroke-width="0.5"/>
<line x1="273.90" y1="595.80" x2="273.90" y2="597.30" stroke="#555" stroke-width="0.5"/>
<text x="273.90" y="606.60" font-size="9.8" text-anchor="middle">S</text>
<rect x="286.40" y="521.20" width="16.80" height="74.60" fill="#1f4b9c" stroke="#1a3570" stroke-width="0.5"/>
<line x1="294.80" y1="595.80" x2="294.80" y2="597.30" stroke="#555" stroke-width="0.5"/>
<text x="294.80" y="606.60" font-size="9.8" text-anchor="middle">Z</text>
<rect x="307.10" y="522.10" width="16.80" height="73.70" fill="#e81c24" stroke="#b0161c" stroke-width="0.5"/>
<line x1="315.50" y1="595.80" x2="315.50" y2="597.30" stroke="#555" stroke-width="0.5"/>
<text x="315.50" y="606.60" font-size="9.8" text-anchor="middle">A</text>
<path d="M242.70 499.20V595.80H324.40" fill="none" stroke="#555" stroke-width="0.8"/>
<line x1="241.10" y1="595.80" x2="242.70" y2="595.80" stroke="#555" stroke-width="0.5"/>
<text x="240.40" y="597.55" font-size="5.2" text-anchor="end">0</text>
<line x1="241.10" y1="582.00" x2="242.70" y2="582.00" stroke="#555" stroke-width="0.5"/>
<text x="240.40" y="583.75" font-size="5.2" text-anchor="end">2</text>
<line x1="241.10" y1="568.20" x2="242.70" y2="568.20" stroke="#555" stroke-width="0.5"/>
<text x="240.40" y="569.95" font-size="5.2" text-anchor="end">4</text>
<line x1="241.10" y1="554.40" x2="242.70" y2="554.40" stroke="#555" stroke-width="0.5"/>
<text x="240.40" y="556.15" font-size="5.2" text-anchor="end">6</text>
<line x1="241.10" y1="540.60" x2="242.70" y2="540.60" stroke="#555" stroke-width="0.5"/>
<text x="240.40" y="542.35" font-size="5.2" text-anchor="end">8</text>
<line x1="241.10" y1="526.80" x2="242.70" y2="526.80" stroke="#555" stroke-width="0.5"/>
<text x="240.40" y="528.55" font-size="5.2" text-anchor="end">10</text>
<line x1="241.10" y1="513.00" x2="242.70" y2="513.00" stroke="#555" stroke-width="0.5"/>
<text x="240.40" y="514.75" font-size="5.2" text-anchor="end">12</text>
<line x1="241.10" y1="499.20" x2="242.70" y2="499.20" stroke="#555" stroke-width="0.5"/>
<text x="240.40" y="500.95" font-size="5.2" text-anchor="end">14</text>
<text transform="translate(232.40 552.50) rotate(-90)" x="-28.8" font-size="9.4" textLength="57.5" lengthAdjust="spacingAndGlyphs">Average degree</text>
<rect x="354.30" y="523.20" width="16.50" height="72.60" fill="#ede93b" stroke="#8a8a3a" stroke-width="0.5"/>
<line x1="362.55" y1="595.80" x2="362.55" y2="597.30" stroke="#555" stroke-width="0.5"/>
<text x="362.55" y="606.60" font-size="9.8" text-anchor="middle">H</text>
<rect x="375.20" y="512.90" width="16.60" height="82.90" fill="#a8509f" stroke="#6a3a66" stroke-width="0.5"/>
<line x1="383.50" y1="595.80" x2="383.50" y2="597.30" stroke="#555" stroke-width="0.5"/>
<text x="383.50" y="606.60" font-size="9.8" text-anchor="middle">S</text>
<rect x="395.90" y="513.80" width="16.80" height="82.00" fill="#1f4b9c" stroke="#1a3570" stroke-width="0.5"/>
<line x1="404.30" y1="595.80" x2="404.30" y2="597.30" stroke="#555" stroke-width="0.5"/>
<text x="404.30" y="606.60" font-size="9.8" text-anchor="middle">Z</text>
<rect x="416.70" y="519.00" width="16.80" height="76.80" fill="#e81c24" stroke="#b0161c" stroke-width="0.5"/>
<line x1="425.10" y1="595.80" x2="425.10" y2="597.30" stroke="#555" stroke-width="0.5"/>
<text x="425.10" y="606.60" font-size="9.8" text-anchor="middle">A</text>
<path d="M352.10 498.70V595.80H434.00" fill="none" stroke="#555" stroke-width="0.8"/>
<line x1="350.50" y1="595.80" x2="352.10" y2="595.80" stroke="#555" stroke-width="0.5"/>
<text x="349.80" y="597.55" font-size="5.2" text-anchor="end">0.0</text>
<line x1="350.50" y1="576.38" x2="352.10" y2="576.38" stroke="#555" stroke-width="0.5"/>
<text x="349.80" y="578.13" font-size="5.2" text-anchor="end">0.2</text>
<line x1="350.50" y1="556.96" x2="352.10" y2="556.96" stroke="#555" stroke-width="0.5"/>
<text x="349.80" y="558.71" font-size="5.2" text-anchor="end">0.4</text>
<line x1="350.50" y1="537.54" x2="352.10" y2="537.54" stroke="#555" stroke-width="0.5"/>
<text x="349.80" y="539.29" font-size="5.2" text-anchor="end">0.6</text>
<line x1="350.50" y1="518.12" x2="352.10" y2="518.12" stroke="#555" stroke-width="0.5"/>
<text x="349.80" y="519.87" font-size="5.2" text-anchor="end">0.8</text>
<line x1="350.50" y1="498.70" x2="352.10" y2="498.70" stroke="#555" stroke-width="0.5"/>
<text x="349.80" y="500.45" font-size="5.2" text-anchor="end">1.0</text>
<text transform="translate(340.00 549.80) rotate(-90)" x="-36.3" font-size="9.4" textLength="72.6" lengthAdjust="spacingAndGlyphs">Relative modularity</text>
<rect x="462.70" y="511.20" width="16.80" height="84.60" fill="#ede93b" stroke="#8a8a3a" stroke-width="0.5"/>
<line x1="471.10" y1="595.80" x2="471.10" y2="597.30" stroke="#555" stroke-width="0.5"/>
<text x="474.80" y="606.60" font-size="9.8" text-anchor="middle">H</text>
<rect x="483.90" y="506.80" width="16.60" height="89.00" fill="#a8509f" stroke="#6a3a66" stroke-width="0.5"/>
<line x1="492.20" y1="595.80" x2="492.20" y2="597.30" stroke="#555" stroke-width="0.5"/>
<text x="495.90" y="606.60" font-size="9.8" text-anchor="middle">S</text>
<rect x="504.60" y="516.00" width="16.60" height="79.80" fill="#1f4b9c" stroke="#1a3570" stroke-width="0.5"/>
<line x1="512.90" y1="595.80" x2="512.90" y2="597.30" stroke="#555" stroke-width="0.5"/>
<text x="516.60" y="606.60" font-size="9.8" text-anchor="middle">Z</text>
<rect x="525.40" y="508.80" width="16.80" height="87.00" fill="#e81c24" stroke="#b0161c" stroke-width="0.5"/>
<line x1="533.80" y1="595.80" x2="533.80" y2="597.30" stroke="#555" stroke-width="0.5"/>
<text x="537.50" y="606.60" font-size="9.8" text-anchor="middle">A</text>
<path d="M461.60 498.70V595.80H542.70" fill="none" stroke="#555" stroke-width="0.8"/>
<line x1="460.00" y1="595.80" x2="461.60" y2="595.80" stroke="#555" stroke-width="0.5"/>
<text x="459.30" y="597.55" font-size="5.2" text-anchor="end">0.0</text>
<line x1="460.00" y1="585.01" x2="461.60" y2="585.01" stroke="#555" stroke-width="0.5"/>
<text x="459.30" y="586.76" font-size="5.2" text-anchor="end">0.1</text>
<line x1="460.00" y1="574.22" x2="461.60" y2="574.22" stroke="#555" stroke-width="0.5"/>
<text x="459.30" y="575.97" font-size="5.2" text-anchor="end">0.2</text>
<line x1="460.00" y1="563.43" x2="461.60" y2="563.43" stroke="#555" stroke-width="0.5"/>
<text x="459.30" y="565.18" font-size="5.2" text-anchor="end">0.3</text>
<line x1="460.00" y1="552.64" x2="461.60" y2="552.64" stroke="#555" stroke-width="0.5"/>
<text x="459.30" y="554.39" font-size="5.2" text-anchor="end">0.4</text>
<line x1="460.00" y1="541.85" x2="461.60" y2="541.85" stroke="#555" stroke-width="0.5"/>
<text x="459.30" y="543.60" font-size="5.2" text-anchor="end">0.5</text>
<line x1="460.00" y1="531.06" x2="461.60" y2="531.06" stroke="#555" stroke-width="0.5"/>
<text x="459.30" y="532.81" font-size="5.2" text-anchor="end">0.6</text>
<line x1="460.00" y1="520.27" x2="461.60" y2="520.27" stroke="#555" stroke-width="0.5"/>
<text x="459.30" y="522.02" font-size="5.2" text-anchor="end">0.7</text>
<line x1="460.00" y1="509.48" x2="461.60" y2="509.48" stroke="#555" stroke-width="0.5"/>
<text x="459.30" y="511.23" font-size="5.2" text-anchor="end">0.8</text>
<line x1="460.00" y1="498.69" x2="461.60" y2="498.69" stroke="#555" stroke-width="0.5"/>
<text x="459.30" y="500.44" font-size="5.2" text-anchor="end">0.9</text>
<text transform="translate(447.70 552.80) rotate(-90)" x="-40.4" font-size="9.4" textLength="80.8" lengthAdjust="spacingAndGlyphs">Clustering coefficient</text>
</svg>
</body></html>
